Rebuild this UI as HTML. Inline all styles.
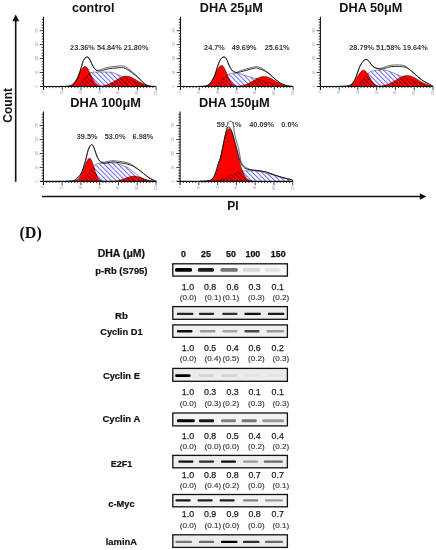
<!DOCTYPE html>
<html><head><meta charset="utf-8"><style>
html,body{margin:0;padding:0;background:#fff;width:436px;height:550px;overflow:hidden}
body{position:relative}
text{font-family:"Liberation Sans",Arial,sans-serif}
.ti{font-size:12.2px;font-weight:bold;fill:#111}
.pc{font-size:8px;font-weight:bold;fill:#383838}
.ax{font-size:12px;font-weight:bold;fill:#111}
.dl{font-family:"Liberation Serif","Times New Roman",serif;font-size:15.8px;font-weight:bold;fill:#111}
.wl{font-size:9.6px;font-weight:bold;fill:#111;stroke:#111;stroke-width:0.2px}
.ln{font-size:8.9px;font-weight:bold;fill:#111;stroke:#111;stroke-width:0.25px}
.rt{font-size:8.8px;fill:#222;stroke:#222;stroke-width:0.25px}
.pr{font-size:8.1px;fill:#3a3a3a;stroke:#3a3a3a;stroke-width:0.15px}
.tl{font-size:2.7px;fill:#8a9aaa}
</style></head><body>
<svg width="436" height="550" viewBox="0 0 436 550" style="position:absolute;left:0;top:0">
<defs>
<pattern id="hb" patternUnits="userSpaceOnUse" width="3.3" height="3.3" patternTransform="rotate(-45)">
<rect x="0" y="0" width="1.0" height="3.3" fill="#6464ff"/></pattern>
<pattern id="hk" patternUnits="userSpaceOnUse" width="3.3" height="3.3" patternTransform="rotate(-45)">
<rect x="0" y="0" width="0.85" height="3.3" fill="#600"/></pattern>
<filter id="bl" x="-10%" y="-100%" width="120%" height="300%"><feGaussianBlur stdDeviation="0.55"/></filter>
</defs>
<text x="70.1" y="50" class="pc" text-anchor="start" textLength="78.32" lengthAdjust="spacingAndGlyphs">23.36% 54.84% 21.80%</text>
<text x="204.1" y="49.6" class="pc" text-anchor="start" textLength="20.7" lengthAdjust="spacingAndGlyphs">24.7%</text>
<text x="231.7" y="49.6" class="pc" text-anchor="start" textLength="24.75" lengthAdjust="spacingAndGlyphs">49.69%</text>
<text x="264.7" y="49.6" class="pc" text-anchor="start" textLength="24.75" lengthAdjust="spacingAndGlyphs">25.61%</text>
<text x="349.3" y="50.1" class="pc" text-anchor="start" textLength="78.32" lengthAdjust="spacingAndGlyphs">28.79% 51.58% 19.64%</text>
<text x="76.8" y="139.4" class="pc" text-anchor="start" textLength="20.7" lengthAdjust="spacingAndGlyphs">39.5%</text>
<text x="104.7" y="139.4" class="pc" text-anchor="start" textLength="20.7" lengthAdjust="spacingAndGlyphs">53.0%</text>
<text x="132.6" y="139.4" class="pc" text-anchor="start" textLength="20.7" lengthAdjust="spacingAndGlyphs">6.98%</text>
<text x="216.8" y="126.7" class="pc" text-anchor="start" textLength="24.75" lengthAdjust="spacingAndGlyphs">59.91%</text>
<text x="249.3" y="126.7" class="pc" text-anchor="start" textLength="24.75" lengthAdjust="spacingAndGlyphs">40.09%</text>
<text x="281.3" y="126.7" class="pc" text-anchor="start" textLength="16.64" lengthAdjust="spacingAndGlyphs">0.0%</text>
<path d="M60,86.4 C61.67,86.37 67.85,86.5 70,86.2 C72.15,85.9 71.65,85.87 72.9,84.6 C74.15,83.33 76.12,81.43 77.5,78.6 C78.88,75.77 80.2,70.65 81.2,67.6 C82.2,64.55 82.58,62.07 83.5,60.3 C84.42,58.53 85.72,57.23 86.7,57 C87.68,56.77 88.48,57.6 89.4,58.9 C90.32,60.2 91.35,63.2 92.2,64.8 C93.05,66.4 93.73,67.58 94.5,68.5 C95.27,69.42 95.97,70.05 96.8,70.3 C97.63,70.55 98.58,70.22 99.5,70 C100.42,69.78 100.75,69.47 102.3,69 C103.85,68.53 106.5,67.65 108.8,67.2 C111.1,66.75 113.97,66.53 116.1,66.3 C118.23,66.07 120.07,65.73 121.6,65.8 C123.13,65.87 123.92,66.02 125.3,66.7 C126.68,67.38 128.53,68.83 129.9,69.9 C131.27,70.97 132.23,72 133.5,73.1 C134.77,74.2 136.07,75.08 137.5,76.5 C138.93,77.92 140.57,80.15 142.1,81.6 C143.63,83.05 145.38,84.42 146.7,85.2 C148.02,85.98 148.45,86.08 150,86.3 C151.55,86.52 155,86.47 156,86.5 L156,86.5 L60,86.5 Z" fill="#fff"/>
<polygon points="43.5,86.5 44,86.5 44.5,86.5 45,86.5 45.5,86.5 46,86.5 46.5,86.5 47,86.5 47.5,86.5 48,86.5 48.5,86.5 49,86.5 49.5,86.5 50,86.5 50.5,86.5 51,86.5 51.5,86.5 52,86.5 52.5,86.5 53,86.5 53.5,86.5 54,86.5 54.5,86.5 55,86.5 55.5,86.5 56,86.5 56.5,86.5 57,86.5 57.5,86.5 58,86.5 58.5,86.5 59,86.5 59.5,86.5 60,86.5 60.5,86.5 61,86.49 61.5,86.49 62,86.49 62.5,86.48 63,86.48 63.5,86.47 64,86.46 64.5,86.44 65,86.42 65.5,86.4 66,86.37 66.5,86.33 67,86.28 67.5,86.21 68,86.14 68.5,86.04 69,85.93 69.5,85.79 70,85.62 70.5,85.42 71,85.18 71.5,84.9 72,84.58 72.5,84.21 73,83.78 73.5,83.3 74,82.76 74.5,82.15 75,81.49 75.5,80.76 76,79.97 76.5,79.13 77,78.24 77.5,77.3 78,76.32 78.5,75.32 79,74.31 79.5,73.3 80,72.3 80.5,71.33 81,70.41 81.5,69.54 82,68.76 82.5,68.07 83,67.49 83.5,67.02 84,66.68 84.5,66.47 85,66.4 85.5,66.48 86,66.72 86.5,67.11 87,67.64 87.5,68.31 88,69.09 88.5,69.97 89,70.93 89.5,71.95 90,73.01 90.5,72.78 91,72.57 91.5,72.41 92,72.29 92.5,72.22 93,72.17 93.5,72.13 94,72.12 94.5,72.11 95,72.1 95.5,72.1 96,72.1 96.5,72.1 97,72.1 97.5,72.1 98,72.1 98.5,72.1 99,72.1 99.5,72.1 100,72.1 100.5,72.1 101,72.1 101.5,72.1 102,72.1 102.5,72.1 103,72.1 103.5,72.1 104,72.1 104.5,72.1 105,72.1 105.5,72.1 106,72.1 106.5,72.1 107,72.1 107.5,72.1 108,72.11 108.5,72.11 109,72.12 109.5,72.14 110,72.17 110.5,72.21 111,72.26 111.5,72.34 112,72.44 112.5,72.55 113,72.69 113.5,72.84 114,73.02 114.5,73.2 115,73.39 115.5,73.59 116,73.8 116.5,74.01 117,74.22 117.5,74.43 118,74.64 118.5,74.85 119,75.06 119.5,75.28 120,75.49 120.5,75.7 121,75.91 121.5,76.12 122,76.34 122.5,76.55 123,76.63 123.5,76.48 124,76.36 124.5,76.26 125,76.18 125.5,76.13 126,76.1 126.5,76.1 127,76.12 127.5,76.17 128,76.24 128.5,76.34 129,76.46 129.5,76.6 130,76.76 130.5,76.95 131,77.15 131.5,77.37 132,77.6 132.5,77.85 133,78.12 133.5,78.39 134,78.68 134.5,78.97 135,79.27 135.5,79.58 136,79.88 136.5,80.19 137,80.5 137.5,80.81 138,81.11 138.5,81.41 139,81.71 139.5,82 140,82.28 140.5,82.55 141,82.82 141.5,83.07 142,83.32 142.5,83.55 143,83.78 143.5,83.99 144,84.19 144.5,84.38 145,84.56 145.5,84.73 146,84.89 146.5,85.04 147,85.17 147.5,85.3 148,85.42 148.5,85.53 149,85.63 149.5,85.72 150,85.8 150.5,85.88 151,85.95 151.5,86.01 152,86.06 152.5,86.12 153,86.16 153.5,86.2 154,86.24 154.5,86.27 155,86.3 155.5,86.33 156,86.35 156,86.35 155.5,86.33 155,86.3 154.5,86.27 154,86.24 153.5,86.2 153,86.16 152.5,86.12 152,86.06 151.5,86.01 151,85.95 150.5,85.88 150,85.8 149.5,85.72 149,85.63 148.5,85.53 148,85.42 147.5,85.3 147,85.17 146.5,85.04 146,84.89 145.5,84.73 145,84.56 144.5,84.38 144,84.19 143.5,83.99 143,83.78 142.5,83.55 142,83.32 141.5,83.07 141,82.82 140.5,82.55 140,82.28 139.5,82 139,81.71 138.5,81.41 138,81.11 137.5,80.81 137,80.5 136.5,80.19 136,79.88 135.5,79.58 135,79.27 134.5,78.97 134,78.68 133.5,78.39 133,78.12 132.5,77.85 132,77.6 131.5,77.37 131,77.15 130.5,76.95 130,76.76 129.5,76.6 129,76.46 128.5,76.34 128,76.24 127.5,76.17 127,76.12 126.5,76.1 126,76.1 125.5,76.13 125,76.18 124.5,76.26 124,76.36 123.5,76.48 123,76.63 122.5,76.8 122,76.98 121.5,77.19 121,77.41 120.5,77.65 120,77.91 119.5,78.17 119,78.45 118.5,78.74 118,79.03 117.5,79.33 117,79.64 116.5,79.94 116,80.25 115.5,80.56 115,80.87 114.5,81.17 114,81.47 113.5,81.77 113,82.06 112.5,82.34 112,82.61 111.5,82.87 111,83.12 110.5,83.37 110,83.6 109.5,83.82 109,84.03 108.5,84.23 108,84.42 107.5,84.6 107,84.76 106.5,84.92 106,85.06 105.5,85.2 105,85.32 104.5,85.44 104,85.55 103.5,85.64 103,85.73 102.5,85.82 102,85.89 101.5,85.96 101,86.02 100.5,86.06 100,85.94 99.5,85.8 99,85.62 98.5,85.4 98,85.14 97.5,84.84 97,84.48 96.5,84.06 96,83.58 95.5,83.03 95,82.42 94.5,81.73 94,80.98 93.5,80.15 93,79.25 92.5,78.3 92,77.3 91.5,76.25 91,75.18 90.5,74.09 90,73.01 89.5,71.95 89,70.93 88.5,69.97 88,69.09 87.5,68.31 87,67.64 86.5,67.11 86,66.72 85.5,66.48 85,66.4 84.5,66.47 84,66.68 83.5,67.02 83,67.49 82.5,68.07 82,68.76 81.5,69.54 81,70.41 80.5,71.33 80,72.3 79.5,73.3 79,74.31 78.5,75.32 78,76.32 77.5,77.3 77,78.24 76.5,79.13 76,79.97 75.5,80.76 75,81.49 74.5,82.15 74,82.76 73.5,83.3 73,83.78 72.5,84.21 72,84.58 71.5,84.9 71,85.18 70.5,85.42 70,85.62 69.5,85.79 69,85.93 68.5,86.04 68,86.14 67.5,86.21 67,86.28 66.5,86.33 66,86.37 65.5,86.4 65,86.42 64.5,86.44 64,86.46 63.5,86.47 63,86.48 62.5,86.48 62,86.49 61.5,86.49 61,86.49 60.5,86.5 60,86.5 59.5,86.5 59,86.5 58.5,86.5 58,86.5 57.5,86.5 57,86.5 56.5,86.5 56,86.5 55.5,86.5 55,86.5 54.5,86.5 54,86.5 53.5,86.5 53,86.5 52.5,86.5 52,86.5 51.5,86.5 51,86.5 50.5,86.5 50,86.5 49.5,86.5 49,86.5 48.5,86.5 48,86.5 47.5,86.5 47,86.5 46.5,86.5 46,86.5 45.5,86.5 45,86.5 44.5,86.5 44,86.5 43.5,86.5" fill="#fff"/>
<polygon points="43.5,86.5 44,86.5 44.5,86.5 45,86.5 45.5,86.5 46,86.5 46.5,86.5 47,86.5 47.5,86.5 48,86.5 48.5,86.5 49,86.5 49.5,86.5 50,86.5 50.5,86.5 51,86.5 51.5,86.5 52,86.5 52.5,86.5 53,86.5 53.5,86.5 54,86.5 54.5,86.5 55,86.5 55.5,86.5 56,86.5 56.5,86.5 57,86.5 57.5,86.5 58,86.5 58.5,86.5 59,86.5 59.5,86.5 60,86.5 60.5,86.5 61,86.49 61.5,86.49 62,86.49 62.5,86.48 63,86.48 63.5,86.47 64,86.46 64.5,86.44 65,86.42 65.5,86.4 66,86.37 66.5,86.33 67,86.28 67.5,86.21 68,86.14 68.5,86.04 69,85.93 69.5,85.79 70,85.62 70.5,85.42 71,85.18 71.5,84.9 72,84.58 72.5,84.21 73,83.78 73.5,83.3 74,82.76 74.5,82.15 75,81.49 75.5,80.76 76,79.97 76.5,79.13 77,78.24 77.5,77.3 78,76.32 78.5,75.32 79,74.31 79.5,73.3 80,72.3 80.5,71.33 81,70.41 81.5,69.54 82,68.76 82.5,68.07 83,67.49 83.5,67.02 84,66.68 84.5,66.47 85,66.4 85.5,66.48 86,66.72 86.5,67.11 87,67.64 87.5,68.31 88,69.09 88.5,69.97 89,70.93 89.5,71.95 90,73.01 90.5,72.78 91,72.57 91.5,72.41 92,72.29 92.5,72.22 93,72.17 93.5,72.13 94,72.12 94.5,72.11 95,72.1 95.5,72.1 96,72.1 96.5,72.1 97,72.1 97.5,72.1 98,72.1 98.5,72.1 99,72.1 99.5,72.1 100,72.1 100.5,72.1 101,72.1 101.5,72.1 102,72.1 102.5,72.1 103,72.1 103.5,72.1 104,72.1 104.5,72.1 105,72.1 105.5,72.1 106,72.1 106.5,72.1 107,72.1 107.5,72.1 108,72.11 108.5,72.11 109,72.12 109.5,72.14 110,72.17 110.5,72.21 111,72.26 111.5,72.34 112,72.44 112.5,72.55 113,72.69 113.5,72.84 114,73.02 114.5,73.2 115,73.39 115.5,73.59 116,73.8 116.5,74.01 117,74.22 117.5,74.43 118,74.64 118.5,74.85 119,75.06 119.5,75.28 120,75.49 120.5,75.7 121,75.91 121.5,76.12 122,76.34 122.5,76.55 123,76.63 123.5,76.48 124,76.36 124.5,76.26 125,76.18 125.5,76.13 126,76.1 126.5,76.1 127,76.12 127.5,76.17 128,76.24 128.5,76.34 129,76.46 129.5,76.6 130,76.76 130.5,76.95 131,77.15 131.5,77.37 132,77.6 132.5,77.85 133,78.12 133.5,78.39 134,78.68 134.5,78.97 135,79.27 135.5,79.58 136,79.88 136.5,80.19 137,80.5 137.5,80.81 138,81.11 138.5,81.41 139,81.71 139.5,82 140,82.28 140.5,82.55 141,82.82 141.5,83.07 142,83.32 142.5,83.55 143,83.78 143.5,83.99 144,84.19 144.5,84.38 145,84.56 145.5,84.73 146,84.89 146.5,85.04 147,85.17 147.5,85.3 148,85.42 148.5,85.53 149,85.63 149.5,85.72 150,85.8 150.5,85.88 151,85.95 151.5,86.01 152,86.06 152.5,86.12 153,86.16 153.5,86.2 154,86.24 154.5,86.27 155,86.3 155.5,86.33 156,86.35 156,86.35 155.5,86.33 155,86.3 154.5,86.27 154,86.24 153.5,86.2 153,86.16 152.5,86.12 152,86.06 151.5,86.01 151,85.95 150.5,85.88 150,85.8 149.5,85.72 149,85.63 148.5,85.53 148,85.42 147.5,85.3 147,85.17 146.5,85.04 146,84.89 145.5,84.73 145,84.56 144.5,84.38 144,84.19 143.5,83.99 143,83.78 142.5,83.55 142,83.32 141.5,83.07 141,82.82 140.5,82.55 140,82.28 139.5,82 139,81.71 138.5,81.41 138,81.11 137.5,80.81 137,80.5 136.5,80.19 136,79.88 135.5,79.58 135,79.27 134.5,78.97 134,78.68 133.5,78.39 133,78.12 132.5,77.85 132,77.6 131.5,77.37 131,77.15 130.5,76.95 130,76.76 129.5,76.6 129,76.46 128.5,76.34 128,76.24 127.5,76.17 127,76.12 126.5,76.1 126,76.1 125.5,76.13 125,76.18 124.5,76.26 124,76.36 123.5,76.48 123,76.63 122.5,76.8 122,76.98 121.5,77.19 121,77.41 120.5,77.65 120,77.91 119.5,78.17 119,78.45 118.5,78.74 118,79.03 117.5,79.33 117,79.64 116.5,79.94 116,80.25 115.5,80.56 115,80.87 114.5,81.17 114,81.47 113.5,81.77 113,82.06 112.5,82.34 112,82.61 111.5,82.87 111,83.12 110.5,83.37 110,83.6 109.5,83.82 109,84.03 108.5,84.23 108,84.42 107.5,84.6 107,84.76 106.5,84.92 106,85.06 105.5,85.2 105,85.32 104.5,85.44 104,85.55 103.5,85.64 103,85.73 102.5,85.82 102,85.89 101.5,85.96 101,86.02 100.5,86.06 100,85.94 99.5,85.8 99,85.62 98.5,85.4 98,85.14 97.5,84.84 97,84.48 96.5,84.06 96,83.58 95.5,83.03 95,82.42 94.5,81.73 94,80.98 93.5,80.15 93,79.25 92.5,78.3 92,77.3 91.5,76.25 91,75.18 90.5,74.09 90,73.01 89.5,71.95 89,70.93 88.5,69.97 88,69.09 87.5,68.31 87,67.64 86.5,67.11 86,66.72 85.5,66.48 85,66.4 84.5,66.47 84,66.68 83.5,67.02 83,67.49 82.5,68.07 82,68.76 81.5,69.54 81,70.41 80.5,71.33 80,72.3 79.5,73.3 79,74.31 78.5,75.32 78,76.32 77.5,77.3 77,78.24 76.5,79.13 76,79.97 75.5,80.76 75,81.49 74.5,82.15 74,82.76 73.5,83.3 73,83.78 72.5,84.21 72,84.58 71.5,84.9 71,85.18 70.5,85.42 70,85.62 69.5,85.79 69,85.93 68.5,86.04 68,86.14 67.5,86.21 67,86.28 66.5,86.33 66,86.37 65.5,86.4 65,86.42 64.5,86.44 64,86.46 63.5,86.47 63,86.48 62.5,86.48 62,86.49 61.5,86.49 61,86.49 60.5,86.5 60,86.5 59.5,86.5 59,86.5 58.5,86.5 58,86.5 57.5,86.5 57,86.5 56.5,86.5 56,86.5 55.5,86.5 55,86.5 54.5,86.5 54,86.5 53.5,86.5 53,86.5 52.5,86.5 52,86.5 51.5,86.5 51,86.5 50.5,86.5 50,86.5 49.5,86.5 49,86.5 48.5,86.5 48,86.5 47.5,86.5 47,86.5 46.5,86.5 46,86.5 45.5,86.5 45,86.5 44.5,86.5 44,86.5 43.5,86.5" fill="url(#hb)"/>
<polygon points="43.5,86.5 44,86.5 44.5,86.5 45,86.5 45.5,86.5 46,86.5 46.5,86.5 47,86.5 47.5,86.5 48,86.5 48.5,86.5 49,86.5 49.5,86.5 50,86.5 50.5,86.5 51,86.5 51.5,86.5 52,86.5 52.5,86.5 53,86.5 53.5,86.5 54,86.5 54.5,86.5 55,86.5 55.5,86.5 56,86.5 56.5,86.5 57,86.5 57.5,86.5 58,86.5 58.5,86.5 59,86.5 59.5,86.5 60,86.5 60.5,86.5 61,86.49 61.5,86.49 62,86.49 62.5,86.48 63,86.48 63.5,86.47 64,86.46 64.5,86.44 65,86.42 65.5,86.4 66,86.37 66.5,86.33 67,86.28 67.5,86.21 68,86.14 68.5,86.04 69,85.93 69.5,85.79 70,85.62 70.5,85.42 71,85.18 71.5,84.9 72,84.58 72.5,84.21 73,83.78 73.5,83.3 74,82.76 74.5,82.15 75,81.49 75.5,80.76 76,79.97 76.5,79.13 77,78.24 77.5,77.3 78,76.32 78.5,75.32 79,74.31 79.5,73.3 80,72.3 80.5,71.33 81,70.41 81.5,69.54 82,68.76 82.5,68.07 83,67.49 83.5,67.02 84,66.68 84.5,66.47 85,66.4 85.5,66.48 86,66.72 86.5,67.11 87,67.64 87.5,68.31 88,69.09 88.5,69.97 89,70.93 89.5,71.95 90,73.01 90.5,74.09 91,75.18 91.5,76.25 92,77.3 92.5,78.3 93,79.25 93.5,80.15 94,80.98 94.5,81.73 95,82.42 95.5,83.03 96,83.58 96.5,84.06 97,84.48 97.5,84.84 98,85.14 98.5,85.4 99,85.62 99.5,85.8 100,85.94 100.5,86.06 101,86.02 101.5,85.96 102,85.89 102.5,85.82 103,85.73 103.5,85.64 104,85.55 104.5,85.44 105,85.32 105.5,85.2 106,85.06 106.5,84.92 107,84.76 107.5,84.6 108,84.42 108.5,84.23 109,84.03 109.5,83.82 110,83.6 110.5,83.37 111,83.12 111.5,82.87 112,82.61 112.5,82.34 113,82.06 113.5,81.77 114,81.47 114.5,81.17 115,80.87 115.5,80.56 116,80.25 116.5,79.94 117,79.64 117.5,79.33 118,79.03 118.5,78.74 119,78.45 119.5,78.17 120,77.91 120.5,77.65 121,77.41 121.5,77.19 122,76.98 122.5,76.8 123,76.63 123.5,76.48 124,76.36 124.5,76.26 125,76.18 125.5,76.13 126,76.1 126.5,76.1 127,76.12 127.5,76.17 128,76.24 128.5,76.34 129,76.46 129.5,76.6 130,76.76 130.5,76.95 131,77.15 131.5,77.37 132,77.6 132.5,77.85 133,78.12 133.5,78.39 134,78.68 134.5,78.97 135,79.27 135.5,79.58 136,79.88 136.5,80.19 137,80.5 137.5,80.81 138,81.11 138.5,81.41 139,81.71 139.5,82 140,82.28 140.5,82.55 141,82.82 141.5,83.07 142,83.32 142.5,83.55 143,83.78 143.5,83.99 144,84.19 144.5,84.38 145,84.56 145.5,84.73 146,84.89 146.5,85.04 147,85.17 147.5,85.3 148,85.42 148.5,85.53 149,85.63 149.5,85.72 150,85.8 150.5,85.88 151,85.95 151.5,86.01 152,86.06 152.5,86.12 153,86.16 153.5,86.2 154,86.24 154.5,86.27 155,86.3 155.5,86.33 156,86.35 156,86.5 43.5,86.5" fill="#f00"/>
<polygon points="43.5,86.5 44,86.5 44.5,86.5 45,86.5 45.5,86.5 46,86.5 46.5,86.5 47,86.5 47.5,86.5 48,86.5 48.5,86.5 49,86.5 49.5,86.5 50,86.5 50.5,86.5 51,86.5 51.5,86.5 52,86.5 52.5,86.5 53,86.5 53.5,86.5 54,86.5 54.5,86.5 55,86.5 55.5,86.5 56,86.5 56.5,86.5 57,86.5 57.5,86.5 58,86.5 58.5,86.5 59,86.5 59.5,86.5 60,86.5 60.5,86.5 61,86.5 61.5,86.5 62,86.5 62.5,86.5 63,86.5 63.5,86.5 64,86.5 64.5,86.5 65,86.5 65.5,86.5 66,86.5 66.5,86.5 67,86.5 67.5,86.5 68,86.5 68.5,86.5 69,86.5 69.5,86.5 70,86.5 70.5,86.5 71,86.5 71.5,86.5 72,86.5 72.5,86.5 73,86.5 73.5,86.49 74,86.48 74.5,86.47 75,86.43 75.5,86.38 76,86.31 76.5,86.19 77,86.03 77.5,85.82 78,85.55 78.5,85.22 79,84.83 79.5,84.39 80,83.91 80.5,83.38 81,82.83 81.5,82.27 82,81.68 82.5,81.09 83,80.5 83.5,79.9 84,79.3 84.5,78.7 85,78.1 85.5,77.51 86,76.92 86.5,76.33 87,75.77 87.5,75.22 88,74.69 88.5,74.21 89,73.77 89.5,73.38 90,73.05 90.5,74.09 91,75.18 91.5,76.25 92,77.3 92.5,78.3 93,79.25 93.5,80.15 94,80.98 94.5,81.73 95,82.42 95.5,83.03 96,83.58 96.5,84.06 97,84.48 97.5,84.84 98,85.14 98.5,85.4 99,85.62 99.5,85.8 100,85.94 100.5,86.06 101,86.02 101.5,85.96 102,85.89 102.5,85.82 103,85.73 103.5,85.64 104,85.55 104.5,85.44 105,85.32 105.5,85.2 106,85.06 106.5,84.92 107,84.76 107.5,84.6 108,84.42 108.5,84.23 109,84.03 109.5,83.82 110,83.6 110.5,83.37 111,83.12 111.5,82.87 112,82.61 112.5,82.34 113,82.06 113.5,81.77 114,81.47 114.5,81.17 115,80.87 115.5,80.56 116,80.25 116.5,79.94 117,79.64 117.5,79.33 118,79.03 118.5,78.74 119,78.45 119.5,78.17 120,77.91 120.5,77.65 121,77.41 121.5,77.19 122,76.98 122.5,76.8 123,76.76 123.5,76.97 124,77.18 124.5,77.39 125,77.61 125.5,77.82 126,78.03 126.5,78.24 127,78.45 127.5,78.66 128,78.88 128.5,79.09 129,79.3 129.5,79.51 130,79.72 130.5,79.94 131,80.15 131.5,80.36 132,80.57 132.5,80.78 133,80.99 133.5,81.21 134,81.42 134.5,81.63 135,81.84 135.5,82.05 136,82.26 136.5,82.48 137,82.69 137.5,82.9 138,83.11 138.5,83.32 139,83.54 139.5,83.75 140,83.96 140.5,84.17 141,84.38 141.5,84.59 142,84.8 142.5,85.01 143,85.21 143.5,85.4 144,85.58 144.5,85.76 145,85.91 145.5,86.05 146,86.16 146.5,86.26 147,86.34 147.5,86.39 148,86.43 148.5,86.46 149,86.48 149.5,86.49 150,86.49 150.5,86.5 151,86.5 151.5,86.5 152,86.5 152.5,86.5 153,86.5 153.5,86.5 154,86.5 154.5,86.5 155,86.5 155.5,86.5 156,86.5 156,86.5 43.5,86.5" fill="url(#hk)"/>
<polyline points="75,86.43 75.5,86.38 76,86.31 76.5,86.19 77,86.03 77.5,85.82 78,85.55 78.5,85.22 79,84.83 79.5,84.39 80,83.91 80.5,83.38 81,82.83 81.5,82.27 82,81.68 82.5,81.09 83,80.5 83.5,79.9 84,79.3 84.5,78.7 85,78.1 85.5,77.51 86,76.92 86.5,76.33 87,75.77 87.5,75.22 88,74.69 88.5,74.21 89,73.77 89.5,73.38 90,73.05 90.5,72.78" fill="none" stroke="#400" stroke-width="0.55"/>
<polyline points="90.5,72.78 91,72.57 91.5,72.41 92,72.29 92.5,72.22 93,72.17 93.5,72.13 94,72.12 94.5,72.11 95,72.1 95.5,72.1 96,72.1 96.5,72.1 97,72.1 97.5,72.1 98,72.1 98.5,72.1 99,72.1 99.5,72.1 100,72.1 100.5,72.1 101,72.1 101.5,72.1 102,72.1 102.5,72.1 103,72.1 103.5,72.1 104,72.1 104.5,72.1 105,72.1 105.5,72.1 106,72.1 106.5,72.1 107,72.1 107.5,72.1 108,72.11 108.5,72.11 109,72.12 109.5,72.14 110,72.17 110.5,72.21 111,72.26 111.5,72.34 112,72.44 112.5,72.55 113,72.69 113.5,72.84 114,73.02 114.5,73.2 115,73.39 115.5,73.59 116,73.8 116.5,74.01 117,74.22 117.5,74.43 118,74.64 118.5,74.85 119,75.06 119.5,75.28 120,75.49 120.5,75.7 121,75.91 121.5,76.12 122,76.34 122.5,76.55 123,76.76" fill="none" stroke="#336" stroke-width="0.55"/>
<polyline points="123,76.76 123.5,76.97 124,77.18 124.5,77.39 125,77.61 125.5,77.82 126,78.03 126.5,78.24 127,78.45 127.5,78.66 128,78.88 128.5,79.09 129,79.3 129.5,79.51 130,79.72 130.5,79.94 131,80.15 131.5,80.36 132,80.57 132.5,80.78 133,80.99 133.5,81.21 134,81.42 134.5,81.63 135,81.84 135.5,82.05 136,82.26 136.5,82.48 137,82.69 137.5,82.9 138,83.11 138.5,83.32 139,83.54 139.5,83.75 140,83.96 140.5,84.17 141,84.38 141.5,84.59 142,84.8 142.5,85.01 143,85.21 143.5,85.4 144,85.58 144.5,85.76 145,85.91 145.5,86.05 146,86.16 146.5,86.26 147,86.34 147.5,86.39 148,86.43" fill="none" stroke="#400" stroke-width="0.55"/>
<polyline points="65.5,86.4 66,86.37 66.5,86.33 67,86.28 67.5,86.21 68,86.14 68.5,86.04 69,85.93 69.5,85.79 70,85.62 70.5,85.42 71,85.18 71.5,84.9 72,84.58 72.5,84.21 73,83.78 73.5,83.3 74,82.76 74.5,82.15 75,81.49 75.5,80.76 76,79.97 76.5,79.13 77,78.24 77.5,77.3 78,76.32 78.5,75.32 79,74.31 79.5,73.3 80,72.3 80.5,71.33 81,70.41 81.5,69.54 82,68.76 82.5,68.07 83,67.49 83.5,67.02 84,66.68 84.5,66.47 85,66.4 85.5,66.48 86,66.72 86.5,67.11 87,67.64 87.5,68.31 88,69.09 88.5,69.97 89,70.93 89.5,71.95 90,73.01 90.5,74.09 91,75.18 91.5,76.25 92,77.3 92.5,78.3 93,79.25 93.5,80.15 94,80.98 94.5,81.73 95,82.42 95.5,83.03 96,83.58 96.5,84.06 97,84.48 97.5,84.84 98,85.14 98.5,85.4 99,85.62 99.5,85.8 100,85.94 100.5,86.06 101,86.02 101.5,85.96 102,85.89 102.5,85.82 103,85.73 103.5,85.64 104,85.55 104.5,85.44 105,85.32 105.5,85.2 106,85.06 106.5,84.92 107,84.76 107.5,84.6 108,84.42 108.5,84.23 109,84.03 109.5,83.82 110,83.6 110.5,83.37 111,83.12 111.5,82.87 112,82.61 112.5,82.34 113,82.06 113.5,81.77 114,81.47 114.5,81.17 115,80.87 115.5,80.56 116,80.25 116.5,79.94 117,79.64 117.5,79.33 118,79.03 118.5,78.74 119,78.45 119.5,78.17 120,77.91 120.5,77.65 121,77.41 121.5,77.19 122,76.98 122.5,76.8 123,76.63 123.5,76.48 124,76.36 124.5,76.26 125,76.18 125.5,76.13 126,76.1 126.5,76.1 127,76.12 127.5,76.17 128,76.24 128.5,76.34 129,76.46 129.5,76.6 130,76.76 130.5,76.95 131,77.15 131.5,77.37 132,77.6 132.5,77.85 133,78.12 133.5,78.39 134,78.68 134.5,78.97 135,79.27 135.5,79.58 136,79.88 136.5,80.19 137,80.5 137.5,80.81 138,81.11 138.5,81.41 139,81.71 139.5,82 140,82.28 140.5,82.55 141,82.82 141.5,83.07 142,83.32 142.5,83.55 143,83.78 143.5,83.99 144,84.19 144.5,84.38 145,84.56 145.5,84.73 146,84.89 146.5,85.04 147,85.17 147.5,85.3 148,85.42 148.5,85.53 149,85.63 149.5,85.72 150,85.8 150.5,85.88 151,85.95 151.5,86.01 152,86.06 152.5,86.12 153,86.16 153.5,86.2 154,86.24 154.5,86.27 155,86.3 155.5,86.33 156,86.35" fill="none" stroke="#300" stroke-width="0.5"/>
<path d="M60,86.4 C61.67,86.37 67.85,86.5 70,86.2 C72.15,85.9 71.65,85.87 72.9,84.6 C74.15,83.33 76.12,81.43 77.5,78.6 C78.88,75.77 80.2,70.65 81.2,67.6 C82.2,64.55 82.58,62.07 83.5,60.3 C84.42,58.53 85.72,57.23 86.7,57 C87.68,56.77 88.48,57.6 89.4,58.9 C90.32,60.2 91.35,63.2 92.2,64.8 C93.05,66.4 93.73,67.58 94.5,68.5 C95.27,69.42 95.97,70.05 96.8,70.3 C97.63,70.55 98.58,70.22 99.5,70 C100.42,69.78 100.75,69.47 102.3,69 C103.85,68.53 106.5,67.65 108.8,67.2 C111.1,66.75 113.97,66.53 116.1,66.3 C118.23,66.07 120.07,65.73 121.6,65.8 C123.13,65.87 123.92,66.02 125.3,66.7 C126.68,67.38 128.53,68.83 129.9,69.9 C131.27,70.97 132.23,72 133.5,73.1 C134.77,74.2 136.07,75.08 137.5,76.5 C138.93,77.92 140.57,80.15 142.1,81.6 C143.63,83.05 145.38,84.42 146.7,85.2 C148.02,85.98 148.45,86.08 150,86.3 C151.55,86.52 155,86.47 156,86.5" fill="none" stroke="#444" stroke-width="0.8"/>
<path d="M60,86.4 C61.67,86.37 67.85,86.5 70,86.2 C72.15,85.9 71.65,85.87 72.9,84.6 C74.15,83.33 76.12,81.43 77.5,78.6 C78.88,75.77 80.2,70.65 81.2,67.6 C82.2,64.55 82.58,62.07 83.5,60.3 C84.42,58.53 85.72,57.23 86.7,57 C87.68,56.77 88.48,57.6 89.4,58.9 C90.32,60.2 91.35,63.2 92.2,64.8 C93.05,66.4 93.73,67.56 94.5,68.51 C95.27,69.46 95.97,70.09 96.8,70.49 C97.63,70.89 98.58,70.91 99.5,70.9 C100.42,70.9 100.75,70.81 102.3,70.46 C103.85,70.11 106.5,69.21 108.8,68.8 C111.1,68.39 113.97,68.2 116.1,68 C118.23,67.79 120.07,67.5 121.6,67.57 C123.13,67.63 123.92,67.77 125.3,68.37 C126.68,68.97 128.53,70.24 129.9,71.18 C131.27,72.12 132.23,73.06 133.5,74.01 C134.77,74.96 136.07,75.59 137.5,76.86 C138.93,78.13 140.57,80.22 142.1,81.61 C143.63,83 145.38,84.42 146.7,85.2 C148.02,85.98 148.45,86.08 150,86.3 C151.55,86.52 155,86.47 156,86.5" fill="none" stroke="#111" stroke-width="0.9"/>
<line x1="43.5" y1="16.7" x2="43.5" y2="90" stroke="#111" stroke-width="1.1"/>
<line x1="40" y1="86.5" x2="156.1" y2="86.5" stroke="#111" stroke-width="1.1"/>
<line x1="41.7" y1="83.71" x2="43.5" y2="83.71" stroke="#111" stroke-width="0.8"/>
<line x1="41.7" y1="80.92" x2="43.5" y2="80.92" stroke="#111" stroke-width="0.8"/>
<line x1="41.7" y1="78.12" x2="43.5" y2="78.12" stroke="#111" stroke-width="0.8"/>
<line x1="41.7" y1="75.33" x2="43.5" y2="75.33" stroke="#111" stroke-width="0.8"/>
<line x1="39.7" y1="72.54" x2="43.5" y2="72.54" stroke="#111" stroke-width="0.8"/>
<line x1="41.7" y1="69.75" x2="43.5" y2="69.75" stroke="#111" stroke-width="0.8"/>
<line x1="41.7" y1="66.96" x2="43.5" y2="66.96" stroke="#111" stroke-width="0.8"/>
<line x1="41.7" y1="64.16" x2="43.5" y2="64.16" stroke="#111" stroke-width="0.8"/>
<line x1="41.7" y1="61.37" x2="43.5" y2="61.37" stroke="#111" stroke-width="0.8"/>
<line x1="39.7" y1="58.58" x2="43.5" y2="58.58" stroke="#111" stroke-width="0.8"/>
<line x1="41.7" y1="55.79" x2="43.5" y2="55.79" stroke="#111" stroke-width="0.8"/>
<line x1="41.7" y1="53" x2="43.5" y2="53" stroke="#111" stroke-width="0.8"/>
<line x1="41.7" y1="50.2" x2="43.5" y2="50.2" stroke="#111" stroke-width="0.8"/>
<line x1="41.7" y1="47.41" x2="43.5" y2="47.41" stroke="#111" stroke-width="0.8"/>
<line x1="39.7" y1="44.62" x2="43.5" y2="44.62" stroke="#111" stroke-width="0.8"/>
<line x1="41.7" y1="41.83" x2="43.5" y2="41.83" stroke="#111" stroke-width="0.8"/>
<line x1="41.7" y1="39.04" x2="43.5" y2="39.04" stroke="#111" stroke-width="0.8"/>
<line x1="41.7" y1="36.24" x2="43.5" y2="36.24" stroke="#111" stroke-width="0.8"/>
<line x1="41.7" y1="33.45" x2="43.5" y2="33.45" stroke="#111" stroke-width="0.8"/>
<line x1="39.7" y1="30.66" x2="43.5" y2="30.66" stroke="#111" stroke-width="0.8"/>
<line x1="41.7" y1="27.87" x2="43.5" y2="27.87" stroke="#111" stroke-width="0.8"/>
<line x1="41.7" y1="25.08" x2="43.5" y2="25.08" stroke="#111" stroke-width="0.8"/>
<line x1="41.7" y1="22.28" x2="43.5" y2="22.28" stroke="#111" stroke-width="0.8"/>
<line x1="41.7" y1="19.49" x2="43.5" y2="19.49" stroke="#111" stroke-width="0.8"/>
<line x1="46.63" y1="86.5" x2="46.63" y2="88.1" stroke="#111" stroke-width="0.8"/>
<line x1="49.76" y1="86.5" x2="49.76" y2="88.1" stroke="#111" stroke-width="0.8"/>
<line x1="52.88" y1="86.5" x2="52.88" y2="88.1" stroke="#111" stroke-width="0.8"/>
<line x1="56.01" y1="86.5" x2="56.01" y2="88.1" stroke="#111" stroke-width="0.8"/>
<line x1="59.14" y1="86.5" x2="59.14" y2="88.1" stroke="#111" stroke-width="0.8"/>
<line x1="62.27" y1="86.5" x2="62.27" y2="90.3" stroke="#111" stroke-width="0.8"/>
<line x1="65.39" y1="86.5" x2="65.39" y2="88.1" stroke="#111" stroke-width="0.8"/>
<line x1="68.52" y1="86.5" x2="68.52" y2="88.1" stroke="#111" stroke-width="0.8"/>
<line x1="71.65" y1="86.5" x2="71.65" y2="88.1" stroke="#111" stroke-width="0.8"/>
<line x1="74.78" y1="86.5" x2="74.78" y2="88.1" stroke="#111" stroke-width="0.8"/>
<line x1="77.91" y1="86.5" x2="77.91" y2="88.1" stroke="#111" stroke-width="0.8"/>
<line x1="81.03" y1="86.5" x2="81.03" y2="90.3" stroke="#111" stroke-width="0.8"/>
<line x1="84.16" y1="86.5" x2="84.16" y2="88.1" stroke="#111" stroke-width="0.8"/>
<line x1="87.29" y1="86.5" x2="87.29" y2="88.1" stroke="#111" stroke-width="0.8"/>
<line x1="90.42" y1="86.5" x2="90.42" y2="88.1" stroke="#111" stroke-width="0.8"/>
<line x1="93.54" y1="86.5" x2="93.54" y2="88.1" stroke="#111" stroke-width="0.8"/>
<line x1="96.67" y1="86.5" x2="96.67" y2="88.1" stroke="#111" stroke-width="0.8"/>
<line x1="99.8" y1="86.5" x2="99.8" y2="90.3" stroke="#111" stroke-width="0.8"/>
<line x1="102.93" y1="86.5" x2="102.93" y2="88.1" stroke="#111" stroke-width="0.8"/>
<line x1="106.06" y1="86.5" x2="106.06" y2="88.1" stroke="#111" stroke-width="0.8"/>
<line x1="109.18" y1="86.5" x2="109.18" y2="88.1" stroke="#111" stroke-width="0.8"/>
<line x1="112.31" y1="86.5" x2="112.31" y2="88.1" stroke="#111" stroke-width="0.8"/>
<line x1="115.44" y1="86.5" x2="115.44" y2="88.1" stroke="#111" stroke-width="0.8"/>
<line x1="118.57" y1="86.5" x2="118.57" y2="90.3" stroke="#111" stroke-width="0.8"/>
<line x1="121.69" y1="86.5" x2="121.69" y2="88.1" stroke="#111" stroke-width="0.8"/>
<line x1="124.82" y1="86.5" x2="124.82" y2="88.1" stroke="#111" stroke-width="0.8"/>
<line x1="127.95" y1="86.5" x2="127.95" y2="88.1" stroke="#111" stroke-width="0.8"/>
<line x1="131.08" y1="86.5" x2="131.08" y2="88.1" stroke="#111" stroke-width="0.8"/>
<line x1="134.21" y1="86.5" x2="134.21" y2="88.1" stroke="#111" stroke-width="0.8"/>
<line x1="137.33" y1="86.5" x2="137.33" y2="90.3" stroke="#111" stroke-width="0.8"/>
<line x1="140.46" y1="86.5" x2="140.46" y2="88.1" stroke="#111" stroke-width="0.8"/>
<line x1="143.59" y1="86.5" x2="143.59" y2="88.1" stroke="#111" stroke-width="0.8"/>
<line x1="146.72" y1="86.5" x2="146.72" y2="88.1" stroke="#111" stroke-width="0.8"/>
<line x1="149.84" y1="86.5" x2="149.84" y2="88.1" stroke="#111" stroke-width="0.8"/>
<line x1="152.97" y1="86.5" x2="152.97" y2="88.1" stroke="#111" stroke-width="0.8"/>
<line x1="156.1" y1="86.5" x2="156.1" y2="90.3" stroke="#111" stroke-width="0.8"/>
<text x="37.9" y="86.5" class="tl" text-anchor="middle" transform="rotate(-90 37.9 86.5)">0</text>
<text x="37.9" y="72.54" class="tl" text-anchor="middle" transform="rotate(-90 37.9 72.54)">50</text>
<text x="37.9" y="58.58" class="tl" text-anchor="middle" transform="rotate(-90 37.9 58.58)">100</text>
<text x="37.9" y="44.62" class="tl" text-anchor="middle" transform="rotate(-90 37.9 44.62)">150</text>
<text x="37.9" y="30.66" class="tl" text-anchor="middle" transform="rotate(-90 37.9 30.66)">200</text>
<text x="44.4" y="91.1" class="tl" transform="rotate(-90 44.4 91.1)" text-anchor="end">0</text>
<text x="63.17" y="91.1" class="tl" transform="rotate(-90 63.17 91.1)" text-anchor="end">20</text>
<text x="81.93" y="91.1" class="tl" transform="rotate(-90 81.93 91.1)" text-anchor="end">40</text>
<text x="100.7" y="91.1" class="tl" transform="rotate(-90 100.7 91.1)" text-anchor="end">60</text>
<text x="119.47" y="91.1" class="tl" transform="rotate(-90 119.47 91.1)" text-anchor="end">80</text>
<text x="138.23" y="91.1" class="tl" transform="rotate(-90 138.23 91.1)" text-anchor="end">100</text>
<text x="157" y="91.1" class="tl" transform="rotate(-90 157 91.1)" text-anchor="end">120</text>
<path d="M198,86.4 C199.33,86.35 204.07,86.48 206,86.1 C207.93,85.72 208.23,85.65 209.6,84.1 C210.97,82.55 212.83,79.85 214.2,76.8 C215.57,73.75 216.73,68.72 217.8,65.8 C218.87,62.88 219.6,60.77 220.6,59.3 C221.6,57.83 222.8,57 223.8,57 C224.8,57 225.68,57.83 226.6,59.3 C227.52,60.77 228.32,63.88 229.3,65.8 C230.28,67.72 231.35,69.72 232.5,70.8 C233.65,71.88 234.82,72.33 236.2,72.3 C237.58,72.27 239.02,71.18 240.8,70.6 C242.58,70.02 244.45,69.47 246.9,68.8 C249.35,68.13 253.48,66.85 255.5,66.6 C257.52,66.35 257.77,66.9 259,67.3 C260.23,67.7 261.28,68.02 262.9,69 C264.52,69.98 266.78,71.63 268.7,73.2 C270.62,74.77 272.5,76.77 274.4,78.4 C276.3,80.03 278.18,81.82 280.1,83 C282.02,84.18 283.92,84.92 285.9,85.5 C287.88,86.08 290.98,86.33 292,86.5 L292,86.5 L198,86.5 Z" fill="#fff"/>
<polygon points="180.5,86.5 181,86.5 181.5,86.5 182,86.5 182.5,86.5 183,86.5 183.5,86.5 184,86.5 184.5,86.5 185,86.5 185.5,86.5 186,86.5 186.5,86.5 187,86.5 187.5,86.5 188,86.5 188.5,86.5 189,86.5 189.5,86.5 190,86.5 190.5,86.5 191,86.5 191.5,86.5 192,86.5 192.5,86.5 193,86.5 193.5,86.5 194,86.5 194.5,86.5 195,86.5 195.5,86.5 196,86.5 196.5,86.5 197,86.49 197.5,86.49 198,86.49 198.5,86.49 199,86.48 199.5,86.47 200,86.47 200.5,86.45 201,86.44 201.5,86.42 202,86.39 202.5,86.36 203,86.32 203.5,86.27 204,86.2 204.5,86.12 205,86.02 205.5,85.9 206,85.75 206.5,85.57 207,85.36 207.5,85.11 208,84.82 208.5,84.48 209,84.09 209.5,83.64 210,83.14 210.5,82.57 211,81.94 211.5,81.24 212,80.48 212.5,79.65 213,78.76 213.5,77.83 214,76.84 214.5,75.82 215,74.77 215.5,73.7 216,72.64 216.5,71.59 217,70.57 217.5,69.6 218,68.7 218.5,67.88 219,67.15 219.5,66.54 220,66.05 220.5,65.69 221,65.47 221.5,65.4 222,65.49 222.5,65.76 223,66.2 223.5,66.8 224,67.54 224.5,68.42 225,69.4 225.5,70.46 226,71.59 226.5,72.76 227,73.94 227.5,74.72 228,74.44 228.5,74.2 229,74.01 229.5,73.86 230,73.75 230.5,73.67 231,73.6 231.5,73.55 232,73.51 232.5,73.48 233,73.45 233.5,73.43 234,73.41 234.5,73.39 235,73.37 235.5,73.36 236,73.36 236.5,73.37 237,73.39 237.5,73.43 238,73.48 238.5,73.56 239,73.65 239.5,73.76 240,73.88 240.5,74.01 241,74.15 241.5,74.29 242,74.44 242.5,74.59 243,74.75 243.5,74.9 244,75.06 244.5,75.21 245,75.37 245.5,75.52 246,75.67 246.5,75.83 247,75.98 247.5,76.14 248,76.29 248.5,76.45 249,76.6 249.5,76.76 250,76.91 250.5,77.07 251,77.22 251.5,77.38 252,77.53 252.5,77.68 253,77.84 253.5,77.99 254,78.15 254.5,78.3 255,78.46 255.5,78.61 256,78.77 256.5,78.85 257,78.57 257.5,78.31 258,78.05 258.5,77.81 259,77.59 259.5,77.38 260,77.18 260.5,77.01 261,76.86 261.5,76.72 262,76.61 262.5,76.52 263,76.46 263.5,76.42 264,76.4 264.5,76.41 265,76.44 265.5,76.49 266,76.57 266.5,76.68 267,76.8 267.5,76.95 268,77.11 268.5,77.3 269,77.5 269.5,77.72 270,77.96 270.5,78.2 271,78.47 271.5,78.74 272,79.02 272.5,79.3 273,79.6 273.5,79.89 274,80.19 274.5,80.49 275,80.79 275.5,81.09 276,81.39 276.5,81.68 277,81.96 277.5,82.24 278,82.51 278.5,82.77 279,83.03 279.5,83.27 280,83.5 280.5,83.73 281,83.94 281.5,84.14 282,84.33 282.5,84.52 283,84.69 283.5,84.84 284,84.99 284.5,85.13 285,85.26 285.5,85.38 286,85.49 286.5,85.59 287,85.69 287.5,85.77 288,85.85 288.5,85.92 289,85.99 289.5,86.05 290,86.1 290.5,86.15 291,86.19 291.5,86.23 292,86.26 292.5,86.29 293,86.32 293,86.32 292.5,86.29 292,86.26 291.5,86.23 291,86.19 290.5,86.15 290,86.1 289.5,86.05 289,85.99 288.5,85.92 288,85.85 287.5,85.77 287,85.69 286.5,85.59 286,85.49 285.5,85.38 285,85.26 284.5,85.13 284,84.99 283.5,84.84 283,84.69 282.5,84.52 282,84.33 281.5,84.14 281,83.94 280.5,83.73 280,83.5 279.5,83.27 279,83.03 278.5,82.77 278,82.51 277.5,82.24 277,81.96 276.5,81.68 276,81.39 275.5,81.09 275,80.79 274.5,80.49 274,80.19 273.5,79.89 273,79.6 272.5,79.3 272,79.02 271.5,78.74 271,78.47 270.5,78.2 270,77.96 269.5,77.72 269,77.5 268.5,77.3 268,77.11 267.5,76.95 267,76.8 266.5,76.68 266,76.57 265.5,76.49 265,76.44 264.5,76.41 264,76.4 263.5,76.42 263,76.46 262.5,76.52 262,76.61 261.5,76.72 261,76.86 260.5,77.01 260,77.18 259.5,77.38 259,77.59 258.5,77.81 258,78.05 257.5,78.31 257,78.57 256.5,78.85 256,79.13 255.5,79.42 255,79.72 254.5,80.01 254,80.31 253.5,80.61 253,80.91 252.5,81.21 252,81.5 251.5,81.79 251,82.07 250.5,82.35 250,82.62 249.5,82.87 249,83.12 248.5,83.36 248,83.59 247.5,83.81 247,84.02 246.5,84.22 246,84.41 245.5,84.58 245,84.75 244.5,84.91 244,85.05 243.5,85.19 243,85.31 242.5,85.43 242,85.53 241.5,85.63 241,85.72 240.5,85.81 240,85.88 239.5,85.95 239,86.01 238.5,86.07 238,86.12 237.5,86.16 237,86.16 236.5,86.05 236,85.93 235.5,85.77 235,85.57 234.5,85.34 234,85.05 233.5,84.71 233,84.32 232.5,83.85 232,83.31 231.5,82.7 231,82.01 230.5,81.24 230,80.39 229.5,79.46 229,78.46 228.5,77.39 228,76.28 227.5,75.12 227,73.94 226.5,72.76 226,71.59 225.5,70.46 225,69.4 224.5,68.42 224,67.54 223.5,66.8 223,66.2 222.5,65.76 222,65.49 221.5,65.4 221,65.47 220.5,65.69 220,66.05 219.5,66.54 219,67.15 218.5,67.88 218,68.7 217.5,69.6 217,70.57 216.5,71.59 216,72.64 215.5,73.7 215,74.77 214.5,75.82 214,76.84 213.5,77.83 213,78.76 212.5,79.65 212,80.48 211.5,81.24 211,81.94 210.5,82.57 210,83.14 209.5,83.64 209,84.09 208.5,84.48 208,84.82 207.5,85.11 207,85.36 206.5,85.57 206,85.75 205.5,85.9 205,86.02 204.5,86.12 204,86.2 203.5,86.27 203,86.32 202.5,86.36 202,86.39 201.5,86.42 201,86.44 200.5,86.45 200,86.47 199.5,86.47 199,86.48 198.5,86.49 198,86.49 197.5,86.49 197,86.49 196.5,86.5 196,86.5 195.5,86.5 195,86.5 194.5,86.5 194,86.5 193.5,86.5 193,86.5 192.5,86.5 192,86.5 191.5,86.5 191,86.5 190.5,86.5 190,86.5 189.5,86.5 189,86.5 188.5,86.5 188,86.5 187.5,86.5 187,86.5 186.5,86.5 186,86.5 185.5,86.5 185,86.5 184.5,86.5 184,86.5 183.5,86.5 183,86.5 182.5,86.5 182,86.5 181.5,86.5 181,86.5 180.5,86.5" fill="#fff"/>
<polygon points="180.5,86.5 181,86.5 181.5,86.5 182,86.5 182.5,86.5 183,86.5 183.5,86.5 184,86.5 184.5,86.5 185,86.5 185.5,86.5 186,86.5 186.5,86.5 187,86.5 187.5,86.5 188,86.5 188.5,86.5 189,86.5 189.5,86.5 190,86.5 190.5,86.5 191,86.5 191.5,86.5 192,86.5 192.5,86.5 193,86.5 193.5,86.5 194,86.5 194.5,86.5 195,86.5 195.5,86.5 196,86.5 196.5,86.5 197,86.49 197.5,86.49 198,86.49 198.5,86.49 199,86.48 199.5,86.47 200,86.47 200.5,86.45 201,86.44 201.5,86.42 202,86.39 202.5,86.36 203,86.32 203.5,86.27 204,86.2 204.5,86.12 205,86.02 205.5,85.9 206,85.75 206.5,85.57 207,85.36 207.5,85.11 208,84.82 208.5,84.48 209,84.09 209.5,83.64 210,83.14 210.5,82.57 211,81.94 211.5,81.24 212,80.48 212.5,79.65 213,78.76 213.5,77.83 214,76.84 214.5,75.82 215,74.77 215.5,73.7 216,72.64 216.5,71.59 217,70.57 217.5,69.6 218,68.7 218.5,67.88 219,67.15 219.5,66.54 220,66.05 220.5,65.69 221,65.47 221.5,65.4 222,65.49 222.5,65.76 223,66.2 223.5,66.8 224,67.54 224.5,68.42 225,69.4 225.5,70.46 226,71.59 226.5,72.76 227,73.94 227.5,74.72 228,74.44 228.5,74.2 229,74.01 229.5,73.86 230,73.75 230.5,73.67 231,73.6 231.5,73.55 232,73.51 232.5,73.48 233,73.45 233.5,73.43 234,73.41 234.5,73.39 235,73.37 235.5,73.36 236,73.36 236.5,73.37 237,73.39 237.5,73.43 238,73.48 238.5,73.56 239,73.65 239.5,73.76 240,73.88 240.5,74.01 241,74.15 241.5,74.29 242,74.44 242.5,74.59 243,74.75 243.5,74.9 244,75.06 244.5,75.21 245,75.37 245.5,75.52 246,75.67 246.5,75.83 247,75.98 247.5,76.14 248,76.29 248.5,76.45 249,76.6 249.5,76.76 250,76.91 250.5,77.07 251,77.22 251.5,77.38 252,77.53 252.5,77.68 253,77.84 253.5,77.99 254,78.15 254.5,78.3 255,78.46 255.5,78.61 256,78.77 256.5,78.85 257,78.57 257.5,78.31 258,78.05 258.5,77.81 259,77.59 259.5,77.38 260,77.18 260.5,77.01 261,76.86 261.5,76.72 262,76.61 262.5,76.52 263,76.46 263.5,76.42 264,76.4 264.5,76.41 265,76.44 265.5,76.49 266,76.57 266.5,76.68 267,76.8 267.5,76.95 268,77.11 268.5,77.3 269,77.5 269.5,77.72 270,77.96 270.5,78.2 271,78.47 271.5,78.74 272,79.02 272.5,79.3 273,79.6 273.5,79.89 274,80.19 274.5,80.49 275,80.79 275.5,81.09 276,81.39 276.5,81.68 277,81.96 277.5,82.24 278,82.51 278.5,82.77 279,83.03 279.5,83.27 280,83.5 280.5,83.73 281,83.94 281.5,84.14 282,84.33 282.5,84.52 283,84.69 283.5,84.84 284,84.99 284.5,85.13 285,85.26 285.5,85.38 286,85.49 286.5,85.59 287,85.69 287.5,85.77 288,85.85 288.5,85.92 289,85.99 289.5,86.05 290,86.1 290.5,86.15 291,86.19 291.5,86.23 292,86.26 292.5,86.29 293,86.32 293,86.32 292.5,86.29 292,86.26 291.5,86.23 291,86.19 290.5,86.15 290,86.1 289.5,86.05 289,85.99 288.5,85.92 288,85.85 287.5,85.77 287,85.69 286.5,85.59 286,85.49 285.5,85.38 285,85.26 284.5,85.13 284,84.99 283.5,84.84 283,84.69 282.5,84.52 282,84.33 281.5,84.14 281,83.94 280.5,83.73 280,83.5 279.5,83.27 279,83.03 278.5,82.77 278,82.51 277.5,82.24 277,81.96 276.5,81.68 276,81.39 275.5,81.09 275,80.79 274.5,80.49 274,80.19 273.5,79.89 273,79.6 272.5,79.3 272,79.02 271.5,78.74 271,78.47 270.5,78.2 270,77.96 269.5,77.72 269,77.5 268.5,77.3 268,77.11 267.5,76.95 267,76.8 266.5,76.68 266,76.57 265.5,76.49 265,76.44 264.5,76.41 264,76.4 263.5,76.42 263,76.46 262.5,76.52 262,76.61 261.5,76.72 261,76.86 260.5,77.01 260,77.18 259.5,77.38 259,77.59 258.5,77.81 258,78.05 257.5,78.31 257,78.57 256.5,78.85 256,79.13 255.5,79.42 255,79.72 254.5,80.01 254,80.31 253.5,80.61 253,80.91 252.5,81.21 252,81.5 251.5,81.79 251,82.07 250.5,82.35 250,82.62 249.5,82.87 249,83.12 248.5,83.36 248,83.59 247.5,83.81 247,84.02 246.5,84.22 246,84.41 245.5,84.58 245,84.75 244.5,84.91 244,85.05 243.5,85.19 243,85.31 242.5,85.43 242,85.53 241.5,85.63 241,85.72 240.5,85.81 240,85.88 239.5,85.95 239,86.01 238.5,86.07 238,86.12 237.5,86.16 237,86.16 236.5,86.05 236,85.93 235.5,85.77 235,85.57 234.5,85.34 234,85.05 233.5,84.71 233,84.32 232.5,83.85 232,83.31 231.5,82.7 231,82.01 230.5,81.24 230,80.39 229.5,79.46 229,78.46 228.5,77.39 228,76.28 227.5,75.12 227,73.94 226.5,72.76 226,71.59 225.5,70.46 225,69.4 224.5,68.42 224,67.54 223.5,66.8 223,66.2 222.5,65.76 222,65.49 221.5,65.4 221,65.47 220.5,65.69 220,66.05 219.5,66.54 219,67.15 218.5,67.88 218,68.7 217.5,69.6 217,70.57 216.5,71.59 216,72.64 215.5,73.7 215,74.77 214.5,75.82 214,76.84 213.5,77.83 213,78.76 212.5,79.65 212,80.48 211.5,81.24 211,81.94 210.5,82.57 210,83.14 209.5,83.64 209,84.09 208.5,84.48 208,84.82 207.5,85.11 207,85.36 206.5,85.57 206,85.75 205.5,85.9 205,86.02 204.5,86.12 204,86.2 203.5,86.27 203,86.32 202.5,86.36 202,86.39 201.5,86.42 201,86.44 200.5,86.45 200,86.47 199.5,86.47 199,86.48 198.5,86.49 198,86.49 197.5,86.49 197,86.49 196.5,86.5 196,86.5 195.5,86.5 195,86.5 194.5,86.5 194,86.5 193.5,86.5 193,86.5 192.5,86.5 192,86.5 191.5,86.5 191,86.5 190.5,86.5 190,86.5 189.5,86.5 189,86.5 188.5,86.5 188,86.5 187.5,86.5 187,86.5 186.5,86.5 186,86.5 185.5,86.5 185,86.5 184.5,86.5 184,86.5 183.5,86.5 183,86.5 182.5,86.5 182,86.5 181.5,86.5 181,86.5 180.5,86.5" fill="url(#hb)"/>
<polygon points="180.5,86.5 181,86.5 181.5,86.5 182,86.5 182.5,86.5 183,86.5 183.5,86.5 184,86.5 184.5,86.5 185,86.5 185.5,86.5 186,86.5 186.5,86.5 187,86.5 187.5,86.5 188,86.5 188.5,86.5 189,86.5 189.5,86.5 190,86.5 190.5,86.5 191,86.5 191.5,86.5 192,86.5 192.5,86.5 193,86.5 193.5,86.5 194,86.5 194.5,86.5 195,86.5 195.5,86.5 196,86.5 196.5,86.5 197,86.49 197.5,86.49 198,86.49 198.5,86.49 199,86.48 199.5,86.47 200,86.47 200.5,86.45 201,86.44 201.5,86.42 202,86.39 202.5,86.36 203,86.32 203.5,86.27 204,86.2 204.5,86.12 205,86.02 205.5,85.9 206,85.75 206.5,85.57 207,85.36 207.5,85.11 208,84.82 208.5,84.48 209,84.09 209.5,83.64 210,83.14 210.5,82.57 211,81.94 211.5,81.24 212,80.48 212.5,79.65 213,78.76 213.5,77.83 214,76.84 214.5,75.82 215,74.77 215.5,73.7 216,72.64 216.5,71.59 217,70.57 217.5,69.6 218,68.7 218.5,67.88 219,67.15 219.5,66.54 220,66.05 220.5,65.69 221,65.47 221.5,65.4 222,65.49 222.5,65.76 223,66.2 223.5,66.8 224,67.54 224.5,68.42 225,69.4 225.5,70.46 226,71.59 226.5,72.76 227,73.94 227.5,75.12 228,76.28 228.5,77.39 229,78.46 229.5,79.46 230,80.39 230.5,81.24 231,82.01 231.5,82.7 232,83.31 232.5,83.85 233,84.32 233.5,84.71 234,85.05 234.5,85.34 235,85.57 235.5,85.77 236,85.93 236.5,86.05 237,86.16 237.5,86.16 238,86.12 238.5,86.07 239,86.01 239.5,85.95 240,85.88 240.5,85.81 241,85.72 241.5,85.63 242,85.53 242.5,85.43 243,85.31 243.5,85.19 244,85.05 244.5,84.91 245,84.75 245.5,84.58 246,84.41 246.5,84.22 247,84.02 247.5,83.81 248,83.59 248.5,83.36 249,83.12 249.5,82.87 250,82.62 250.5,82.35 251,82.07 251.5,81.79 252,81.5 252.5,81.21 253,80.91 253.5,80.61 254,80.31 254.5,80.01 255,79.72 255.5,79.42 256,79.13 256.5,78.85 257,78.57 257.5,78.31 258,78.05 258.5,77.81 259,77.59 259.5,77.38 260,77.18 260.5,77.01 261,76.86 261.5,76.72 262,76.61 262.5,76.52 263,76.46 263.5,76.42 264,76.4 264.5,76.41 265,76.44 265.5,76.49 266,76.57 266.5,76.68 267,76.8 267.5,76.95 268,77.11 268.5,77.3 269,77.5 269.5,77.72 270,77.96 270.5,78.2 271,78.47 271.5,78.74 272,79.02 272.5,79.3 273,79.6 273.5,79.89 274,80.19 274.5,80.49 275,80.79 275.5,81.09 276,81.39 276.5,81.68 277,81.96 277.5,82.24 278,82.51 278.5,82.77 279,83.03 279.5,83.27 280,83.5 280.5,83.73 281,83.94 281.5,84.14 282,84.33 282.5,84.52 283,84.69 283.5,84.84 284,84.99 284.5,85.13 285,85.26 285.5,85.38 286,85.49 286.5,85.59 287,85.69 287.5,85.77 288,85.85 288.5,85.92 289,85.99 289.5,86.05 290,86.1 290.5,86.15 291,86.19 291.5,86.23 292,86.26 292.5,86.29 293,86.32 293,86.5 180.5,86.5" fill="#f00"/>
<polygon points="180.5,86.5 181,86.5 181.5,86.5 182,86.5 182.5,86.5 183,86.5 183.5,86.5 184,86.5 184.5,86.5 185,86.5 185.5,86.5 186,86.5 186.5,86.5 187,86.5 187.5,86.5 188,86.5 188.5,86.5 189,86.5 189.5,86.5 190,86.5 190.5,86.5 191,86.5 191.5,86.5 192,86.5 192.5,86.5 193,86.5 193.5,86.5 194,86.5 194.5,86.5 195,86.5 195.5,86.5 196,86.5 196.5,86.5 197,86.5 197.5,86.5 198,86.5 198.5,86.5 199,86.5 199.5,86.5 200,86.5 200.5,86.5 201,86.5 201.5,86.5 202,86.5 202.5,86.5 203,86.5 203.5,86.5 204,86.5 204.5,86.5 205,86.5 205.5,86.5 206,86.5 206.5,86.5 207,86.5 207.5,86.5 208,86.5 208.5,86.5 209,86.5 209.5,86.5 210,86.5 210.5,86.49 211,86.49 211.5,86.47 212,86.45 212.5,86.41 213,86.34 213.5,86.25 214,86.12 214.5,85.94 215,85.72 215.5,85.45 216,85.13 216.5,84.77 217,84.37 217.5,83.94 218,83.49 218.5,83.03 219,82.55 219.5,82.06 220,81.57 220.5,81.08 221,80.59 221.5,80.1 222,79.61 222.5,79.12 223,78.63 223.5,78.14 224,77.65 224.5,77.17 225,76.7 225.5,76.25 226,75.82 226.5,75.42 227,75.05 227.5,75.12 228,76.28 228.5,77.39 229,78.46 229.5,79.46 230,80.39 230.5,81.24 231,82.01 231.5,82.7 232,83.31 232.5,83.85 233,84.32 233.5,84.71 234,85.05 234.5,85.34 235,85.57 235.5,85.77 236,85.93 236.5,86.05 237,86.16 237.5,86.16 238,86.12 238.5,86.07 239,86.01 239.5,85.95 240,85.88 240.5,85.81 241,85.72 241.5,85.63 242,85.53 242.5,85.43 243,85.31 243.5,85.19 244,85.05 244.5,84.91 245,84.75 245.5,84.58 246,84.41 246.5,84.22 247,84.02 247.5,83.81 248,83.59 248.5,83.36 249,83.12 249.5,82.87 250,82.62 250.5,82.35 251,82.07 251.5,81.79 252,81.5 252.5,81.21 253,80.91 253.5,80.61 254,80.31 254.5,80.01 255,79.72 255.5,79.42 256,79.13 256.5,78.92 257,79.08 257.5,79.23 258,79.39 258.5,79.54 259,79.7 259.5,79.85 260,80 260.5,80.16 261,80.31 261.5,80.47 262,80.62 262.5,80.78 263,80.93 263.5,81.09 264,81.24 264.5,81.4 265,81.55 265.5,81.71 266,81.86 266.5,82.02 267,82.17 267.5,82.32 268,82.48 268.5,82.63 269,82.79 269.5,82.94 270,83.1 270.5,83.25 271,83.41 271.5,83.56 272,83.72 272.5,83.87 273,84.03 273.5,84.18 274,84.33 274.5,84.49 275,84.64 275.5,84.8 276,84.95 276.5,85.11 277,85.26 277.5,85.41 278,85.56 278.5,85.7 279,85.83 279.5,85.96 280,86.07 280.5,86.17 281,86.26 281.5,86.32 282,86.38 282.5,86.42 283,86.45 283.5,86.47 284,86.48 284.5,86.49 285,86.5 285.5,86.5 286,86.5 286.5,86.5 287,86.5 287.5,86.5 288,86.5 288.5,86.5 289,86.5 289.5,86.5 290,86.5 290.5,86.5 291,86.5 291.5,86.5 292,86.5 292.5,86.5 293,86.5 293,86.5 180.5,86.5" fill="url(#hk)"/>
<polyline points="212,86.45 212.5,86.41 213,86.34 213.5,86.25 214,86.12 214.5,85.94 215,85.72 215.5,85.45 216,85.13 216.5,84.77 217,84.37 217.5,83.94 218,83.49 218.5,83.03 219,82.55 219.5,82.06 220,81.57 220.5,81.08 221,80.59 221.5,80.1 222,79.61 222.5,79.12 223,78.63 223.5,78.14 224,77.65 224.5,77.17 225,76.7 225.5,76.25 226,75.82 226.5,75.42 227,75.05 227.5,74.72" fill="none" stroke="#400" stroke-width="0.55"/>
<polyline points="227.5,74.72 228,74.44 228.5,74.2 229,74.01 229.5,73.86 230,73.75 230.5,73.67 231,73.6 231.5,73.55 232,73.51 232.5,73.48 233,73.45 233.5,73.43 234,73.41 234.5,73.39 235,73.37 235.5,73.36 236,73.36 236.5,73.37 237,73.39 237.5,73.43 238,73.48 238.5,73.56 239,73.65 239.5,73.76 240,73.88 240.5,74.01 241,74.15 241.5,74.29 242,74.44 242.5,74.59 243,74.75 243.5,74.9 244,75.06 244.5,75.21 245,75.37 245.5,75.52 246,75.67 246.5,75.83 247,75.98 247.5,76.14 248,76.29 248.5,76.45 249,76.6 249.5,76.76 250,76.91 250.5,77.07 251,77.22 251.5,77.38 252,77.53 252.5,77.68 253,77.84 253.5,77.99 254,78.15 254.5,78.3 255,78.46 255.5,78.61 256,78.77 256.5,78.92" fill="none" stroke="#336" stroke-width="0.55"/>
<polyline points="256.5,78.92 257,79.08 257.5,79.23 258,79.39 258.5,79.54 259,79.7 259.5,79.85 260,80 260.5,80.16 261,80.31 261.5,80.47 262,80.62 262.5,80.78 263,80.93 263.5,81.09 264,81.24 264.5,81.4 265,81.55 265.5,81.71 266,81.86 266.5,82.02 267,82.17 267.5,82.32 268,82.48 268.5,82.63 269,82.79 269.5,82.94 270,83.1 270.5,83.25 271,83.41 271.5,83.56 272,83.72 272.5,83.87 273,84.03 273.5,84.18 274,84.33 274.5,84.49 275,84.64 275.5,84.8 276,84.95 276.5,85.11 277,85.26 277.5,85.41 278,85.56 278.5,85.7 279,85.83 279.5,85.96 280,86.07 280.5,86.17 281,86.26 281.5,86.32 282,86.38 282.5,86.42" fill="none" stroke="#400" stroke-width="0.55"/>
<polyline points="201.5,86.42 202,86.39 202.5,86.36 203,86.32 203.5,86.27 204,86.2 204.5,86.12 205,86.02 205.5,85.9 206,85.75 206.5,85.57 207,85.36 207.5,85.11 208,84.82 208.5,84.48 209,84.09 209.5,83.64 210,83.14 210.5,82.57 211,81.94 211.5,81.24 212,80.48 212.5,79.65 213,78.76 213.5,77.83 214,76.84 214.5,75.82 215,74.77 215.5,73.7 216,72.64 216.5,71.59 217,70.57 217.5,69.6 218,68.7 218.5,67.88 219,67.15 219.5,66.54 220,66.05 220.5,65.69 221,65.47 221.5,65.4 222,65.49 222.5,65.76 223,66.2 223.5,66.8 224,67.54 224.5,68.42 225,69.4 225.5,70.46 226,71.59 226.5,72.76 227,73.94 227.5,75.12 228,76.28 228.5,77.39 229,78.46 229.5,79.46 230,80.39 230.5,81.24 231,82.01 231.5,82.7 232,83.31 232.5,83.85 233,84.32 233.5,84.71 234,85.05 234.5,85.34 235,85.57 235.5,85.77 236,85.93 236.5,86.05 237,86.16 237.5,86.16 238,86.12 238.5,86.07 239,86.01 239.5,85.95 240,85.88 240.5,85.81 241,85.72 241.5,85.63 242,85.53 242.5,85.43 243,85.31 243.5,85.19 244,85.05 244.5,84.91 245,84.75 245.5,84.58 246,84.41 246.5,84.22 247,84.02 247.5,83.81 248,83.59 248.5,83.36 249,83.12 249.5,82.87 250,82.62 250.5,82.35 251,82.07 251.5,81.79 252,81.5 252.5,81.21 253,80.91 253.5,80.61 254,80.31 254.5,80.01 255,79.72 255.5,79.42 256,79.13 256.5,78.85 257,78.57 257.5,78.31 258,78.05 258.5,77.81 259,77.59 259.5,77.38 260,77.18 260.5,77.01 261,76.86 261.5,76.72 262,76.61 262.5,76.52 263,76.46 263.5,76.42 264,76.4 264.5,76.41 265,76.44 265.5,76.49 266,76.57 266.5,76.68 267,76.8 267.5,76.95 268,77.11 268.5,77.3 269,77.5 269.5,77.72 270,77.96 270.5,78.2 271,78.47 271.5,78.74 272,79.02 272.5,79.3 273,79.6 273.5,79.89 274,80.19 274.5,80.49 275,80.79 275.5,81.09 276,81.39 276.5,81.68 277,81.96 277.5,82.24 278,82.51 278.5,82.77 279,83.03 279.5,83.27 280,83.5 280.5,83.73 281,83.94 281.5,84.14 282,84.33 282.5,84.52 283,84.69 283.5,84.84 284,84.99 284.5,85.13 285,85.26 285.5,85.38 286,85.49 286.5,85.59 287,85.69 287.5,85.77 288,85.85 288.5,85.92 289,85.99 289.5,86.05 290,86.1 290.5,86.15 291,86.19 291.5,86.23 292,86.26 292.5,86.29 293,86.32" fill="none" stroke="#300" stroke-width="0.5"/>
<path d="M198,86.4 C199.33,86.35 204.07,86.48 206,86.1 C207.93,85.72 208.23,85.65 209.6,84.1 C210.97,82.55 212.83,79.85 214.2,76.8 C215.57,73.75 216.73,68.72 217.8,65.8 C218.87,62.88 219.6,60.77 220.6,59.3 C221.6,57.83 222.8,57 223.8,57 C224.8,57 225.68,57.83 226.6,59.3 C227.52,60.77 228.32,63.88 229.3,65.8 C230.28,67.72 231.35,69.72 232.5,70.8 C233.65,71.88 234.82,72.33 236.2,72.3 C237.58,72.27 239.02,71.18 240.8,70.6 C242.58,70.02 244.45,69.47 246.9,68.8 C249.35,68.13 253.48,66.85 255.5,66.6 C257.52,66.35 257.77,66.9 259,67.3 C260.23,67.7 261.28,68.02 262.9,69 C264.52,69.98 266.78,71.63 268.7,73.2 C270.62,74.77 272.5,76.77 274.4,78.4 C276.3,80.03 278.18,81.82 280.1,83 C282.02,84.18 283.92,84.92 285.9,85.5 C287.88,86.08 290.98,86.33 292,86.5" fill="none" stroke="#444" stroke-width="0.8"/>
<path d="M198,86.4 C199.33,86.35 204.07,86.48 206,86.1 C207.93,85.72 208.23,85.65 209.6,84.1 C210.97,82.55 212.83,79.85 214.2,76.8 C215.57,73.75 216.73,68.72 217.8,65.8 C218.87,62.88 219.6,60.77 220.6,59.3 C221.6,57.83 222.8,57 223.8,57 C224.8,57 225.68,57.83 226.6,59.3 C227.52,60.77 228.32,63.88 229.3,65.8 C230.28,67.72 231.35,69.68 232.5,70.8 C233.65,71.92 234.82,72.36 236.2,72.53 C237.58,72.7 239.02,72.21 240.8,71.82 C242.58,71.43 244.45,70.8 246.9,70.17 C249.35,69.54 253.48,68.29 255.5,68.05 C257.52,67.82 257.77,68.42 259,68.75 C260.23,69.08 261.28,69.23 262.9,70.02 C264.52,70.8 266.78,72.08 268.7,73.48 C270.62,74.87 272.5,76.82 274.4,78.4 C276.3,79.99 278.18,81.82 280.1,83 C282.02,84.18 283.92,84.92 285.9,85.5 C287.88,86.08 290.98,86.33 292,86.5" fill="none" stroke="#111" stroke-width="0.9"/>
<line x1="180.5" y1="16.7" x2="180.5" y2="90" stroke="#111" stroke-width="1.1"/>
<line x1="177" y1="86.5" x2="293.1" y2="86.5" stroke="#111" stroke-width="1.1"/>
<line x1="178.7" y1="83.71" x2="180.5" y2="83.71" stroke="#111" stroke-width="0.8"/>
<line x1="178.7" y1="80.92" x2="180.5" y2="80.92" stroke="#111" stroke-width="0.8"/>
<line x1="178.7" y1="78.12" x2="180.5" y2="78.12" stroke="#111" stroke-width="0.8"/>
<line x1="178.7" y1="75.33" x2="180.5" y2="75.33" stroke="#111" stroke-width="0.8"/>
<line x1="176.7" y1="72.54" x2="180.5" y2="72.54" stroke="#111" stroke-width="0.8"/>
<line x1="178.7" y1="69.75" x2="180.5" y2="69.75" stroke="#111" stroke-width="0.8"/>
<line x1="178.7" y1="66.96" x2="180.5" y2="66.96" stroke="#111" stroke-width="0.8"/>
<line x1="178.7" y1="64.16" x2="180.5" y2="64.16" stroke="#111" stroke-width="0.8"/>
<line x1="178.7" y1="61.37" x2="180.5" y2="61.37" stroke="#111" stroke-width="0.8"/>
<line x1="176.7" y1="58.58" x2="180.5" y2="58.58" stroke="#111" stroke-width="0.8"/>
<line x1="178.7" y1="55.79" x2="180.5" y2="55.79" stroke="#111" stroke-width="0.8"/>
<line x1="178.7" y1="53" x2="180.5" y2="53" stroke="#111" stroke-width="0.8"/>
<line x1="178.7" y1="50.2" x2="180.5" y2="50.2" stroke="#111" stroke-width="0.8"/>
<line x1="178.7" y1="47.41" x2="180.5" y2="47.41" stroke="#111" stroke-width="0.8"/>
<line x1="176.7" y1="44.62" x2="180.5" y2="44.62" stroke="#111" stroke-width="0.8"/>
<line x1="178.7" y1="41.83" x2="180.5" y2="41.83" stroke="#111" stroke-width="0.8"/>
<line x1="178.7" y1="39.04" x2="180.5" y2="39.04" stroke="#111" stroke-width="0.8"/>
<line x1="178.7" y1="36.24" x2="180.5" y2="36.24" stroke="#111" stroke-width="0.8"/>
<line x1="178.7" y1="33.45" x2="180.5" y2="33.45" stroke="#111" stroke-width="0.8"/>
<line x1="176.7" y1="30.66" x2="180.5" y2="30.66" stroke="#111" stroke-width="0.8"/>
<line x1="178.7" y1="27.87" x2="180.5" y2="27.87" stroke="#111" stroke-width="0.8"/>
<line x1="178.7" y1="25.08" x2="180.5" y2="25.08" stroke="#111" stroke-width="0.8"/>
<line x1="178.7" y1="22.28" x2="180.5" y2="22.28" stroke="#111" stroke-width="0.8"/>
<line x1="178.7" y1="19.49" x2="180.5" y2="19.49" stroke="#111" stroke-width="0.8"/>
<line x1="183.63" y1="86.5" x2="183.63" y2="88.1" stroke="#111" stroke-width="0.8"/>
<line x1="186.76" y1="86.5" x2="186.76" y2="88.1" stroke="#111" stroke-width="0.8"/>
<line x1="189.88" y1="86.5" x2="189.88" y2="88.1" stroke="#111" stroke-width="0.8"/>
<line x1="193.01" y1="86.5" x2="193.01" y2="88.1" stroke="#111" stroke-width="0.8"/>
<line x1="196.14" y1="86.5" x2="196.14" y2="88.1" stroke="#111" stroke-width="0.8"/>
<line x1="199.27" y1="86.5" x2="199.27" y2="90.3" stroke="#111" stroke-width="0.8"/>
<line x1="202.39" y1="86.5" x2="202.39" y2="88.1" stroke="#111" stroke-width="0.8"/>
<line x1="205.52" y1="86.5" x2="205.52" y2="88.1" stroke="#111" stroke-width="0.8"/>
<line x1="208.65" y1="86.5" x2="208.65" y2="88.1" stroke="#111" stroke-width="0.8"/>
<line x1="211.78" y1="86.5" x2="211.78" y2="88.1" stroke="#111" stroke-width="0.8"/>
<line x1="214.91" y1="86.5" x2="214.91" y2="88.1" stroke="#111" stroke-width="0.8"/>
<line x1="218.03" y1="86.5" x2="218.03" y2="90.3" stroke="#111" stroke-width="0.8"/>
<line x1="221.16" y1="86.5" x2="221.16" y2="88.1" stroke="#111" stroke-width="0.8"/>
<line x1="224.29" y1="86.5" x2="224.29" y2="88.1" stroke="#111" stroke-width="0.8"/>
<line x1="227.42" y1="86.5" x2="227.42" y2="88.1" stroke="#111" stroke-width="0.8"/>
<line x1="230.54" y1="86.5" x2="230.54" y2="88.1" stroke="#111" stroke-width="0.8"/>
<line x1="233.67" y1="86.5" x2="233.67" y2="88.1" stroke="#111" stroke-width="0.8"/>
<line x1="236.8" y1="86.5" x2="236.8" y2="90.3" stroke="#111" stroke-width="0.8"/>
<line x1="239.93" y1="86.5" x2="239.93" y2="88.1" stroke="#111" stroke-width="0.8"/>
<line x1="243.06" y1="86.5" x2="243.06" y2="88.1" stroke="#111" stroke-width="0.8"/>
<line x1="246.18" y1="86.5" x2="246.18" y2="88.1" stroke="#111" stroke-width="0.8"/>
<line x1="249.31" y1="86.5" x2="249.31" y2="88.1" stroke="#111" stroke-width="0.8"/>
<line x1="252.44" y1="86.5" x2="252.44" y2="88.1" stroke="#111" stroke-width="0.8"/>
<line x1="255.57" y1="86.5" x2="255.57" y2="90.3" stroke="#111" stroke-width="0.8"/>
<line x1="258.69" y1="86.5" x2="258.69" y2="88.1" stroke="#111" stroke-width="0.8"/>
<line x1="261.82" y1="86.5" x2="261.82" y2="88.1" stroke="#111" stroke-width="0.8"/>
<line x1="264.95" y1="86.5" x2="264.95" y2="88.1" stroke="#111" stroke-width="0.8"/>
<line x1="268.08" y1="86.5" x2="268.08" y2="88.1" stroke="#111" stroke-width="0.8"/>
<line x1="271.21" y1="86.5" x2="271.21" y2="88.1" stroke="#111" stroke-width="0.8"/>
<line x1="274.33" y1="86.5" x2="274.33" y2="90.3" stroke="#111" stroke-width="0.8"/>
<line x1="277.46" y1="86.5" x2="277.46" y2="88.1" stroke="#111" stroke-width="0.8"/>
<line x1="280.59" y1="86.5" x2="280.59" y2="88.1" stroke="#111" stroke-width="0.8"/>
<line x1="283.72" y1="86.5" x2="283.72" y2="88.1" stroke="#111" stroke-width="0.8"/>
<line x1="286.84" y1="86.5" x2="286.84" y2="88.1" stroke="#111" stroke-width="0.8"/>
<line x1="289.97" y1="86.5" x2="289.97" y2="88.1" stroke="#111" stroke-width="0.8"/>
<line x1="293.1" y1="86.5" x2="293.1" y2="90.3" stroke="#111" stroke-width="0.8"/>
<text x="174.9" y="86.5" class="tl" text-anchor="middle" transform="rotate(-90 174.9 86.5)">0</text>
<text x="174.9" y="72.54" class="tl" text-anchor="middle" transform="rotate(-90 174.9 72.54)">50</text>
<text x="174.9" y="58.58" class="tl" text-anchor="middle" transform="rotate(-90 174.9 58.58)">100</text>
<text x="174.9" y="44.62" class="tl" text-anchor="middle" transform="rotate(-90 174.9 44.62)">150</text>
<text x="174.9" y="30.66" class="tl" text-anchor="middle" transform="rotate(-90 174.9 30.66)">200</text>
<text x="181.4" y="91.1" class="tl" transform="rotate(-90 181.4 91.1)" text-anchor="end">0</text>
<text x="200.17" y="91.1" class="tl" transform="rotate(-90 200.17 91.1)" text-anchor="end">20</text>
<text x="218.93" y="91.1" class="tl" transform="rotate(-90 218.93 91.1)" text-anchor="end">40</text>
<text x="237.7" y="91.1" class="tl" transform="rotate(-90 237.7 91.1)" text-anchor="end">60</text>
<text x="256.47" y="91.1" class="tl" transform="rotate(-90 256.47 91.1)" text-anchor="end">80</text>
<text x="275.23" y="91.1" class="tl" transform="rotate(-90 275.23 91.1)" text-anchor="end">100</text>
<text x="294" y="91.1" class="tl" transform="rotate(-90 294 91.1)" text-anchor="end">120</text>
<path d="M338,86.4 C339.5,86.35 344.8,86.33 347,86.1 C349.2,85.87 349.82,86.22 351.2,85 C352.58,83.78 353.93,81.72 355.3,78.8 C356.67,75.88 358.1,70.42 359.4,67.5 C360.7,64.58 361.88,62.65 363.1,61.3 C364.32,59.95 365.58,59.23 366.7,59.4 C367.82,59.57 368.77,61.13 369.8,62.3 C370.83,63.47 371.7,65.4 372.9,66.4 C374.1,67.4 375.63,67.98 377,68.3 C378.37,68.62 379.55,68.62 381.1,68.3 C382.65,67.98 384.48,66.93 386.3,66.4 C388.12,65.87 389.48,65.32 392,65.1 C394.52,64.88 399.07,64.85 401.4,65.1 C403.73,65.35 404.25,65.57 406,66.6 C407.75,67.63 409.95,69.63 411.9,71.3 C413.85,72.97 415.75,74.95 417.7,76.6 C419.65,78.25 421.65,79.93 423.6,81.2 C425.55,82.47 427.92,83.35 429.4,84.2 C430.88,85.05 431.98,85.95 432.5,86.3 L432.5,86.5 L338,86.5 Z" fill="#fff"/>
<polygon points="320.4,86.5 320.9,86.5 321.4,86.5 321.9,86.5 322.4,86.5 322.9,86.5 323.4,86.5 323.9,86.5 324.4,86.5 324.9,86.5 325.4,86.5 325.9,86.5 326.4,86.5 326.9,86.5 327.4,86.5 327.9,86.5 328.4,86.5 328.9,86.5 329.4,86.5 329.9,86.5 330.4,86.5 330.9,86.5 331.4,86.5 331.9,86.5 332.4,86.5 332.9,86.5 333.4,86.5 333.9,86.5 334.4,86.5 334.9,86.5 335.4,86.5 335.9,86.5 336.4,86.5 336.9,86.5 337.4,86.5 337.9,86.5 338.4,86.5 338.9,86.49 339.4,86.49 339.9,86.49 340.4,86.49 340.9,86.48 341.4,86.47 341.9,86.46 342.4,86.45 342.9,86.44 343.4,86.42 343.9,86.4 344.4,86.37 344.9,86.33 345.4,86.28 345.9,86.22 346.4,86.15 346.9,86.07 347.4,85.96 347.9,85.84 348.4,85.69 348.9,85.52 349.4,85.32 349.9,85.08 350.4,84.81 350.9,84.5 351.4,84.15 351.9,83.75 352.4,83.31 352.9,82.82 353.4,82.29 353.9,81.71 354.4,81.08 354.9,80.41 355.4,79.7 355.9,78.96 356.4,78.19 356.9,77.41 357.4,76.61 357.9,75.82 358.4,75.03 358.9,74.27 359.4,73.54 359.9,72.86 360.4,72.23 360.9,71.67 361.4,71.19 361.9,70.8 362.4,70.5 362.9,70.3 363.4,70.21 363.9,70.22 364.4,70.37 364.9,70.63 365.4,71.02 365.9,71.52 366.4,72.12 366.9,72.8 367.4,73.55 367.9,73.61 368.4,73.15 368.9,72.75 369.4,72.4 369.9,72.1 370.4,71.85 370.9,71.63 371.4,71.45 371.9,71.29 372.4,71.14 372.9,71.01 373.4,70.88 373.9,70.76 374.4,70.65 374.9,70.54 375.4,70.45 375.9,70.36 376.4,70.28 376.9,70.22 377.4,70.17 377.9,70.12 378.4,70.08 378.9,70.05 379.4,70.01 379.9,69.98 380.4,69.96 380.9,69.93 381.4,69.91 381.9,69.88 382.4,69.87 382.9,69.86 383.4,69.87 383.9,69.89 384.4,69.94 384.9,70 385.4,70.09 385.9,70.21 386.4,70.35 386.9,70.5 387.4,70.67 387.9,70.85 388.4,71.04 388.9,71.23 389.4,71.42 389.9,71.61 390.4,71.81 390.9,72.01 391.4,72.2 391.9,72.4 392.4,72.59 392.9,72.79 393.4,72.98 393.9,73.18 394.4,73.37 394.9,73.57 395.4,73.76 395.9,73.96 396.4,74.15 396.9,74.35 397.4,74.54 397.9,74.74 398.4,74.94 398.9,75.13 399.4,75.33 399.9,75.52 400.4,75.72 400.9,75.91 401.4,76.11 401.9,76.3 402.4,76.5 402.9,76.34 403.4,76.16 403.9,76 404.4,75.86 404.9,75.75 405.4,75.65 405.9,75.58 406.4,75.53 406.9,75.5 407.4,75.5 407.9,75.52 408.4,75.57 408.9,75.64 409.4,75.73 409.9,75.84 410.4,75.97 410.9,76.13 411.4,76.3 411.9,76.49 412.4,76.7 412.9,76.93 413.4,77.17 413.9,77.43 414.4,77.69 414.9,77.97 415.4,78.25 415.9,78.55 416.4,78.85 416.9,79.15 417.4,79.46 417.9,79.77 418.4,80.08 418.9,80.38 419.4,80.69 419.9,80.99 420.4,81.29 420.9,81.58 421.4,81.87 421.9,82.14 422.4,82.41 422.9,82.68 423.4,82.93 423.9,83.17 424.4,83.41 424.9,83.63 425.4,83.84 425.9,84.04 426.4,84.23 426.9,84.42 427.4,84.59 427.9,84.75 428.4,84.9 428.9,85.04 429.4,85.17 429.9,85.29 430.4,85.41 430.9,85.51 431.4,85.61 431.9,85.7 432.4,85.78 432.9,85.85 432.9,85.85 432.4,85.78 431.9,85.7 431.4,85.61 430.9,85.51 430.4,85.41 429.9,85.29 429.4,85.17 428.9,85.04 428.4,84.9 427.9,84.75 427.4,84.59 426.9,84.42 426.4,84.23 425.9,84.04 425.4,83.84 424.9,83.63 424.4,83.41 423.9,83.17 423.4,82.93 422.9,82.68 422.4,82.41 421.9,82.14 421.4,81.87 420.9,81.58 420.4,81.29 419.9,80.99 419.4,80.69 418.9,80.38 418.4,80.08 417.9,79.77 417.4,79.46 416.9,79.15 416.4,78.85 415.9,78.55 415.4,78.25 414.9,77.97 414.4,77.69 413.9,77.43 413.4,77.17 412.9,76.93 412.4,76.7 411.9,76.49 411.4,76.3 410.9,76.13 410.4,75.97 409.9,75.84 409.4,75.73 408.9,75.64 408.4,75.57 407.9,75.52 407.4,75.5 406.9,75.5 406.4,75.53 405.9,75.58 405.4,75.65 404.9,75.75 404.4,75.86 403.9,76 403.4,76.16 402.9,76.34 402.4,76.53 401.9,76.75 401.4,76.98 400.9,77.22 400.4,77.48 399.9,77.75 399.4,78.03 398.9,78.31 398.4,78.61 397.9,78.91 397.4,79.21 396.9,79.52 396.4,79.83 395.9,80.14 395.4,80.44 394.9,80.75 394.4,81.05 393.9,81.35 393.4,81.64 392.9,81.92 392.4,82.2 391.9,82.47 391.4,82.73 390.9,82.98 390.4,83.22 389.9,83.45 389.4,83.67 388.9,83.88 388.4,84.08 387.9,84.27 387.4,84.45 386.9,84.62 386.4,84.78 385.9,84.93 385.4,85.07 384.9,85.2 384.4,85.32 383.9,85.43 383.4,85.53 382.9,85.62 382.4,85.71 381.9,85.79 381.4,85.87 380.9,85.93 380.4,85.99 379.9,86.05 379.4,86.1 378.9,86.11 378.4,86 377.9,85.87 377.4,85.72 376.9,85.53 376.4,85.3 375.9,85.04 375.4,84.73 374.9,84.37 374.4,83.96 373.9,83.5 373.4,82.97 372.9,82.4 372.4,81.76 371.9,81.07 371.4,80.32 370.9,79.53 370.4,78.7 369.9,77.84 369.4,76.97 368.9,76.08 368.4,75.21 367.9,74.36 367.4,73.55 366.9,72.8 366.4,72.12 365.9,71.52 365.4,71.02 364.9,70.63 364.4,70.37 363.9,70.22 363.4,70.21 362.9,70.3 362.4,70.5 361.9,70.8 361.4,71.19 360.9,71.67 360.4,72.23 359.9,72.86 359.4,73.54 358.9,74.27 358.4,75.03 357.9,75.82 357.4,76.61 356.9,77.41 356.4,78.19 355.9,78.96 355.4,79.7 354.9,80.41 354.4,81.08 353.9,81.71 353.4,82.29 352.9,82.82 352.4,83.31 351.9,83.75 351.4,84.15 350.9,84.5 350.4,84.81 349.9,85.08 349.4,85.32 348.9,85.52 348.4,85.69 347.9,85.84 347.4,85.96 346.9,86.07 346.4,86.15 345.9,86.22 345.4,86.28 344.9,86.33 344.4,86.37 343.9,86.4 343.4,86.42 342.9,86.44 342.4,86.45 341.9,86.46 341.4,86.47 340.9,86.48 340.4,86.49 339.9,86.49 339.4,86.49 338.9,86.49 338.4,86.5 337.9,86.5 337.4,86.5 336.9,86.5 336.4,86.5 335.9,86.5 335.4,86.5 334.9,86.5 334.4,86.5 333.9,86.5 333.4,86.5 332.9,86.5 332.4,86.5 331.9,86.5 331.4,86.5 330.9,86.5 330.4,86.5 329.9,86.5 329.4,86.5 328.9,86.5 328.4,86.5 327.9,86.5 327.4,86.5 326.9,86.5 326.4,86.5 325.9,86.5 325.4,86.5 324.9,86.5 324.4,86.5 323.9,86.5 323.4,86.5 322.9,86.5 322.4,86.5 321.9,86.5 321.4,86.5 320.9,86.5 320.4,86.5" fill="#fff"/>
<polygon points="320.4,86.5 320.9,86.5 321.4,86.5 321.9,86.5 322.4,86.5 322.9,86.5 323.4,86.5 323.9,86.5 324.4,86.5 324.9,86.5 325.4,86.5 325.9,86.5 326.4,86.5 326.9,86.5 327.4,86.5 327.9,86.5 328.4,86.5 328.9,86.5 329.4,86.5 329.9,86.5 330.4,86.5 330.9,86.5 331.4,86.5 331.9,86.5 332.4,86.5 332.9,86.5 333.4,86.5 333.9,86.5 334.4,86.5 334.9,86.5 335.4,86.5 335.9,86.5 336.4,86.5 336.9,86.5 337.4,86.5 337.9,86.5 338.4,86.5 338.9,86.49 339.4,86.49 339.9,86.49 340.4,86.49 340.9,86.48 341.4,86.47 341.9,86.46 342.4,86.45 342.9,86.44 343.4,86.42 343.9,86.4 344.4,86.37 344.9,86.33 345.4,86.28 345.9,86.22 346.4,86.15 346.9,86.07 347.4,85.96 347.9,85.84 348.4,85.69 348.9,85.52 349.4,85.32 349.9,85.08 350.4,84.81 350.9,84.5 351.4,84.15 351.9,83.75 352.4,83.31 352.9,82.82 353.4,82.29 353.9,81.71 354.4,81.08 354.9,80.41 355.4,79.7 355.9,78.96 356.4,78.19 356.9,77.41 357.4,76.61 357.9,75.82 358.4,75.03 358.9,74.27 359.4,73.54 359.9,72.86 360.4,72.23 360.9,71.67 361.4,71.19 361.9,70.8 362.4,70.5 362.9,70.3 363.4,70.21 363.9,70.22 364.4,70.37 364.9,70.63 365.4,71.02 365.9,71.52 366.4,72.12 366.9,72.8 367.4,73.55 367.9,73.61 368.4,73.15 368.9,72.75 369.4,72.4 369.9,72.1 370.4,71.85 370.9,71.63 371.4,71.45 371.9,71.29 372.4,71.14 372.9,71.01 373.4,70.88 373.9,70.76 374.4,70.65 374.9,70.54 375.4,70.45 375.9,70.36 376.4,70.28 376.9,70.22 377.4,70.17 377.9,70.12 378.4,70.08 378.9,70.05 379.4,70.01 379.9,69.98 380.4,69.96 380.9,69.93 381.4,69.91 381.9,69.88 382.4,69.87 382.9,69.86 383.4,69.87 383.9,69.89 384.4,69.94 384.9,70 385.4,70.09 385.9,70.21 386.4,70.35 386.9,70.5 387.4,70.67 387.9,70.85 388.4,71.04 388.9,71.23 389.4,71.42 389.9,71.61 390.4,71.81 390.9,72.01 391.4,72.2 391.9,72.4 392.4,72.59 392.9,72.79 393.4,72.98 393.9,73.18 394.4,73.37 394.9,73.57 395.4,73.76 395.9,73.96 396.4,74.15 396.9,74.35 397.4,74.54 397.9,74.74 398.4,74.94 398.9,75.13 399.4,75.33 399.9,75.52 400.4,75.72 400.9,75.91 401.4,76.11 401.9,76.3 402.4,76.5 402.9,76.34 403.4,76.16 403.9,76 404.4,75.86 404.9,75.75 405.4,75.65 405.9,75.58 406.4,75.53 406.9,75.5 407.4,75.5 407.9,75.52 408.4,75.57 408.9,75.64 409.4,75.73 409.9,75.84 410.4,75.97 410.9,76.13 411.4,76.3 411.9,76.49 412.4,76.7 412.9,76.93 413.4,77.17 413.9,77.43 414.4,77.69 414.9,77.97 415.4,78.25 415.9,78.55 416.4,78.85 416.9,79.15 417.4,79.46 417.9,79.77 418.4,80.08 418.9,80.38 419.4,80.69 419.9,80.99 420.4,81.29 420.9,81.58 421.4,81.87 421.9,82.14 422.4,82.41 422.9,82.68 423.4,82.93 423.9,83.17 424.4,83.41 424.9,83.63 425.4,83.84 425.9,84.04 426.4,84.23 426.9,84.42 427.4,84.59 427.9,84.75 428.4,84.9 428.9,85.04 429.4,85.17 429.9,85.29 430.4,85.41 430.9,85.51 431.4,85.61 431.9,85.7 432.4,85.78 432.9,85.85 432.9,85.85 432.4,85.78 431.9,85.7 431.4,85.61 430.9,85.51 430.4,85.41 429.9,85.29 429.4,85.17 428.9,85.04 428.4,84.9 427.9,84.75 427.4,84.59 426.9,84.42 426.4,84.23 425.9,84.04 425.4,83.84 424.9,83.63 424.4,83.41 423.9,83.17 423.4,82.93 422.9,82.68 422.4,82.41 421.9,82.14 421.4,81.87 420.9,81.58 420.4,81.29 419.9,80.99 419.4,80.69 418.9,80.38 418.4,80.08 417.9,79.77 417.4,79.46 416.9,79.15 416.4,78.85 415.9,78.55 415.4,78.25 414.9,77.97 414.4,77.69 413.9,77.43 413.4,77.17 412.9,76.93 412.4,76.7 411.9,76.49 411.4,76.3 410.9,76.13 410.4,75.97 409.9,75.84 409.4,75.73 408.9,75.64 408.4,75.57 407.9,75.52 407.4,75.5 406.9,75.5 406.4,75.53 405.9,75.58 405.4,75.65 404.9,75.75 404.4,75.86 403.9,76 403.4,76.16 402.9,76.34 402.4,76.53 401.9,76.75 401.4,76.98 400.9,77.22 400.4,77.48 399.9,77.75 399.4,78.03 398.9,78.31 398.4,78.61 397.9,78.91 397.4,79.21 396.9,79.52 396.4,79.83 395.9,80.14 395.4,80.44 394.9,80.75 394.4,81.05 393.9,81.35 393.4,81.64 392.9,81.92 392.4,82.2 391.9,82.47 391.4,82.73 390.9,82.98 390.4,83.22 389.9,83.45 389.4,83.67 388.9,83.88 388.4,84.08 387.9,84.27 387.4,84.45 386.9,84.62 386.4,84.78 385.9,84.93 385.4,85.07 384.9,85.2 384.4,85.32 383.9,85.43 383.4,85.53 382.9,85.62 382.4,85.71 381.9,85.79 381.4,85.87 380.9,85.93 380.4,85.99 379.9,86.05 379.4,86.1 378.9,86.11 378.4,86 377.9,85.87 377.4,85.72 376.9,85.53 376.4,85.3 375.9,85.04 375.4,84.73 374.9,84.37 374.4,83.96 373.9,83.5 373.4,82.97 372.9,82.4 372.4,81.76 371.9,81.07 371.4,80.32 370.9,79.53 370.4,78.7 369.9,77.84 369.4,76.97 368.9,76.08 368.4,75.21 367.9,74.36 367.4,73.55 366.9,72.8 366.4,72.12 365.9,71.52 365.4,71.02 364.9,70.63 364.4,70.37 363.9,70.22 363.4,70.21 362.9,70.3 362.4,70.5 361.9,70.8 361.4,71.19 360.9,71.67 360.4,72.23 359.9,72.86 359.4,73.54 358.9,74.27 358.4,75.03 357.9,75.82 357.4,76.61 356.9,77.41 356.4,78.19 355.9,78.96 355.4,79.7 354.9,80.41 354.4,81.08 353.9,81.71 353.4,82.29 352.9,82.82 352.4,83.31 351.9,83.75 351.4,84.15 350.9,84.5 350.4,84.81 349.9,85.08 349.4,85.32 348.9,85.52 348.4,85.69 347.9,85.84 347.4,85.96 346.9,86.07 346.4,86.15 345.9,86.22 345.4,86.28 344.9,86.33 344.4,86.37 343.9,86.4 343.4,86.42 342.9,86.44 342.4,86.45 341.9,86.46 341.4,86.47 340.9,86.48 340.4,86.49 339.9,86.49 339.4,86.49 338.9,86.49 338.4,86.5 337.9,86.5 337.4,86.5 336.9,86.5 336.4,86.5 335.9,86.5 335.4,86.5 334.9,86.5 334.4,86.5 333.9,86.5 333.4,86.5 332.9,86.5 332.4,86.5 331.9,86.5 331.4,86.5 330.9,86.5 330.4,86.5 329.9,86.5 329.4,86.5 328.9,86.5 328.4,86.5 327.9,86.5 327.4,86.5 326.9,86.5 326.4,86.5 325.9,86.5 325.4,86.5 324.9,86.5 324.4,86.5 323.9,86.5 323.4,86.5 322.9,86.5 322.4,86.5 321.9,86.5 321.4,86.5 320.9,86.5 320.4,86.5" fill="url(#hb)"/>
<polygon points="320.4,86.5 320.9,86.5 321.4,86.5 321.9,86.5 322.4,86.5 322.9,86.5 323.4,86.5 323.9,86.5 324.4,86.5 324.9,86.5 325.4,86.5 325.9,86.5 326.4,86.5 326.9,86.5 327.4,86.5 327.9,86.5 328.4,86.5 328.9,86.5 329.4,86.5 329.9,86.5 330.4,86.5 330.9,86.5 331.4,86.5 331.9,86.5 332.4,86.5 332.9,86.5 333.4,86.5 333.9,86.5 334.4,86.5 334.9,86.5 335.4,86.5 335.9,86.5 336.4,86.5 336.9,86.5 337.4,86.5 337.9,86.5 338.4,86.5 338.9,86.49 339.4,86.49 339.9,86.49 340.4,86.49 340.9,86.48 341.4,86.47 341.9,86.46 342.4,86.45 342.9,86.44 343.4,86.42 343.9,86.4 344.4,86.37 344.9,86.33 345.4,86.28 345.9,86.22 346.4,86.15 346.9,86.07 347.4,85.96 347.9,85.84 348.4,85.69 348.9,85.52 349.4,85.32 349.9,85.08 350.4,84.81 350.9,84.5 351.4,84.15 351.9,83.75 352.4,83.31 352.9,82.82 353.4,82.29 353.9,81.71 354.4,81.08 354.9,80.41 355.4,79.7 355.9,78.96 356.4,78.19 356.9,77.41 357.4,76.61 357.9,75.82 358.4,75.03 358.9,74.27 359.4,73.54 359.9,72.86 360.4,72.23 360.9,71.67 361.4,71.19 361.9,70.8 362.4,70.5 362.9,70.3 363.4,70.21 363.9,70.22 364.4,70.37 364.9,70.63 365.4,71.02 365.9,71.52 366.4,72.12 366.9,72.8 367.4,73.55 367.9,74.36 368.4,75.21 368.9,76.08 369.4,76.97 369.9,77.84 370.4,78.7 370.9,79.53 371.4,80.32 371.9,81.07 372.4,81.76 372.9,82.4 373.4,82.97 373.9,83.5 374.4,83.96 374.9,84.37 375.4,84.73 375.9,85.04 376.4,85.3 376.9,85.53 377.4,85.72 377.9,85.87 378.4,86 378.9,86.11 379.4,86.1 379.9,86.05 380.4,85.99 380.9,85.93 381.4,85.87 381.9,85.79 382.4,85.71 382.9,85.62 383.4,85.53 383.9,85.43 384.4,85.32 384.9,85.2 385.4,85.07 385.9,84.93 386.4,84.78 386.9,84.62 387.4,84.45 387.9,84.27 388.4,84.08 388.9,83.88 389.4,83.67 389.9,83.45 390.4,83.22 390.9,82.98 391.4,82.73 391.9,82.47 392.4,82.2 392.9,81.92 393.4,81.64 393.9,81.35 394.4,81.05 394.9,80.75 395.4,80.44 395.9,80.14 396.4,79.83 396.9,79.52 397.4,79.21 397.9,78.91 398.4,78.61 398.9,78.31 399.4,78.03 399.9,77.75 400.4,77.48 400.9,77.22 401.4,76.98 401.9,76.75 402.4,76.53 402.9,76.34 403.4,76.16 403.9,76 404.4,75.86 404.9,75.75 405.4,75.65 405.9,75.58 406.4,75.53 406.9,75.5 407.4,75.5 407.9,75.52 408.4,75.57 408.9,75.64 409.4,75.73 409.9,75.84 410.4,75.97 410.9,76.13 411.4,76.3 411.9,76.49 412.4,76.7 412.9,76.93 413.4,77.17 413.9,77.43 414.4,77.69 414.9,77.97 415.4,78.25 415.9,78.55 416.4,78.85 416.9,79.15 417.4,79.46 417.9,79.77 418.4,80.08 418.9,80.38 419.4,80.69 419.9,80.99 420.4,81.29 420.9,81.58 421.4,81.87 421.9,82.14 422.4,82.41 422.9,82.68 423.4,82.93 423.9,83.17 424.4,83.41 424.9,83.63 425.4,83.84 425.9,84.04 426.4,84.23 426.9,84.42 427.4,84.59 427.9,84.75 428.4,84.9 428.9,85.04 429.4,85.17 429.9,85.29 430.4,85.41 430.9,85.51 431.4,85.61 431.9,85.7 432.4,85.78 432.9,85.85 432.9,86.5 320.4,86.5" fill="#f00"/>
<polygon points="320.4,86.5 320.9,86.5 321.4,86.5 321.9,86.5 322.4,86.5 322.9,86.5 323.4,86.5 323.9,86.5 324.4,86.5 324.9,86.5 325.4,86.5 325.9,86.5 326.4,86.5 326.9,86.5 327.4,86.5 327.9,86.5 328.4,86.5 328.9,86.5 329.4,86.5 329.9,86.5 330.4,86.5 330.9,86.5 331.4,86.5 331.9,86.5 332.4,86.5 332.9,86.5 333.4,86.5 333.9,86.5 334.4,86.5 334.9,86.5 335.4,86.5 335.9,86.5 336.4,86.5 336.9,86.5 337.4,86.5 337.9,86.5 338.4,86.5 338.9,86.5 339.4,86.5 339.9,86.5 340.4,86.5 340.9,86.5 341.4,86.5 341.9,86.5 342.4,86.5 342.9,86.5 343.4,86.5 343.9,86.5 344.4,86.5 344.9,86.5 345.4,86.5 345.9,86.5 346.4,86.5 346.9,86.5 347.4,86.5 347.9,86.5 348.4,86.5 348.9,86.5 349.4,86.5 349.9,86.5 350.4,86.5 350.9,86.5 351.4,86.5 351.9,86.5 352.4,86.5 352.9,86.49 353.4,86.49 353.9,86.47 354.4,86.43 354.9,86.38 355.4,86.28 355.9,86.15 356.4,85.95 356.9,85.7 357.4,85.38 357.9,84.99 358.4,84.54 358.9,84.05 359.4,83.51 359.9,82.95 360.4,82.37 360.9,81.78 361.4,81.18 361.9,80.58 362.4,79.98 362.9,79.37 363.4,78.77 363.9,78.16 364.4,77.56 364.9,76.96 365.4,76.36 365.9,75.77 366.4,75.19 366.9,74.64 367.4,74.1 367.9,74.36 368.4,75.21 368.9,76.08 369.4,76.97 369.9,77.84 370.4,78.7 370.9,79.53 371.4,80.32 371.9,81.07 372.4,81.76 372.9,82.4 373.4,82.97 373.9,83.5 374.4,83.96 374.9,84.37 375.4,84.73 375.9,85.04 376.4,85.3 376.9,85.53 377.4,85.72 377.9,85.87 378.4,86 378.9,86.11 379.4,86.1 379.9,86.05 380.4,85.99 380.9,85.93 381.4,85.87 381.9,85.79 382.4,85.71 382.9,85.62 383.4,85.53 383.9,85.43 384.4,85.32 384.9,85.2 385.4,85.07 385.9,84.93 386.4,84.78 386.9,84.62 387.4,84.45 387.9,84.27 388.4,84.08 388.9,83.88 389.4,83.67 389.9,83.45 390.4,83.22 390.9,82.98 391.4,82.73 391.9,82.47 392.4,82.2 392.9,81.92 393.4,81.64 393.9,81.35 394.4,81.05 394.9,80.75 395.4,80.44 395.9,80.14 396.4,79.83 396.9,79.52 397.4,79.21 397.9,78.91 398.4,78.61 398.9,78.31 399.4,78.03 399.9,77.75 400.4,77.48 400.9,77.22 401.4,76.98 401.9,76.75 402.4,76.53 402.9,76.69 403.4,76.89 403.9,77.08 404.4,77.28 404.9,77.47 405.4,77.67 405.9,77.87 406.4,78.06 406.9,78.26 407.4,78.45 407.9,78.65 408.4,78.84 408.9,79.04 409.4,79.23 409.9,79.43 410.4,79.62 410.9,79.82 411.4,80.01 411.9,80.21 412.4,80.41 412.9,80.6 413.4,80.8 413.9,80.99 414.4,81.19 414.9,81.38 415.4,81.58 415.9,81.77 416.4,81.97 416.9,82.16 417.4,82.36 417.9,82.55 418.4,82.75 418.9,82.94 419.4,83.14 419.9,83.34 420.4,83.53 420.9,83.73 421.4,83.92 421.9,84.12 422.4,84.31 422.9,84.51 423.4,84.7 423.9,84.9 424.4,85.09 424.9,85.28 425.4,85.46 425.9,85.64 426.4,85.8 426.9,85.96 427.4,86.09 427.9,86.2 428.4,86.29 428.9,86.36 429.4,86.41 429.9,86.45 430.4,86.47 430.9,86.49 431.4,86.49 431.9,86.5 432.4,86.5 432.9,86.5 432.9,86.5 320.4,86.5" fill="url(#hk)"/>
<polyline points="354.4,86.43 354.9,86.38 355.4,86.28 355.9,86.15 356.4,85.95 356.9,85.7 357.4,85.38 357.9,84.99 358.4,84.54 358.9,84.05 359.4,83.51 359.9,82.95 360.4,82.37 360.9,81.78 361.4,81.18 361.9,80.58 362.4,79.98 362.9,79.37 363.4,78.77 363.9,78.16 364.4,77.56 364.9,76.96 365.4,76.36 365.9,75.77 366.4,75.19 366.9,74.64 367.4,74.1 367.9,73.61" fill="none" stroke="#400" stroke-width="0.55"/>
<polyline points="367.9,73.61 368.4,73.15 368.9,72.75 369.4,72.4 369.9,72.1 370.4,71.85 370.9,71.63 371.4,71.45 371.9,71.29 372.4,71.14 372.9,71.01 373.4,70.88 373.9,70.76 374.4,70.65 374.9,70.54 375.4,70.45 375.9,70.36 376.4,70.28 376.9,70.22 377.4,70.17 377.9,70.12 378.4,70.08 378.9,70.05 379.4,70.01 379.9,69.98 380.4,69.96 380.9,69.93 381.4,69.91 381.9,69.88 382.4,69.87 382.9,69.86 383.4,69.87 383.9,69.89 384.4,69.94 384.9,70 385.4,70.09 385.9,70.21 386.4,70.35 386.9,70.5 387.4,70.67 387.9,70.85 388.4,71.04 388.9,71.23 389.4,71.42 389.9,71.61 390.4,71.81 390.9,72.01 391.4,72.2 391.9,72.4 392.4,72.59 392.9,72.79 393.4,72.98 393.9,73.18 394.4,73.37 394.9,73.57 395.4,73.76 395.9,73.96 396.4,74.15 396.9,74.35 397.4,74.54 397.9,74.74 398.4,74.94 398.9,75.13 399.4,75.33 399.9,75.52 400.4,75.72 400.9,75.91 401.4,76.11 401.9,76.3 402.4,76.5 402.9,76.69" fill="none" stroke="#336" stroke-width="0.55"/>
<polyline points="402.9,76.69 403.4,76.89 403.9,77.08 404.4,77.28 404.9,77.47 405.4,77.67 405.9,77.87 406.4,78.06 406.9,78.26 407.4,78.45 407.9,78.65 408.4,78.84 408.9,79.04 409.4,79.23 409.9,79.43 410.4,79.62 410.9,79.82 411.4,80.01 411.9,80.21 412.4,80.41 412.9,80.6 413.4,80.8 413.9,80.99 414.4,81.19 414.9,81.38 415.4,81.58 415.9,81.77 416.4,81.97 416.9,82.16 417.4,82.36 417.9,82.55 418.4,82.75 418.9,82.94 419.4,83.14 419.9,83.34 420.4,83.53 420.9,83.73 421.4,83.92 421.9,84.12 422.4,84.31 422.9,84.51 423.4,84.7 423.9,84.9 424.4,85.09 424.9,85.28 425.4,85.46 425.9,85.64 426.4,85.8 426.9,85.96 427.4,86.09 427.9,86.2 428.4,86.29 428.9,86.36 429.4,86.41 429.9,86.45" fill="none" stroke="#400" stroke-width="0.55"/>
<polyline points="343.4,86.42 343.9,86.4 344.4,86.37 344.9,86.33 345.4,86.28 345.9,86.22 346.4,86.15 346.9,86.07 347.4,85.96 347.9,85.84 348.4,85.69 348.9,85.52 349.4,85.32 349.9,85.08 350.4,84.81 350.9,84.5 351.4,84.15 351.9,83.75 352.4,83.31 352.9,82.82 353.4,82.29 353.9,81.71 354.4,81.08 354.9,80.41 355.4,79.7 355.9,78.96 356.4,78.19 356.9,77.41 357.4,76.61 357.9,75.82 358.4,75.03 358.9,74.27 359.4,73.54 359.9,72.86 360.4,72.23 360.9,71.67 361.4,71.19 361.9,70.8 362.4,70.5 362.9,70.3 363.4,70.21 363.9,70.22 364.4,70.37 364.9,70.63 365.4,71.02 365.9,71.52 366.4,72.12 366.9,72.8 367.4,73.55 367.9,74.36 368.4,75.21 368.9,76.08 369.4,76.97 369.9,77.84 370.4,78.7 370.9,79.53 371.4,80.32 371.9,81.07 372.4,81.76 372.9,82.4 373.4,82.97 373.9,83.5 374.4,83.96 374.9,84.37 375.4,84.73 375.9,85.04 376.4,85.3 376.9,85.53 377.4,85.72 377.9,85.87 378.4,86 378.9,86.11 379.4,86.1 379.9,86.05 380.4,85.99 380.9,85.93 381.4,85.87 381.9,85.79 382.4,85.71 382.9,85.62 383.4,85.53 383.9,85.43 384.4,85.32 384.9,85.2 385.4,85.07 385.9,84.93 386.4,84.78 386.9,84.62 387.4,84.45 387.9,84.27 388.4,84.08 388.9,83.88 389.4,83.67 389.9,83.45 390.4,83.22 390.9,82.98 391.4,82.73 391.9,82.47 392.4,82.2 392.9,81.92 393.4,81.64 393.9,81.35 394.4,81.05 394.9,80.75 395.4,80.44 395.9,80.14 396.4,79.83 396.9,79.52 397.4,79.21 397.9,78.91 398.4,78.61 398.9,78.31 399.4,78.03 399.9,77.75 400.4,77.48 400.9,77.22 401.4,76.98 401.9,76.75 402.4,76.53 402.9,76.34 403.4,76.16 403.9,76 404.4,75.86 404.9,75.75 405.4,75.65 405.9,75.58 406.4,75.53 406.9,75.5 407.4,75.5 407.9,75.52 408.4,75.57 408.9,75.64 409.4,75.73 409.9,75.84 410.4,75.97 410.9,76.13 411.4,76.3 411.9,76.49 412.4,76.7 412.9,76.93 413.4,77.17 413.9,77.43 414.4,77.69 414.9,77.97 415.4,78.25 415.9,78.55 416.4,78.85 416.9,79.15 417.4,79.46 417.9,79.77 418.4,80.08 418.9,80.38 419.4,80.69 419.9,80.99 420.4,81.29 420.9,81.58 421.4,81.87 421.9,82.14 422.4,82.41 422.9,82.68 423.4,82.93 423.9,83.17 424.4,83.41 424.9,83.63 425.4,83.84 425.9,84.04 426.4,84.23 426.9,84.42 427.4,84.59 427.9,84.75 428.4,84.9 428.9,85.04 429.4,85.17 429.9,85.29 430.4,85.41 430.9,85.51 431.4,85.61 431.9,85.7 432.4,85.78 432.9,85.85" fill="none" stroke="#300" stroke-width="0.5"/>
<path d="M338,86.4 C339.5,86.35 344.8,86.33 347,86.1 C349.2,85.87 349.82,86.22 351.2,85 C352.58,83.78 353.93,81.72 355.3,78.8 C356.67,75.88 358.1,70.42 359.4,67.5 C360.7,64.58 361.88,62.65 363.1,61.3 C364.32,59.95 365.58,59.23 366.7,59.4 C367.82,59.57 368.77,61.13 369.8,62.3 C370.83,63.47 371.7,65.4 372.9,66.4 C374.1,67.4 375.63,67.98 377,68.3 C378.37,68.62 379.55,68.62 381.1,68.3 C382.65,67.98 384.48,66.93 386.3,66.4 C388.12,65.87 389.48,65.32 392,65.1 C394.52,64.88 399.07,64.85 401.4,65.1 C403.73,65.35 404.25,65.57 406,66.6 C407.75,67.63 409.95,69.63 411.9,71.3 C413.85,72.97 415.75,74.95 417.7,76.6 C419.65,78.25 421.65,79.93 423.6,81.2 C425.55,82.47 427.92,83.35 429.4,84.2 C430.88,85.05 431.98,85.95 432.5,86.3" fill="none" stroke="#444" stroke-width="0.8"/>
<path d="M338,86.4 C339.5,86.35 344.8,86.33 347,86.1 C349.2,85.87 349.82,86.22 351.2,85 C352.58,83.78 353.93,81.72 355.3,78.8 C356.67,75.88 358.1,70.42 359.4,67.5 C360.7,64.58 361.88,62.65 363.1,61.3 C364.32,59.95 365.58,59.23 366.7,59.4 C367.82,59.57 368.77,61.13 369.8,62.3 C370.83,63.47 371.7,65.39 372.9,66.4 C374.1,67.41 375.63,67.9 377,68.36 C378.37,68.82 379.55,69.24 381.1,69.15 C382.65,69.06 384.48,68.26 386.3,67.83 C388.12,67.41 389.48,66.8 392,66.59 C394.52,66.39 399.07,66.48 401.4,66.63 C403.73,66.77 404.25,66.66 406,67.47 C407.75,68.28 409.95,69.96 411.9,71.48 C413.85,73 415.75,74.98 417.7,76.6 C419.65,78.22 421.65,79.93 423.6,81.2 C425.55,82.47 427.92,83.35 429.4,84.2 C430.88,85.05 431.98,85.95 432.5,86.3" fill="none" stroke="#111" stroke-width="0.9"/>
<line x1="320.4" y1="16.7" x2="320.4" y2="90" stroke="#111" stroke-width="1.1"/>
<line x1="316.9" y1="86.5" x2="433" y2="86.5" stroke="#111" stroke-width="1.1"/>
<line x1="318.6" y1="83.71" x2="320.4" y2="83.71" stroke="#111" stroke-width="0.8"/>
<line x1="318.6" y1="80.92" x2="320.4" y2="80.92" stroke="#111" stroke-width="0.8"/>
<line x1="318.6" y1="78.12" x2="320.4" y2="78.12" stroke="#111" stroke-width="0.8"/>
<line x1="318.6" y1="75.33" x2="320.4" y2="75.33" stroke="#111" stroke-width="0.8"/>
<line x1="316.6" y1="72.54" x2="320.4" y2="72.54" stroke="#111" stroke-width="0.8"/>
<line x1="318.6" y1="69.75" x2="320.4" y2="69.75" stroke="#111" stroke-width="0.8"/>
<line x1="318.6" y1="66.96" x2="320.4" y2="66.96" stroke="#111" stroke-width="0.8"/>
<line x1="318.6" y1="64.16" x2="320.4" y2="64.16" stroke="#111" stroke-width="0.8"/>
<line x1="318.6" y1="61.37" x2="320.4" y2="61.37" stroke="#111" stroke-width="0.8"/>
<line x1="316.6" y1="58.58" x2="320.4" y2="58.58" stroke="#111" stroke-width="0.8"/>
<line x1="318.6" y1="55.79" x2="320.4" y2="55.79" stroke="#111" stroke-width="0.8"/>
<line x1="318.6" y1="53" x2="320.4" y2="53" stroke="#111" stroke-width="0.8"/>
<line x1="318.6" y1="50.2" x2="320.4" y2="50.2" stroke="#111" stroke-width="0.8"/>
<line x1="318.6" y1="47.41" x2="320.4" y2="47.41" stroke="#111" stroke-width="0.8"/>
<line x1="316.6" y1="44.62" x2="320.4" y2="44.62" stroke="#111" stroke-width="0.8"/>
<line x1="318.6" y1="41.83" x2="320.4" y2="41.83" stroke="#111" stroke-width="0.8"/>
<line x1="318.6" y1="39.04" x2="320.4" y2="39.04" stroke="#111" stroke-width="0.8"/>
<line x1="318.6" y1="36.24" x2="320.4" y2="36.24" stroke="#111" stroke-width="0.8"/>
<line x1="318.6" y1="33.45" x2="320.4" y2="33.45" stroke="#111" stroke-width="0.8"/>
<line x1="316.6" y1="30.66" x2="320.4" y2="30.66" stroke="#111" stroke-width="0.8"/>
<line x1="318.6" y1="27.87" x2="320.4" y2="27.87" stroke="#111" stroke-width="0.8"/>
<line x1="318.6" y1="25.08" x2="320.4" y2="25.08" stroke="#111" stroke-width="0.8"/>
<line x1="318.6" y1="22.28" x2="320.4" y2="22.28" stroke="#111" stroke-width="0.8"/>
<line x1="318.6" y1="19.49" x2="320.4" y2="19.49" stroke="#111" stroke-width="0.8"/>
<line x1="323.53" y1="86.5" x2="323.53" y2="88.1" stroke="#111" stroke-width="0.8"/>
<line x1="326.66" y1="86.5" x2="326.66" y2="88.1" stroke="#111" stroke-width="0.8"/>
<line x1="329.78" y1="86.5" x2="329.78" y2="88.1" stroke="#111" stroke-width="0.8"/>
<line x1="332.91" y1="86.5" x2="332.91" y2="88.1" stroke="#111" stroke-width="0.8"/>
<line x1="336.04" y1="86.5" x2="336.04" y2="88.1" stroke="#111" stroke-width="0.8"/>
<line x1="339.17" y1="86.5" x2="339.17" y2="90.3" stroke="#111" stroke-width="0.8"/>
<line x1="342.29" y1="86.5" x2="342.29" y2="88.1" stroke="#111" stroke-width="0.8"/>
<line x1="345.42" y1="86.5" x2="345.42" y2="88.1" stroke="#111" stroke-width="0.8"/>
<line x1="348.55" y1="86.5" x2="348.55" y2="88.1" stroke="#111" stroke-width="0.8"/>
<line x1="351.68" y1="86.5" x2="351.68" y2="88.1" stroke="#111" stroke-width="0.8"/>
<line x1="354.81" y1="86.5" x2="354.81" y2="88.1" stroke="#111" stroke-width="0.8"/>
<line x1="357.93" y1="86.5" x2="357.93" y2="90.3" stroke="#111" stroke-width="0.8"/>
<line x1="361.06" y1="86.5" x2="361.06" y2="88.1" stroke="#111" stroke-width="0.8"/>
<line x1="364.19" y1="86.5" x2="364.19" y2="88.1" stroke="#111" stroke-width="0.8"/>
<line x1="367.32" y1="86.5" x2="367.32" y2="88.1" stroke="#111" stroke-width="0.8"/>
<line x1="370.44" y1="86.5" x2="370.44" y2="88.1" stroke="#111" stroke-width="0.8"/>
<line x1="373.57" y1="86.5" x2="373.57" y2="88.1" stroke="#111" stroke-width="0.8"/>
<line x1="376.7" y1="86.5" x2="376.7" y2="90.3" stroke="#111" stroke-width="0.8"/>
<line x1="379.83" y1="86.5" x2="379.83" y2="88.1" stroke="#111" stroke-width="0.8"/>
<line x1="382.96" y1="86.5" x2="382.96" y2="88.1" stroke="#111" stroke-width="0.8"/>
<line x1="386.08" y1="86.5" x2="386.08" y2="88.1" stroke="#111" stroke-width="0.8"/>
<line x1="389.21" y1="86.5" x2="389.21" y2="88.1" stroke="#111" stroke-width="0.8"/>
<line x1="392.34" y1="86.5" x2="392.34" y2="88.1" stroke="#111" stroke-width="0.8"/>
<line x1="395.47" y1="86.5" x2="395.47" y2="90.3" stroke="#111" stroke-width="0.8"/>
<line x1="398.59" y1="86.5" x2="398.59" y2="88.1" stroke="#111" stroke-width="0.8"/>
<line x1="401.72" y1="86.5" x2="401.72" y2="88.1" stroke="#111" stroke-width="0.8"/>
<line x1="404.85" y1="86.5" x2="404.85" y2="88.1" stroke="#111" stroke-width="0.8"/>
<line x1="407.98" y1="86.5" x2="407.98" y2="88.1" stroke="#111" stroke-width="0.8"/>
<line x1="411.11" y1="86.5" x2="411.11" y2="88.1" stroke="#111" stroke-width="0.8"/>
<line x1="414.23" y1="86.5" x2="414.23" y2="90.3" stroke="#111" stroke-width="0.8"/>
<line x1="417.36" y1="86.5" x2="417.36" y2="88.1" stroke="#111" stroke-width="0.8"/>
<line x1="420.49" y1="86.5" x2="420.49" y2="88.1" stroke="#111" stroke-width="0.8"/>
<line x1="423.62" y1="86.5" x2="423.62" y2="88.1" stroke="#111" stroke-width="0.8"/>
<line x1="426.74" y1="86.5" x2="426.74" y2="88.1" stroke="#111" stroke-width="0.8"/>
<line x1="429.87" y1="86.5" x2="429.87" y2="88.1" stroke="#111" stroke-width="0.8"/>
<line x1="433" y1="86.5" x2="433" y2="90.3" stroke="#111" stroke-width="0.8"/>
<text x="314.8" y="86.5" class="tl" text-anchor="middle" transform="rotate(-90 314.8 86.5)">0</text>
<text x="314.8" y="72.54" class="tl" text-anchor="middle" transform="rotate(-90 314.8 72.54)">50</text>
<text x="314.8" y="58.58" class="tl" text-anchor="middle" transform="rotate(-90 314.8 58.58)">100</text>
<text x="314.8" y="44.62" class="tl" text-anchor="middle" transform="rotate(-90 314.8 44.62)">150</text>
<text x="314.8" y="30.66" class="tl" text-anchor="middle" transform="rotate(-90 314.8 30.66)">200</text>
<text x="321.3" y="91.1" class="tl" transform="rotate(-90 321.3 91.1)" text-anchor="end">0</text>
<text x="340.07" y="91.1" class="tl" transform="rotate(-90 340.07 91.1)" text-anchor="end">20</text>
<text x="358.83" y="91.1" class="tl" transform="rotate(-90 358.83 91.1)" text-anchor="end">40</text>
<text x="377.6" y="91.1" class="tl" transform="rotate(-90 377.6 91.1)" text-anchor="end">60</text>
<text x="396.37" y="91.1" class="tl" transform="rotate(-90 396.37 91.1)" text-anchor="end">80</text>
<text x="415.13" y="91.1" class="tl" transform="rotate(-90 415.13 91.1)" text-anchor="end">100</text>
<text x="433.9" y="91.1" class="tl" transform="rotate(-90 433.9 91.1)" text-anchor="end">120</text>
<path d="M66,181.3 C67,181.25 70.3,181.35 72,181 C73.7,180.65 74.63,180.53 76.2,179.2 C77.77,177.87 79.85,176.1 81.4,173 C82.95,169.9 84.38,164.38 85.5,160.6 C86.62,156.82 87.15,152.97 88.1,150.3 C89.05,147.63 90.27,145.12 91.2,144.6 C92.13,144.08 92.85,145.57 93.7,147.2 C94.55,148.83 95.43,152.25 96.3,154.4 C97.17,156.55 97.78,158.8 98.9,160.1 C100.02,161.4 101.28,162.02 103,162.2 C104.72,162.38 107.48,161.47 109.2,161.2 C110.92,160.93 111.83,160.6 113.3,160.6 C114.77,160.6 115.88,160.9 118,161.2 C120.12,161.5 123.7,161.82 126,162.4 C128.3,162.98 129.88,163.65 131.8,164.7 C133.72,165.75 135.58,167.27 137.5,168.7 C139.42,170.13 141.38,171.78 143.3,173.3 C145.22,174.82 147.1,176.57 149,177.8 C150.9,179.03 153.43,180.1 154.7,180.7 C155.97,181.3 156.28,181.28 156.6,181.4 L156.6,181.4 L66,181.4 Z" fill="#fff"/>
<polygon points="43.4,181.4 43.9,181.4 44.4,181.4 44.9,181.4 45.4,181.4 45.9,181.4 46.4,181.4 46.9,181.4 47.4,181.4 47.9,181.4 48.4,181.4 48.9,181.4 49.4,181.4 49.9,181.4 50.4,181.4 50.9,181.4 51.4,181.4 51.9,181.4 52.4,181.4 52.9,181.4 53.4,181.4 53.9,181.4 54.4,181.4 54.9,181.4 55.4,181.4 55.9,181.4 56.4,181.4 56.9,181.4 57.4,181.4 57.9,181.4 58.4,181.4 58.9,181.4 59.4,181.4 59.9,181.4 60.4,181.4 60.9,181.4 61.4,181.4 61.9,181.4 62.4,181.4 62.9,181.4 63.4,181.4 63.9,181.4 64.4,181.4 64.9,181.4 65.4,181.4 65.9,181.4 66.4,181.4 66.9,181.4 67.4,181.4 67.9,181.39 68.4,181.39 68.9,181.39 69.4,181.38 69.9,181.38 70.4,181.37 70.9,181.35 71.4,181.34 71.9,181.31 72.4,181.28 72.9,181.24 73.4,181.18 73.9,181.11 74.4,181.02 74.9,180.9 75.4,180.76 75.9,180.58 76.4,180.36 76.9,180.09 77.4,179.76 77.9,179.37 78.4,178.91 78.9,178.38 79.4,177.76 79.9,177.05 80.4,176.26 80.9,175.37 81.4,174.39 81.9,173.32 82.4,172.18 82.9,170.97 83.4,169.7 83.9,168.39 84.4,167.06 84.9,165.74 85.4,164.45 85.9,163.22 86.4,162.07 86.9,161.02 87.4,160.12 87.9,159.36 88.4,158.79 88.9,158.4 89.4,158.22 89.9,158.25 90.4,158.58 90.9,159.19 91.4,160.06 91.9,161.16 92.4,162.45 92.9,163.89 93.4,165.42 93.9,166.38 94.4,165.76 94.9,165.19 95.4,164.7 95.9,164.28 96.4,163.96 96.9,163.72 97.4,163.55 97.9,163.45 98.4,163.38 98.9,163.35 99.4,163.32 99.9,163.3 100.4,163.29 100.9,163.28 101.4,163.27 101.9,163.25 102.4,163.24 102.9,163.23 103.4,163.22 103.9,163.2 104.4,163.19 104.9,163.18 105.4,163.16 105.9,163.15 106.4,163.14 106.9,163.13 107.4,163.12 107.9,163.1 108.4,163.09 108.9,163.08 109.4,163.06 109.9,163.05 110.4,163.04 110.9,163.03 111.4,163.02 111.9,163 112.4,162.99 112.9,162.98 113.4,162.97 113.9,162.97 114.4,162.98 114.9,163.01 115.4,163.05 115.9,163.12 116.4,163.22 116.9,163.34 117.4,163.48 117.9,163.64 118.4,163.81 118.9,163.99 119.4,164.18 119.9,164.36 120.4,164.55 120.9,164.74 121.4,164.93 121.9,165.11 122.4,165.3 122.9,165.49 123.4,165.68 123.9,165.86 124.4,166.05 124.9,166.24 125.4,166.44 125.9,166.64 126.4,166.85 126.9,167.08 127.4,167.33 127.9,167.62 128.4,167.93 128.9,168.27 129.4,168.64 129.9,169.03 130.4,169.44 130.9,169.85 131.4,170.27 131.9,170.68 132.4,171.11 132.9,171.53 133.4,171.95 133.9,172.37 134.4,172.79 134.9,173.21 135.4,173.62 135.9,174.03 136.4,174.43 136.9,174.82 137.4,175.2 137.9,175.56 138.4,175.92 138.9,176.26 139.4,176.59 139.9,176.91 140.4,177.23 140.9,177.55 141.4,177.8 141.9,177.99 142.4,178.17 142.9,178.36 143.4,178.54 143.9,178.72 144.4,178.9 144.9,179.08 145.4,179.25 145.9,179.42 146.4,179.57 146.9,179.73 147.4,179.87 147.9,180.01 148.4,180.14 148.9,180.26 149.4,180.37 149.9,180.48 150.4,180.57 150.9,180.66 151.4,180.74 151.9,180.82 152.4,180.89 152.9,180.95 153.4,181.01 153.9,181.06 154.4,181.1 154.9,181.14 155.4,181.17 155.9,181.21 155.9,181.21 155.4,181.17 154.9,181.14 154.4,181.1 153.9,181.06 153.4,181.01 152.9,180.95 152.4,180.89 151.9,180.82 151.4,180.74 150.9,180.66 150.4,180.57 149.9,180.48 149.4,180.37 148.9,180.26 148.4,180.14 147.9,180.01 147.4,179.87 146.9,179.73 146.4,179.57 145.9,179.42 145.4,179.25 144.9,179.08 144.4,178.9 143.9,178.72 143.4,178.54 142.9,178.36 142.4,178.17 141.9,177.99 141.4,177.8 140.9,177.62 140.4,177.45 139.9,177.28 139.4,177.12 138.9,176.97 138.4,176.82 137.9,176.69 137.4,176.58 136.9,176.47 136.4,176.39 135.9,176.32 135.4,176.26 134.9,176.22 134.4,176.2 133.9,176.2 133.4,176.22 132.9,176.25 132.4,176.3 131.9,176.37 131.4,176.46 130.9,176.56 130.4,176.67 129.9,176.8 129.4,176.94 128.9,177.09 128.4,177.25 127.9,177.41 127.4,177.59 126.9,177.77 126.4,177.95 125.9,178.13 125.4,178.32 124.9,178.51 124.4,178.69 123.9,178.87 123.4,179.05 122.9,179.22 122.4,179.38 121.9,179.54 121.4,179.7 120.9,179.84 120.4,179.98 119.9,180.11 119.4,180.23 118.9,180.35 118.4,180.46 117.9,180.55 117.4,180.65 116.9,180.73 116.4,180.81 115.9,180.87 115.4,180.94 114.9,180.99 114.4,181.05 113.9,181.09 113.4,181.13 112.9,181.17 112.4,181.2 111.9,181.23 111.4,181.25 110.9,181.27 110.4,181.29 109.9,181.31 109.4,181.32 108.9,181.34 108.4,181.35 107.9,181.36 107.4,181.36 106.9,181.37 106.4,181.37 105.9,181.38 105.4,181.36 104.9,181.35 104.4,181.32 103.9,181.28 103.4,181.23 102.9,181.16 102.4,181.06 101.9,180.93 101.4,180.76 100.9,180.54 100.4,180.26 99.9,179.9 99.4,179.46 98.9,178.91 98.4,178.26 97.9,177.48 97.4,176.58 96.9,175.54 96.4,174.37 95.9,173.08 95.4,171.67 94.9,170.17 94.4,168.6 93.9,167.01 93.4,165.42 92.9,163.89 92.4,162.45 91.9,161.16 91.4,160.06 90.9,159.19 90.4,158.58 89.9,158.25 89.4,158.22 88.9,158.4 88.4,158.79 87.9,159.36 87.4,160.12 86.9,161.02 86.4,162.07 85.9,163.22 85.4,164.45 84.9,165.74 84.4,167.06 83.9,168.39 83.4,169.7 82.9,170.97 82.4,172.18 81.9,173.32 81.4,174.39 80.9,175.37 80.4,176.26 79.9,177.05 79.4,177.76 78.9,178.38 78.4,178.91 77.9,179.37 77.4,179.76 76.9,180.09 76.4,180.36 75.9,180.58 75.4,180.76 74.9,180.9 74.4,181.02 73.9,181.11 73.4,181.18 72.9,181.24 72.4,181.28 71.9,181.31 71.4,181.34 70.9,181.35 70.4,181.37 69.9,181.38 69.4,181.38 68.9,181.39 68.4,181.39 67.9,181.39 67.4,181.4 66.9,181.4 66.4,181.4 65.9,181.4 65.4,181.4 64.9,181.4 64.4,181.4 63.9,181.4 63.4,181.4 62.9,181.4 62.4,181.4 61.9,181.4 61.4,181.4 60.9,181.4 60.4,181.4 59.9,181.4 59.4,181.4 58.9,181.4 58.4,181.4 57.9,181.4 57.4,181.4 56.9,181.4 56.4,181.4 55.9,181.4 55.4,181.4 54.9,181.4 54.4,181.4 53.9,181.4 53.4,181.4 52.9,181.4 52.4,181.4 51.9,181.4 51.4,181.4 50.9,181.4 50.4,181.4 49.9,181.4 49.4,181.4 48.9,181.4 48.4,181.4 47.9,181.4 47.4,181.4 46.9,181.4 46.4,181.4 45.9,181.4 45.4,181.4 44.9,181.4 44.4,181.4 43.9,181.4 43.4,181.4" fill="#fff"/>
<polygon points="43.4,181.4 43.9,181.4 44.4,181.4 44.9,181.4 45.4,181.4 45.9,181.4 46.4,181.4 46.9,181.4 47.4,181.4 47.9,181.4 48.4,181.4 48.9,181.4 49.4,181.4 49.9,181.4 50.4,181.4 50.9,181.4 51.4,181.4 51.9,181.4 52.4,181.4 52.9,181.4 53.4,181.4 53.9,181.4 54.4,181.4 54.9,181.4 55.4,181.4 55.9,181.4 56.4,181.4 56.9,181.4 57.4,181.4 57.9,181.4 58.4,181.4 58.9,181.4 59.4,181.4 59.9,181.4 60.4,181.4 60.9,181.4 61.4,181.4 61.9,181.4 62.4,181.4 62.9,181.4 63.4,181.4 63.9,181.4 64.4,181.4 64.9,181.4 65.4,181.4 65.9,181.4 66.4,181.4 66.9,181.4 67.4,181.4 67.9,181.39 68.4,181.39 68.9,181.39 69.4,181.38 69.9,181.38 70.4,181.37 70.9,181.35 71.4,181.34 71.9,181.31 72.4,181.28 72.9,181.24 73.4,181.18 73.9,181.11 74.4,181.02 74.9,180.9 75.4,180.76 75.9,180.58 76.4,180.36 76.9,180.09 77.4,179.76 77.9,179.37 78.4,178.91 78.9,178.38 79.4,177.76 79.9,177.05 80.4,176.26 80.9,175.37 81.4,174.39 81.9,173.32 82.4,172.18 82.9,170.97 83.4,169.7 83.9,168.39 84.4,167.06 84.9,165.74 85.4,164.45 85.9,163.22 86.4,162.07 86.9,161.02 87.4,160.12 87.9,159.36 88.4,158.79 88.9,158.4 89.4,158.22 89.9,158.25 90.4,158.58 90.9,159.19 91.4,160.06 91.9,161.16 92.4,162.45 92.9,163.89 93.4,165.42 93.9,166.38 94.4,165.76 94.9,165.19 95.4,164.7 95.9,164.28 96.4,163.96 96.9,163.72 97.4,163.55 97.9,163.45 98.4,163.38 98.9,163.35 99.4,163.32 99.9,163.3 100.4,163.29 100.9,163.28 101.4,163.27 101.9,163.25 102.4,163.24 102.9,163.23 103.4,163.22 103.9,163.2 104.4,163.19 104.9,163.18 105.4,163.16 105.9,163.15 106.4,163.14 106.9,163.13 107.4,163.12 107.9,163.1 108.4,163.09 108.9,163.08 109.4,163.06 109.9,163.05 110.4,163.04 110.9,163.03 111.4,163.02 111.9,163 112.4,162.99 112.9,162.98 113.4,162.97 113.9,162.97 114.4,162.98 114.9,163.01 115.4,163.05 115.9,163.12 116.4,163.22 116.9,163.34 117.4,163.48 117.9,163.64 118.4,163.81 118.9,163.99 119.4,164.18 119.9,164.36 120.4,164.55 120.9,164.74 121.4,164.93 121.9,165.11 122.4,165.3 122.9,165.49 123.4,165.68 123.9,165.86 124.4,166.05 124.9,166.24 125.4,166.44 125.9,166.64 126.4,166.85 126.9,167.08 127.4,167.33 127.9,167.62 128.4,167.93 128.9,168.27 129.4,168.64 129.9,169.03 130.4,169.44 130.9,169.85 131.4,170.27 131.9,170.68 132.4,171.11 132.9,171.53 133.4,171.95 133.9,172.37 134.4,172.79 134.9,173.21 135.4,173.62 135.9,174.03 136.4,174.43 136.9,174.82 137.4,175.2 137.9,175.56 138.4,175.92 138.9,176.26 139.4,176.59 139.9,176.91 140.4,177.23 140.9,177.55 141.4,177.8 141.9,177.99 142.4,178.17 142.9,178.36 143.4,178.54 143.9,178.72 144.4,178.9 144.9,179.08 145.4,179.25 145.9,179.42 146.4,179.57 146.9,179.73 147.4,179.87 147.9,180.01 148.4,180.14 148.9,180.26 149.4,180.37 149.9,180.48 150.4,180.57 150.9,180.66 151.4,180.74 151.9,180.82 152.4,180.89 152.9,180.95 153.4,181.01 153.9,181.06 154.4,181.1 154.9,181.14 155.4,181.17 155.9,181.21 155.9,181.21 155.4,181.17 154.9,181.14 154.4,181.1 153.9,181.06 153.4,181.01 152.9,180.95 152.4,180.89 151.9,180.82 151.4,180.74 150.9,180.66 150.4,180.57 149.9,180.48 149.4,180.37 148.9,180.26 148.4,180.14 147.9,180.01 147.4,179.87 146.9,179.73 146.4,179.57 145.9,179.42 145.4,179.25 144.9,179.08 144.4,178.9 143.9,178.72 143.4,178.54 142.9,178.36 142.4,178.17 141.9,177.99 141.4,177.8 140.9,177.62 140.4,177.45 139.9,177.28 139.4,177.12 138.9,176.97 138.4,176.82 137.9,176.69 137.4,176.58 136.9,176.47 136.4,176.39 135.9,176.32 135.4,176.26 134.9,176.22 134.4,176.2 133.9,176.2 133.4,176.22 132.9,176.25 132.4,176.3 131.9,176.37 131.4,176.46 130.9,176.56 130.4,176.67 129.9,176.8 129.4,176.94 128.9,177.09 128.4,177.25 127.9,177.41 127.4,177.59 126.9,177.77 126.4,177.95 125.9,178.13 125.4,178.32 124.9,178.51 124.4,178.69 123.9,178.87 123.4,179.05 122.9,179.22 122.4,179.38 121.9,179.54 121.4,179.7 120.9,179.84 120.4,179.98 119.9,180.11 119.4,180.23 118.9,180.35 118.4,180.46 117.9,180.55 117.4,180.65 116.9,180.73 116.4,180.81 115.9,180.87 115.4,180.94 114.9,180.99 114.4,181.05 113.9,181.09 113.4,181.13 112.9,181.17 112.4,181.2 111.9,181.23 111.4,181.25 110.9,181.27 110.4,181.29 109.9,181.31 109.4,181.32 108.9,181.34 108.4,181.35 107.9,181.36 107.4,181.36 106.9,181.37 106.4,181.37 105.9,181.38 105.4,181.36 104.9,181.35 104.4,181.32 103.9,181.28 103.4,181.23 102.9,181.16 102.4,181.06 101.9,180.93 101.4,180.76 100.9,180.54 100.4,180.26 99.9,179.9 99.4,179.46 98.9,178.91 98.4,178.26 97.9,177.48 97.4,176.58 96.9,175.54 96.4,174.37 95.9,173.08 95.4,171.67 94.9,170.17 94.4,168.6 93.9,167.01 93.4,165.42 92.9,163.89 92.4,162.45 91.9,161.16 91.4,160.06 90.9,159.19 90.4,158.58 89.9,158.25 89.4,158.22 88.9,158.4 88.4,158.79 87.9,159.36 87.4,160.12 86.9,161.02 86.4,162.07 85.9,163.22 85.4,164.45 84.9,165.74 84.4,167.06 83.9,168.39 83.4,169.7 82.9,170.97 82.4,172.18 81.9,173.32 81.4,174.39 80.9,175.37 80.4,176.26 79.9,177.05 79.4,177.76 78.9,178.38 78.4,178.91 77.9,179.37 77.4,179.76 76.9,180.09 76.4,180.36 75.9,180.58 75.4,180.76 74.9,180.9 74.4,181.02 73.9,181.11 73.4,181.18 72.9,181.24 72.4,181.28 71.9,181.31 71.4,181.34 70.9,181.35 70.4,181.37 69.9,181.38 69.4,181.38 68.9,181.39 68.4,181.39 67.9,181.39 67.4,181.4 66.9,181.4 66.4,181.4 65.9,181.4 65.4,181.4 64.9,181.4 64.4,181.4 63.9,181.4 63.4,181.4 62.9,181.4 62.4,181.4 61.9,181.4 61.4,181.4 60.9,181.4 60.4,181.4 59.9,181.4 59.4,181.4 58.9,181.4 58.4,181.4 57.9,181.4 57.4,181.4 56.9,181.4 56.4,181.4 55.9,181.4 55.4,181.4 54.9,181.4 54.4,181.4 53.9,181.4 53.4,181.4 52.9,181.4 52.4,181.4 51.9,181.4 51.4,181.4 50.9,181.4 50.4,181.4 49.9,181.4 49.4,181.4 48.9,181.4 48.4,181.4 47.9,181.4 47.4,181.4 46.9,181.4 46.4,181.4 45.9,181.4 45.4,181.4 44.9,181.4 44.4,181.4 43.9,181.4 43.4,181.4" fill="url(#hb)"/>
<polygon points="43.4,181.4 43.9,181.4 44.4,181.4 44.9,181.4 45.4,181.4 45.9,181.4 46.4,181.4 46.9,181.4 47.4,181.4 47.9,181.4 48.4,181.4 48.9,181.4 49.4,181.4 49.9,181.4 50.4,181.4 50.9,181.4 51.4,181.4 51.9,181.4 52.4,181.4 52.9,181.4 53.4,181.4 53.9,181.4 54.4,181.4 54.9,181.4 55.4,181.4 55.9,181.4 56.4,181.4 56.9,181.4 57.4,181.4 57.9,181.4 58.4,181.4 58.9,181.4 59.4,181.4 59.9,181.4 60.4,181.4 60.9,181.4 61.4,181.4 61.9,181.4 62.4,181.4 62.9,181.4 63.4,181.4 63.9,181.4 64.4,181.4 64.9,181.4 65.4,181.4 65.9,181.4 66.4,181.4 66.9,181.4 67.4,181.4 67.9,181.39 68.4,181.39 68.9,181.39 69.4,181.38 69.9,181.38 70.4,181.37 70.9,181.35 71.4,181.34 71.9,181.31 72.4,181.28 72.9,181.24 73.4,181.18 73.9,181.11 74.4,181.02 74.9,180.9 75.4,180.76 75.9,180.58 76.4,180.36 76.9,180.09 77.4,179.76 77.9,179.37 78.4,178.91 78.9,178.38 79.4,177.76 79.9,177.05 80.4,176.26 80.9,175.37 81.4,174.39 81.9,173.32 82.4,172.18 82.9,170.97 83.4,169.7 83.9,168.39 84.4,167.06 84.9,165.74 85.4,164.45 85.9,163.22 86.4,162.07 86.9,161.02 87.4,160.12 87.9,159.36 88.4,158.79 88.9,158.4 89.4,158.22 89.9,158.25 90.4,158.58 90.9,159.19 91.4,160.06 91.9,161.16 92.4,162.45 92.9,163.89 93.4,165.42 93.9,167.01 94.4,168.6 94.9,170.17 95.4,171.67 95.9,173.08 96.4,174.37 96.9,175.54 97.4,176.58 97.9,177.48 98.4,178.26 98.9,178.91 99.4,179.46 99.9,179.9 100.4,180.26 100.9,180.54 101.4,180.76 101.9,180.93 102.4,181.06 102.9,181.16 103.4,181.23 103.9,181.28 104.4,181.32 104.9,181.35 105.4,181.36 105.9,181.38 106.4,181.37 106.9,181.37 107.4,181.36 107.9,181.36 108.4,181.35 108.9,181.34 109.4,181.32 109.9,181.31 110.4,181.29 110.9,181.27 111.4,181.25 111.9,181.23 112.4,181.2 112.9,181.17 113.4,181.13 113.9,181.09 114.4,181.05 114.9,180.99 115.4,180.94 115.9,180.87 116.4,180.81 116.9,180.73 117.4,180.65 117.9,180.55 118.4,180.46 118.9,180.35 119.4,180.23 119.9,180.11 120.4,179.98 120.9,179.84 121.4,179.7 121.9,179.54 122.4,179.38 122.9,179.22 123.4,179.05 123.9,178.87 124.4,178.69 124.9,178.51 125.4,178.32 125.9,178.13 126.4,177.95 126.9,177.77 127.4,177.59 127.9,177.41 128.4,177.25 128.9,177.09 129.4,176.94 129.9,176.8 130.4,176.67 130.9,176.56 131.4,176.46 131.9,176.37 132.4,176.3 132.9,176.25 133.4,176.22 133.9,176.2 134.4,176.2 134.9,176.22 135.4,176.26 135.9,176.32 136.4,176.39 136.9,176.47 137.4,176.58 137.9,176.69 138.4,176.82 138.9,176.97 139.4,177.12 139.9,177.28 140.4,177.45 140.9,177.62 141.4,177.8 141.9,177.99 142.4,178.17 142.9,178.36 143.4,178.54 143.9,178.72 144.4,178.9 144.9,179.08 145.4,179.25 145.9,179.42 146.4,179.57 146.9,179.73 147.4,179.87 147.9,180.01 148.4,180.14 148.9,180.26 149.4,180.37 149.9,180.48 150.4,180.57 150.9,180.66 151.4,180.74 151.9,180.82 152.4,180.89 152.9,180.95 153.4,181.01 153.9,181.06 154.4,181.1 154.9,181.14 155.4,181.17 155.9,181.21 155.9,181.4 43.4,181.4" fill="#f00"/>
<polygon points="43.4,181.4 43.9,181.4 44.4,181.4 44.9,181.4 45.4,181.4 45.9,181.4 46.4,181.4 46.9,181.4 47.4,181.4 47.9,181.4 48.4,181.4 48.9,181.4 49.4,181.4 49.9,181.4 50.4,181.4 50.9,181.4 51.4,181.4 51.9,181.4 52.4,181.4 52.9,181.4 53.4,181.4 53.9,181.4 54.4,181.4 54.9,181.4 55.4,181.4 55.9,181.4 56.4,181.4 56.9,181.4 57.4,181.4 57.9,181.4 58.4,181.4 58.9,181.4 59.4,181.4 59.9,181.4 60.4,181.4 60.9,181.4 61.4,181.4 61.9,181.4 62.4,181.4 62.9,181.4 63.4,181.4 63.9,181.4 64.4,181.4 64.9,181.4 65.4,181.4 65.9,181.4 66.4,181.4 66.9,181.4 67.4,181.4 67.9,181.4 68.4,181.4 68.9,181.4 69.4,181.4 69.9,181.4 70.4,181.4 70.9,181.4 71.4,181.4 71.9,181.4 72.4,181.4 72.9,181.4 73.4,181.4 73.9,181.4 74.4,181.4 74.9,181.4 75.4,181.4 75.9,181.4 76.4,181.4 76.9,181.4 77.4,181.4 77.9,181.4 78.4,181.4 78.9,181.4 79.4,181.4 79.9,181.39 80.4,181.37 80.9,181.33 81.4,181.25 81.9,181.12 82.4,180.93 82.9,180.64 83.4,180.27 83.9,179.81 84.4,179.27 84.9,178.67 85.4,178.03 85.9,177.37 86.4,176.69 86.9,176 87.4,175.31 87.9,174.62 88.4,173.92 88.9,173.23 89.4,172.54 89.9,171.85 90.4,171.15 90.9,170.46 91.4,169.77 91.9,169.08 92.4,168.39 92.9,167.7 93.4,167.03 93.9,167.01 94.4,168.6 94.9,170.17 95.4,171.67 95.9,173.08 96.4,174.37 96.9,175.54 97.4,176.58 97.9,177.48 98.4,178.26 98.9,178.91 99.4,179.46 99.9,179.9 100.4,180.26 100.9,180.54 101.4,180.76 101.9,180.93 102.4,181.06 102.9,181.16 103.4,181.23 103.9,181.28 104.4,181.32 104.9,181.35 105.4,181.36 105.9,181.38 106.4,181.37 106.9,181.37 107.4,181.36 107.9,181.36 108.4,181.35 108.9,181.34 109.4,181.32 109.9,181.31 110.4,181.29 110.9,181.27 111.4,181.25 111.9,181.23 112.4,181.2 112.9,181.17 113.4,181.13 113.9,181.09 114.4,181.05 114.9,180.99 115.4,180.94 115.9,180.87 116.4,180.81 116.9,180.73 117.4,180.65 117.9,180.55 118.4,180.46 118.9,180.35 119.4,180.23 119.9,180.11 120.4,179.98 120.9,179.84 121.4,179.7 121.9,179.54 122.4,179.38 122.9,179.22 123.4,179.05 123.9,178.87 124.4,178.69 124.9,178.51 125.4,178.32 125.9,178.13 126.4,177.95 126.9,177.77 127.4,177.59 127.9,177.41 128.4,177.25 128.9,177.09 129.4,176.94 129.9,176.8 130.4,176.67 130.9,176.56 131.4,176.46 131.9,176.37 132.4,176.3 132.9,176.25 133.4,176.22 133.9,176.2 134.4,176.2 134.9,176.22 135.4,176.26 135.9,176.32 136.4,176.39 136.9,176.47 137.4,176.58 137.9,176.69 138.4,176.82 138.9,176.97 139.4,177.12 139.9,177.28 140.4,177.45 140.9,177.62 141.4,177.86 141.9,178.18 142.4,178.49 142.9,178.81 143.4,179.12 143.9,179.44 144.4,179.74 144.9,180.04 145.4,180.32 145.9,180.58 146.4,180.8 146.9,180.99 147.4,181.14 147.9,181.24 148.4,181.31 148.9,181.36 149.4,181.38 149.9,181.39 150.4,181.4 150.9,181.4 151.4,181.4 151.9,181.4 152.4,181.4 152.9,181.4 153.4,181.4 153.9,181.4 154.4,181.4 154.9,181.4 155.4,181.4 155.9,181.4 155.9,181.4 43.4,181.4" fill="url(#hk)"/>
<polyline points="80.9,181.33 81.4,181.25 81.9,181.12 82.4,180.93 82.9,180.64 83.4,180.27 83.9,179.81 84.4,179.27 84.9,178.67 85.4,178.03 85.9,177.37 86.4,176.69 86.9,176 87.4,175.31 87.9,174.62 88.4,173.92 88.9,173.23 89.4,172.54 89.9,171.85 90.4,171.15 90.9,170.46 91.4,169.77 91.9,169.08 92.4,168.39 92.9,167.7 93.4,167.03 93.9,166.38" fill="none" stroke="#400" stroke-width="0.55"/>
<polyline points="93.9,166.38 94.4,165.76 94.9,165.19 95.4,164.7 95.9,164.28 96.4,163.96 96.9,163.72 97.4,163.55 97.9,163.45 98.4,163.38 98.9,163.35 99.4,163.32 99.9,163.3 100.4,163.29 100.9,163.28 101.4,163.27 101.9,163.25 102.4,163.24 102.9,163.23 103.4,163.22 103.9,163.2 104.4,163.19 104.9,163.18 105.4,163.16 105.9,163.15 106.4,163.14 106.9,163.13 107.4,163.12 107.9,163.1 108.4,163.09 108.9,163.08 109.4,163.06 109.9,163.05 110.4,163.04 110.9,163.03 111.4,163.02 111.9,163 112.4,162.99 112.9,162.98 113.4,162.97 113.9,162.97 114.4,162.98 114.9,163.01 115.4,163.05 115.9,163.12 116.4,163.22 116.9,163.34 117.4,163.48 117.9,163.64 118.4,163.81 118.9,163.99 119.4,164.18 119.9,164.36 120.4,164.55 120.9,164.74 121.4,164.93 121.9,165.11 122.4,165.3 122.9,165.49 123.4,165.68 123.9,165.86 124.4,166.05 124.9,166.24 125.4,166.44 125.9,166.64 126.4,166.85 126.9,167.08 127.4,167.33 127.9,167.62 128.4,167.93 128.9,168.27 129.4,168.64 129.9,169.03 130.4,169.44 130.9,169.85 131.4,170.27 131.9,170.68 132.4,171.11 132.9,171.53 133.4,171.95 133.9,172.37 134.4,172.79 134.9,173.21 135.4,173.62 135.9,174.03 136.4,174.43 136.9,174.82 137.4,175.2 137.9,175.56 138.4,175.92 138.9,176.26 139.4,176.59 139.9,176.91 140.4,177.23 140.9,177.55 141.4,177.86" fill="none" stroke="#336" stroke-width="0.55"/>
<polyline points="141.4,177.86 141.9,178.18 142.4,178.49 142.9,178.81 143.4,179.12 143.9,179.44 144.4,179.74 144.9,180.04 145.4,180.32 145.9,180.58 146.4,180.8 146.9,180.99 147.4,181.14 147.9,181.24 148.4,181.31" fill="none" stroke="#400" stroke-width="0.55"/>
<polyline points="71.9,181.31 72.4,181.28 72.9,181.24 73.4,181.18 73.9,181.11 74.4,181.02 74.9,180.9 75.4,180.76 75.9,180.58 76.4,180.36 76.9,180.09 77.4,179.76 77.9,179.37 78.4,178.91 78.9,178.38 79.4,177.76 79.9,177.05 80.4,176.26 80.9,175.37 81.4,174.39 81.9,173.32 82.4,172.18 82.9,170.97 83.4,169.7 83.9,168.39 84.4,167.06 84.9,165.74 85.4,164.45 85.9,163.22 86.4,162.07 86.9,161.02 87.4,160.12 87.9,159.36 88.4,158.79 88.9,158.4 89.4,158.22 89.9,158.25 90.4,158.58 90.9,159.19 91.4,160.06 91.9,161.16 92.4,162.45 92.9,163.89 93.4,165.42 93.9,167.01 94.4,168.6 94.9,170.17 95.4,171.67 95.9,173.08 96.4,174.37 96.9,175.54 97.4,176.58 97.9,177.48 98.4,178.26 98.9,178.91 99.4,179.46 99.9,179.9 100.4,180.26 100.9,180.54 101.4,180.76 101.9,180.93 102.4,181.06 102.9,181.16 103.4,181.23 103.9,181.28 104.4,181.32 109.9,181.31 110.4,181.29 110.9,181.27 111.4,181.25 111.9,181.23 112.4,181.2 112.9,181.17 113.4,181.13 113.9,181.09 114.4,181.05 114.9,180.99 115.4,180.94 115.9,180.87 116.4,180.81 116.9,180.73 117.4,180.65 117.9,180.55 118.4,180.46 118.9,180.35 119.4,180.23 119.9,180.11 120.4,179.98 120.9,179.84 121.4,179.7 121.9,179.54 122.4,179.38 122.9,179.22 123.4,179.05 123.9,178.87 124.4,178.69 124.9,178.51 125.4,178.32 125.9,178.13 126.4,177.95 126.9,177.77 127.4,177.59 127.9,177.41 128.4,177.25 128.9,177.09 129.4,176.94 129.9,176.8 130.4,176.67 130.9,176.56 131.4,176.46 131.9,176.37 132.4,176.3 132.9,176.25 133.4,176.22 133.9,176.2 134.4,176.2 134.9,176.22 135.4,176.26 135.9,176.32 136.4,176.39 136.9,176.47 137.4,176.58 137.9,176.69 138.4,176.82 138.9,176.97 139.4,177.12 139.9,177.28 140.4,177.45 140.9,177.62 141.4,177.8 141.9,177.99 142.4,178.17 142.9,178.36 143.4,178.54 143.9,178.72 144.4,178.9 144.9,179.08 145.4,179.25 145.9,179.42 146.4,179.57 146.9,179.73 147.4,179.87 147.9,180.01 148.4,180.14 148.9,180.26 149.4,180.37 149.9,180.48 150.4,180.57 150.9,180.66 151.4,180.74 151.9,180.82 152.4,180.89 152.9,180.95 153.4,181.01 153.9,181.06 154.4,181.1 154.9,181.14 155.4,181.17 155.9,181.21" fill="none" stroke="#300" stroke-width="0.5"/>
<path d="M66,181.3 C67,181.25 70.3,181.35 72,181 C73.7,180.65 74.63,180.53 76.2,179.2 C77.77,177.87 79.85,176.1 81.4,173 C82.95,169.9 84.38,164.38 85.5,160.6 C86.62,156.82 87.15,152.97 88.1,150.3 C89.05,147.63 90.27,145.12 91.2,144.6 C92.13,144.08 92.85,145.57 93.7,147.2 C94.55,148.83 95.43,152.25 96.3,154.4 C97.17,156.55 97.78,158.8 98.9,160.1 C100.02,161.4 101.28,162.02 103,162.2 C104.72,162.38 107.48,161.47 109.2,161.2 C110.92,160.93 111.83,160.6 113.3,160.6 C114.77,160.6 115.88,160.9 118,161.2 C120.12,161.5 123.7,161.82 126,162.4 C128.3,162.98 129.88,163.65 131.8,164.7 C133.72,165.75 135.58,167.27 137.5,168.7 C139.42,170.13 141.38,171.78 143.3,173.3 C145.22,174.82 147.1,176.57 149,177.8 C150.9,179.03 153.43,180.1 154.7,180.7 C155.97,181.3 156.28,181.28 156.6,181.4" fill="none" stroke="#444" stroke-width="0.8"/>
<path d="M66,181.3 C67,181.25 70.3,181.35 72,181 C73.7,180.65 74.63,180.53 76.2,179.2 C77.77,177.87 79.85,176.1 81.4,173 C82.95,169.9 84.38,164.38 85.5,160.6 C86.62,156.82 87.15,152.97 88.1,150.3 C89.05,147.63 90.27,145.12 91.2,144.6 C92.13,144.08 92.85,145.57 93.7,147.2 C94.55,148.83 95.43,152.23 96.3,154.4 C97.17,156.58 97.78,158.78 98.9,160.23 C100.02,161.68 101.28,162.74 103,163.11 C104.72,163.48 107.48,162.65 109.2,162.44 C110.92,162.24 111.83,161.87 113.3,161.88 C114.77,161.89 115.88,162.2 118,162.52 C120.12,162.83 123.7,163.27 126,163.77 C128.3,164.28 129.88,164.68 131.8,165.53 C133.72,166.39 135.58,167.62 137.5,168.91 C139.42,170.21 141.38,171.82 143.3,173.3 C145.22,174.78 147.1,176.57 149,177.8 C150.9,179.03 153.43,180.1 154.7,180.7 C155.97,181.3 156.28,181.28 156.6,181.4" fill="none" stroke="#111" stroke-width="0.9"/>
<line x1="43.4" y1="111.6" x2="43.4" y2="184.9" stroke="#111" stroke-width="1.1"/>
<line x1="39.9" y1="181.4" x2="156" y2="181.4" stroke="#111" stroke-width="1.1"/>
<line x1="41.6" y1="178.61" x2="43.4" y2="178.61" stroke="#111" stroke-width="0.8"/>
<line x1="41.6" y1="175.82" x2="43.4" y2="175.82" stroke="#111" stroke-width="0.8"/>
<line x1="41.6" y1="173.02" x2="43.4" y2="173.02" stroke="#111" stroke-width="0.8"/>
<line x1="41.6" y1="170.23" x2="43.4" y2="170.23" stroke="#111" stroke-width="0.8"/>
<line x1="39.6" y1="167.44" x2="43.4" y2="167.44" stroke="#111" stroke-width="0.8"/>
<line x1="41.6" y1="164.65" x2="43.4" y2="164.65" stroke="#111" stroke-width="0.8"/>
<line x1="41.6" y1="161.86" x2="43.4" y2="161.86" stroke="#111" stroke-width="0.8"/>
<line x1="41.6" y1="159.06" x2="43.4" y2="159.06" stroke="#111" stroke-width="0.8"/>
<line x1="41.6" y1="156.27" x2="43.4" y2="156.27" stroke="#111" stroke-width="0.8"/>
<line x1="39.6" y1="153.48" x2="43.4" y2="153.48" stroke="#111" stroke-width="0.8"/>
<line x1="41.6" y1="150.69" x2="43.4" y2="150.69" stroke="#111" stroke-width="0.8"/>
<line x1="41.6" y1="147.9" x2="43.4" y2="147.9" stroke="#111" stroke-width="0.8"/>
<line x1="41.6" y1="145.1" x2="43.4" y2="145.1" stroke="#111" stroke-width="0.8"/>
<line x1="41.6" y1="142.31" x2="43.4" y2="142.31" stroke="#111" stroke-width="0.8"/>
<line x1="39.6" y1="139.52" x2="43.4" y2="139.52" stroke="#111" stroke-width="0.8"/>
<line x1="41.6" y1="136.73" x2="43.4" y2="136.73" stroke="#111" stroke-width="0.8"/>
<line x1="41.6" y1="133.94" x2="43.4" y2="133.94" stroke="#111" stroke-width="0.8"/>
<line x1="41.6" y1="131.14" x2="43.4" y2="131.14" stroke="#111" stroke-width="0.8"/>
<line x1="41.6" y1="128.35" x2="43.4" y2="128.35" stroke="#111" stroke-width="0.8"/>
<line x1="39.6" y1="125.56" x2="43.4" y2="125.56" stroke="#111" stroke-width="0.8"/>
<line x1="41.6" y1="122.77" x2="43.4" y2="122.77" stroke="#111" stroke-width="0.8"/>
<line x1="41.6" y1="119.98" x2="43.4" y2="119.98" stroke="#111" stroke-width="0.8"/>
<line x1="41.6" y1="117.18" x2="43.4" y2="117.18" stroke="#111" stroke-width="0.8"/>
<line x1="41.6" y1="114.39" x2="43.4" y2="114.39" stroke="#111" stroke-width="0.8"/>
<line x1="46.53" y1="181.4" x2="46.53" y2="183" stroke="#111" stroke-width="0.8"/>
<line x1="49.66" y1="181.4" x2="49.66" y2="183" stroke="#111" stroke-width="0.8"/>
<line x1="52.78" y1="181.4" x2="52.78" y2="183" stroke="#111" stroke-width="0.8"/>
<line x1="55.91" y1="181.4" x2="55.91" y2="183" stroke="#111" stroke-width="0.8"/>
<line x1="59.04" y1="181.4" x2="59.04" y2="183" stroke="#111" stroke-width="0.8"/>
<line x1="62.17" y1="181.4" x2="62.17" y2="185.2" stroke="#111" stroke-width="0.8"/>
<line x1="65.29" y1="181.4" x2="65.29" y2="183" stroke="#111" stroke-width="0.8"/>
<line x1="68.42" y1="181.4" x2="68.42" y2="183" stroke="#111" stroke-width="0.8"/>
<line x1="71.55" y1="181.4" x2="71.55" y2="183" stroke="#111" stroke-width="0.8"/>
<line x1="74.68" y1="181.4" x2="74.68" y2="183" stroke="#111" stroke-width="0.8"/>
<line x1="77.81" y1="181.4" x2="77.81" y2="183" stroke="#111" stroke-width="0.8"/>
<line x1="80.93" y1="181.4" x2="80.93" y2="185.2" stroke="#111" stroke-width="0.8"/>
<line x1="84.06" y1="181.4" x2="84.06" y2="183" stroke="#111" stroke-width="0.8"/>
<line x1="87.19" y1="181.4" x2="87.19" y2="183" stroke="#111" stroke-width="0.8"/>
<line x1="90.32" y1="181.4" x2="90.32" y2="183" stroke="#111" stroke-width="0.8"/>
<line x1="93.44" y1="181.4" x2="93.44" y2="183" stroke="#111" stroke-width="0.8"/>
<line x1="96.57" y1="181.4" x2="96.57" y2="183" stroke="#111" stroke-width="0.8"/>
<line x1="99.7" y1="181.4" x2="99.7" y2="185.2" stroke="#111" stroke-width="0.8"/>
<line x1="102.83" y1="181.4" x2="102.83" y2="183" stroke="#111" stroke-width="0.8"/>
<line x1="105.96" y1="181.4" x2="105.96" y2="183" stroke="#111" stroke-width="0.8"/>
<line x1="109.08" y1="181.4" x2="109.08" y2="183" stroke="#111" stroke-width="0.8"/>
<line x1="112.21" y1="181.4" x2="112.21" y2="183" stroke="#111" stroke-width="0.8"/>
<line x1="115.34" y1="181.4" x2="115.34" y2="183" stroke="#111" stroke-width="0.8"/>
<line x1="118.47" y1="181.4" x2="118.47" y2="185.2" stroke="#111" stroke-width="0.8"/>
<line x1="121.59" y1="181.4" x2="121.59" y2="183" stroke="#111" stroke-width="0.8"/>
<line x1="124.72" y1="181.4" x2="124.72" y2="183" stroke="#111" stroke-width="0.8"/>
<line x1="127.85" y1="181.4" x2="127.85" y2="183" stroke="#111" stroke-width="0.8"/>
<line x1="130.98" y1="181.4" x2="130.98" y2="183" stroke="#111" stroke-width="0.8"/>
<line x1="134.11" y1="181.4" x2="134.11" y2="183" stroke="#111" stroke-width="0.8"/>
<line x1="137.23" y1="181.4" x2="137.23" y2="185.2" stroke="#111" stroke-width="0.8"/>
<line x1="140.36" y1="181.4" x2="140.36" y2="183" stroke="#111" stroke-width="0.8"/>
<line x1="143.49" y1="181.4" x2="143.49" y2="183" stroke="#111" stroke-width="0.8"/>
<line x1="146.62" y1="181.4" x2="146.62" y2="183" stroke="#111" stroke-width="0.8"/>
<line x1="149.74" y1="181.4" x2="149.74" y2="183" stroke="#111" stroke-width="0.8"/>
<line x1="152.87" y1="181.4" x2="152.87" y2="183" stroke="#111" stroke-width="0.8"/>
<line x1="156" y1="181.4" x2="156" y2="185.2" stroke="#111" stroke-width="0.8"/>
<text x="37.8" y="181.4" class="tl" text-anchor="middle" transform="rotate(-90 37.8 181.4)">0</text>
<text x="37.8" y="167.44" class="tl" text-anchor="middle" transform="rotate(-90 37.8 167.44)">50</text>
<text x="37.8" y="153.48" class="tl" text-anchor="middle" transform="rotate(-90 37.8 153.48)">100</text>
<text x="37.8" y="139.52" class="tl" text-anchor="middle" transform="rotate(-90 37.8 139.52)">150</text>
<text x="37.8" y="125.56" class="tl" text-anchor="middle" transform="rotate(-90 37.8 125.56)">200</text>
<text x="44.3" y="186" class="tl" transform="rotate(-90 44.3 186)" text-anchor="end">0</text>
<text x="63.07" y="186" class="tl" transform="rotate(-90 63.07 186)" text-anchor="end">20</text>
<text x="81.83" y="186" class="tl" transform="rotate(-90 81.83 186)" text-anchor="end">40</text>
<text x="100.6" y="186" class="tl" transform="rotate(-90 100.6 186)" text-anchor="end">60</text>
<text x="119.37" y="186" class="tl" transform="rotate(-90 119.37 186)" text-anchor="end">80</text>
<text x="138.13" y="186" class="tl" transform="rotate(-90 138.13 186)" text-anchor="end">100</text>
<text x="156.9" y="186" class="tl" transform="rotate(-90 156.9 186)" text-anchor="end">120</text>
<path d="M200,181.3 C201.33,181.25 205.97,181.38 208,181 C210.03,180.62 210.95,180.33 212.2,179 C213.45,177.67 214.5,175.5 215.5,173 C216.5,170.5 217.32,166.75 218.2,164 C219.08,161.25 219.98,159.58 220.8,156.5 C221.62,153.42 222.43,148.75 223.1,145.5 C223.77,142.25 224.27,139.42 224.8,137 C225.33,134.58 225.87,133.08 226.3,131 C226.73,128.92 227.02,126.03 227.4,124.5 C227.78,122.97 228.08,122.32 228.6,121.8 C229.12,121.28 229.87,121.38 230.5,121.4 C231.13,121.42 231.92,121.3 232.4,121.9 C232.88,122.5 233.1,123.48 233.4,125 C233.7,126.52 233.88,129 234.2,131 C234.52,133 234.62,134.27 235.3,137 C235.98,139.73 237.5,144.15 238.3,147.4 C239.1,150.65 239.57,153.98 240.1,156.5 C240.63,159.02 240.75,160.82 241.5,162.5 C242.25,164.18 243.17,165.45 244.6,166.6 C246.03,167.75 248.03,168.77 250.1,169.4 C252.17,170.03 254.47,170 257,170.4 C259.53,170.8 262.55,171.1 265.3,171.8 C268.05,172.5 270.75,173.67 273.5,174.6 C276.25,175.53 278.82,176.53 281.8,177.4 C284.78,178.27 289.6,179.15 291.4,179.8 C293.2,180.45 292.4,181.05 292.6,181.3 L292.6,181.4 L200,181.4 Z" fill="#fff"/>
<polygon points="180.1,181.4 180.6,181.4 181.1,181.4 181.6,181.4 182.1,181.4 182.6,181.4 183.1,181.4 183.6,181.4 184.1,181.4 184.6,181.4 185.1,181.4 185.6,181.4 186.1,181.4 186.6,181.4 187.1,181.4 187.6,181.4 188.1,181.4 188.6,181.4 189.1,181.4 189.6,181.4 190.1,181.4 190.6,181.4 191.1,181.4 191.6,181.4 192.1,181.4 192.6,181.4 193.1,181.4 193.6,181.4 194.1,181.4 194.6,181.4 195.1,181.4 195.6,181.4 196.1,181.4 196.6,181.4 197.1,181.4 197.6,181.4 198.1,181.4 198.6,181.4 199.1,181.4 199.6,181.4 200.1,181.39 200.6,181.39 201.1,181.39 201.6,181.39 202.1,181.38 202.6,181.37 203.1,181.36 203.6,181.35 204.1,181.34 204.6,181.32 205.1,181.3 205.6,181.27 206.1,181.23 206.6,181.18 207.1,181.12 207.6,181.04 208.1,180.95 208.6,180.84 209.1,180.7 209.6,180.54 210.1,180.34 210.6,180.1 211.1,179.81 211.6,179.47 212.1,179.08 212.6,178.62 213.1,178.09 213.6,177.47 214.1,176.77 214.6,175.96 215.1,175.06 215.6,174.04 216.1,172.91 216.6,171.65 217.1,170.27 217.6,168.76 218.1,167.13 218.6,165.37 219.1,163.49 219.6,161.5 220.1,159.41 220.6,157.23 221.1,154.97 221.6,152.66 222.1,150.32 222.6,147.96 223.1,145.63 223.6,143.33 224.1,141.11 224.6,138.98 225.1,136.99 225.6,135.15 226.1,133.5 226.6,132.05 227.1,130.84 227.6,129.87 228.1,129.17 228.6,128.74 229.1,128.6 229.6,128.72 230.1,129.08 230.6,129.67 231.1,130.49 231.6,131.53 232.1,132.77 232.6,134.19 233.1,135.78 233.6,137.51 234.1,139.38 234.6,141.34 235.1,143.39 235.6,145.5 236.1,147.65 236.6,149.81 237.1,151.97 237.6,154.1 238.1,156.2 238.6,158.24 239.1,160.21 239.6,162.11 240.1,163.91 240.6,165.62 241.1,167.22 241.6,168.72 242.1,170.12 242.6,171.02 243.1,170.95 243.6,170.9 244.1,170.86 244.6,170.84 245.1,170.82 245.6,170.81 246.1,170.81 246.6,170.8 247.1,170.8 247.6,170.8 248.1,170.8 248.6,170.8 249.1,170.8 249.6,170.8 250.1,170.8 250.6,170.8 251.1,170.8 251.6,170.8 252.1,170.8 252.6,170.8 253.1,170.8 253.6,170.81 254.1,170.82 254.6,170.83 255.1,170.85 255.6,170.87 256.1,170.91 256.6,170.96 257.1,171.02 257.6,171.09 258.1,171.18 258.6,171.28 259.1,171.38 259.6,171.5 260.1,171.62 260.6,171.74 261.1,171.87 261.6,172 262.1,172.13 262.6,172.26 263.1,172.39 263.6,172.52 264.1,172.65 264.6,172.78 265.1,172.91 265.6,173.04 266.1,173.17 266.6,173.3 267.1,173.43 267.6,173.56 268.1,173.69 268.6,173.82 269.1,173.95 269.6,174.08 270.1,174.21 270.6,174.34 271.1,174.47 271.6,174.6 272.1,174.73 272.6,174.86 273.1,174.99 273.6,175.12 274.1,175.25 274.6,175.38 275.1,175.51 275.6,175.64 276.1,175.77 276.6,175.9 277.1,176.03 277.6,176.16 278.1,176.29 278.6,176.42 279.1,176.55 279.6,176.68 280.1,176.81 280.6,176.94 281.1,177.07 281.6,177.2 282.1,177.33 282.6,177.46 283.1,177.59 283.6,177.72 284.1,177.85 284.6,177.98 285.1,178.11 285.6,178.24 286.1,178.37 286.6,178.5 287.1,178.63 287.6,178.75 288.1,178.88 288.6,179.01 289.1,179.13 289.6,179.25 290.1,179.36 290.6,179.46 291.1,179.56 291.6,179.64 292.1,179.71 292.6,179.76 292.6,181.4 292.1,181.4 291.6,181.4 291.1,181.4 290.6,181.4 290.1,181.4 289.6,181.4 289.1,181.4 288.6,181.4 288.1,181.4 287.6,181.4 287.1,181.4 286.6,181.4 286.1,181.4 285.6,181.4 285.1,181.4 284.6,181.4 284.1,181.4 283.6,181.4 283.1,181.4 282.6,181.4 282.1,181.4 281.6,181.4 281.1,181.4 280.6,181.4 280.1,181.4 279.6,181.4 279.1,181.4 278.6,181.4 278.1,181.4 277.6,181.4 277.1,181.4 276.6,181.4 276.1,181.4 275.6,181.4 275.1,181.4 274.6,181.4 274.1,181.4 273.6,181.4 273.1,181.4 272.6,181.4 272.1,181.4 271.6,181.4 271.1,181.4 270.6,181.4 270.1,181.4 269.6,181.4 269.1,181.4 268.6,181.4 268.1,181.4 267.6,181.4 267.1,181.4 266.6,181.4 266.1,181.4 265.6,181.4 265.1,181.4 264.6,181.4 264.1,181.4 263.6,181.4 263.1,181.4 262.6,181.4 262.1,181.4 261.6,181.4 261.1,181.4 260.6,181.39 260.1,181.39 259.6,181.39 259.1,181.39 258.6,181.38 258.1,181.38 257.6,181.37 257.1,181.36 256.6,181.35 256.1,181.33 255.6,181.31 255.1,181.29 254.6,181.26 254.1,181.22 253.6,181.18 253.1,181.13 252.6,181.06 252.1,180.98 251.6,180.88 251.1,180.76 250.6,180.62 250.1,180.46 249.6,180.26 249.1,180.03 248.6,179.76 248.1,179.45 247.6,179.08 247.1,178.66 246.6,178.18 246.1,177.63 245.6,177 245.1,176.3 244.6,175.51 244.1,174.63 243.6,173.66 243.1,172.58 242.6,171.4 242.1,170.12 241.6,168.72 241.1,167.22 240.6,165.62 240.1,163.91 239.6,162.11 239.1,160.21 238.6,158.24 238.1,156.2 237.6,154.1 237.1,151.97 236.6,149.81 236.1,147.65 235.6,145.5 235.1,143.39 234.6,141.34 234.1,139.38 233.6,137.51 233.1,135.78 232.6,134.19 232.1,132.77 231.6,131.53 231.1,130.49 230.6,129.67 230.1,129.08 229.6,128.72 229.1,128.6 228.6,128.74 228.1,129.17 227.6,129.87 227.1,130.84 226.6,132.05 226.1,133.5 225.6,135.15 225.1,136.99 224.6,138.98 224.1,141.11 223.6,143.33 223.1,145.63 222.6,147.96 222.1,150.32 221.6,152.66 221.1,154.97 220.6,157.23 220.1,159.41 219.6,161.5 219.1,163.49 218.6,165.37 218.1,167.13 217.6,168.76 217.1,170.27 216.6,171.65 216.1,172.91 215.6,174.04 215.1,175.06 214.6,175.96 214.1,176.77 213.6,177.47 213.1,178.09 212.6,178.62 212.1,179.08 211.6,179.47 211.1,179.81 210.6,180.1 210.1,180.34 209.6,180.54 209.1,180.7 208.6,180.84 208.1,180.95 207.6,181.04 207.1,181.12 206.6,181.18 206.1,181.23 205.6,181.27 205.1,181.3 204.6,181.32 204.1,181.34 203.6,181.35 203.1,181.36 202.6,181.37 202.1,181.38 201.6,181.39 201.1,181.39 200.6,181.39 200.1,181.39 199.6,181.4 199.1,181.4 198.6,181.4 198.1,181.4 197.6,181.4 197.1,181.4 196.6,181.4 196.1,181.4 195.6,181.4 195.1,181.4 194.6,181.4 194.1,181.4 193.6,181.4 193.1,181.4 192.6,181.4 192.1,181.4 191.6,181.4 191.1,181.4 190.6,181.4 190.1,181.4 189.6,181.4 189.1,181.4 188.6,181.4 188.1,181.4 187.6,181.4 187.1,181.4 186.6,181.4 186.1,181.4 185.6,181.4 185.1,181.4 184.6,181.4 184.1,181.4 183.6,181.4 183.1,181.4 182.6,181.4 182.1,181.4 181.6,181.4 181.1,181.4 180.6,181.4 180.1,181.4" fill="#fff"/>
<polygon points="180.1,181.4 180.6,181.4 181.1,181.4 181.6,181.4 182.1,181.4 182.6,181.4 183.1,181.4 183.6,181.4 184.1,181.4 184.6,181.4 185.1,181.4 185.6,181.4 186.1,181.4 186.6,181.4 187.1,181.4 187.6,181.4 188.1,181.4 188.6,181.4 189.1,181.4 189.6,181.4 190.1,181.4 190.6,181.4 191.1,181.4 191.6,181.4 192.1,181.4 192.6,181.4 193.1,181.4 193.6,181.4 194.1,181.4 194.6,181.4 195.1,181.4 195.6,181.4 196.1,181.4 196.6,181.4 197.1,181.4 197.6,181.4 198.1,181.4 198.6,181.4 199.1,181.4 199.6,181.4 200.1,181.39 200.6,181.39 201.1,181.39 201.6,181.39 202.1,181.38 202.6,181.37 203.1,181.36 203.6,181.35 204.1,181.34 204.6,181.32 205.1,181.3 205.6,181.27 206.1,181.23 206.6,181.18 207.1,181.12 207.6,181.04 208.1,180.95 208.6,180.84 209.1,180.7 209.6,180.54 210.1,180.34 210.6,180.1 211.1,179.81 211.6,179.47 212.1,179.08 212.6,178.62 213.1,178.09 213.6,177.47 214.1,176.77 214.6,175.96 215.1,175.06 215.6,174.04 216.1,172.91 216.6,171.65 217.1,170.27 217.6,168.76 218.1,167.13 218.6,165.37 219.1,163.49 219.6,161.5 220.1,159.41 220.6,157.23 221.1,154.97 221.6,152.66 222.1,150.32 222.6,147.96 223.1,145.63 223.6,143.33 224.1,141.11 224.6,138.98 225.1,136.99 225.6,135.15 226.1,133.5 226.6,132.05 227.1,130.84 227.6,129.87 228.1,129.17 228.6,128.74 229.1,128.6 229.6,128.72 230.1,129.08 230.6,129.67 231.1,130.49 231.6,131.53 232.1,132.77 232.6,134.19 233.1,135.78 233.6,137.51 234.1,139.38 234.6,141.34 235.1,143.39 235.6,145.5 236.1,147.65 236.6,149.81 237.1,151.97 237.6,154.1 238.1,156.2 238.6,158.24 239.1,160.21 239.6,162.11 240.1,163.91 240.6,165.62 241.1,167.22 241.6,168.72 242.1,170.12 242.6,171.02 243.1,170.95 243.6,170.9 244.1,170.86 244.6,170.84 245.1,170.82 245.6,170.81 246.1,170.81 246.6,170.8 247.1,170.8 247.6,170.8 248.1,170.8 248.6,170.8 249.1,170.8 249.6,170.8 250.1,170.8 250.6,170.8 251.1,170.8 251.6,170.8 252.1,170.8 252.6,170.8 253.1,170.8 253.6,170.81 254.1,170.82 254.6,170.83 255.1,170.85 255.6,170.87 256.1,170.91 256.6,170.96 257.1,171.02 257.6,171.09 258.1,171.18 258.6,171.28 259.1,171.38 259.6,171.5 260.1,171.62 260.6,171.74 261.1,171.87 261.6,172 262.1,172.13 262.6,172.26 263.1,172.39 263.6,172.52 264.1,172.65 264.6,172.78 265.1,172.91 265.6,173.04 266.1,173.17 266.6,173.3 267.1,173.43 267.6,173.56 268.1,173.69 268.6,173.82 269.1,173.95 269.6,174.08 270.1,174.21 270.6,174.34 271.1,174.47 271.6,174.6 272.1,174.73 272.6,174.86 273.1,174.99 273.6,175.12 274.1,175.25 274.6,175.38 275.1,175.51 275.6,175.64 276.1,175.77 276.6,175.9 277.1,176.03 277.6,176.16 278.1,176.29 278.6,176.42 279.1,176.55 279.6,176.68 280.1,176.81 280.6,176.94 281.1,177.07 281.6,177.2 282.1,177.33 282.6,177.46 283.1,177.59 283.6,177.72 284.1,177.85 284.6,177.98 285.1,178.11 285.6,178.24 286.1,178.37 286.6,178.5 287.1,178.63 287.6,178.75 288.1,178.88 288.6,179.01 289.1,179.13 289.6,179.25 290.1,179.36 290.6,179.46 291.1,179.56 291.6,179.64 292.1,179.71 292.6,179.76 292.6,181.4 292.1,181.4 291.6,181.4 291.1,181.4 290.6,181.4 290.1,181.4 289.6,181.4 289.1,181.4 288.6,181.4 288.1,181.4 287.6,181.4 287.1,181.4 286.6,181.4 286.1,181.4 285.6,181.4 285.1,181.4 284.6,181.4 284.1,181.4 283.6,181.4 283.1,181.4 282.6,181.4 282.1,181.4 281.6,181.4 281.1,181.4 280.6,181.4 280.1,181.4 279.6,181.4 279.1,181.4 278.6,181.4 278.1,181.4 277.6,181.4 277.1,181.4 276.6,181.4 276.1,181.4 275.6,181.4 275.1,181.4 274.6,181.4 274.1,181.4 273.6,181.4 273.1,181.4 272.6,181.4 272.1,181.4 271.6,181.4 271.1,181.4 270.6,181.4 270.1,181.4 269.6,181.4 269.1,181.4 268.6,181.4 268.1,181.4 267.6,181.4 267.1,181.4 266.6,181.4 266.1,181.4 265.6,181.4 265.1,181.4 264.6,181.4 264.1,181.4 263.6,181.4 263.1,181.4 262.6,181.4 262.1,181.4 261.6,181.4 261.1,181.4 260.6,181.39 260.1,181.39 259.6,181.39 259.1,181.39 258.6,181.38 258.1,181.38 257.6,181.37 257.1,181.36 256.6,181.35 256.1,181.33 255.6,181.31 255.1,181.29 254.6,181.26 254.1,181.22 253.6,181.18 253.1,181.13 252.6,181.06 252.1,180.98 251.6,180.88 251.1,180.76 250.6,180.62 250.1,180.46 249.6,180.26 249.1,180.03 248.6,179.76 248.1,179.45 247.6,179.08 247.1,178.66 246.6,178.18 246.1,177.63 245.6,177 245.1,176.3 244.6,175.51 244.1,174.63 243.6,173.66 243.1,172.58 242.6,171.4 242.1,170.12 241.6,168.72 241.1,167.22 240.6,165.62 240.1,163.91 239.6,162.11 239.1,160.21 238.6,158.24 238.1,156.2 237.6,154.1 237.1,151.97 236.6,149.81 236.1,147.65 235.6,145.5 235.1,143.39 234.6,141.34 234.1,139.38 233.6,137.51 233.1,135.78 232.6,134.19 232.1,132.77 231.6,131.53 231.1,130.49 230.6,129.67 230.1,129.08 229.6,128.72 229.1,128.6 228.6,128.74 228.1,129.17 227.6,129.87 227.1,130.84 226.6,132.05 226.1,133.5 225.6,135.15 225.1,136.99 224.6,138.98 224.1,141.11 223.6,143.33 223.1,145.63 222.6,147.96 222.1,150.32 221.6,152.66 221.1,154.97 220.6,157.23 220.1,159.41 219.6,161.5 219.1,163.49 218.6,165.37 218.1,167.13 217.6,168.76 217.1,170.27 216.6,171.65 216.1,172.91 215.6,174.04 215.1,175.06 214.6,175.96 214.1,176.77 213.6,177.47 213.1,178.09 212.6,178.62 212.1,179.08 211.6,179.47 211.1,179.81 210.6,180.1 210.1,180.34 209.6,180.54 209.1,180.7 208.6,180.84 208.1,180.95 207.6,181.04 207.1,181.12 206.6,181.18 206.1,181.23 205.6,181.27 205.1,181.3 204.6,181.32 204.1,181.34 203.6,181.35 203.1,181.36 202.6,181.37 202.1,181.38 201.6,181.39 201.1,181.39 200.6,181.39 200.1,181.39 199.6,181.4 199.1,181.4 198.6,181.4 198.1,181.4 197.6,181.4 197.1,181.4 196.6,181.4 196.1,181.4 195.6,181.4 195.1,181.4 194.6,181.4 194.1,181.4 193.6,181.4 193.1,181.4 192.6,181.4 192.1,181.4 191.6,181.4 191.1,181.4 190.6,181.4 190.1,181.4 189.6,181.4 189.1,181.4 188.6,181.4 188.1,181.4 187.6,181.4 187.1,181.4 186.6,181.4 186.1,181.4 185.6,181.4 185.1,181.4 184.6,181.4 184.1,181.4 183.6,181.4 183.1,181.4 182.6,181.4 182.1,181.4 181.6,181.4 181.1,181.4 180.6,181.4 180.1,181.4" fill="url(#hb)"/>
<polygon points="180.1,181.4 180.6,181.4 181.1,181.4 181.6,181.4 182.1,181.4 182.6,181.4 183.1,181.4 183.6,181.4 184.1,181.4 184.6,181.4 185.1,181.4 185.6,181.4 186.1,181.4 186.6,181.4 187.1,181.4 187.6,181.4 188.1,181.4 188.6,181.4 189.1,181.4 189.6,181.4 190.1,181.4 190.6,181.4 191.1,181.4 191.6,181.4 192.1,181.4 192.6,181.4 193.1,181.4 193.6,181.4 194.1,181.4 194.6,181.4 195.1,181.4 195.6,181.4 196.1,181.4 196.6,181.4 197.1,181.4 197.6,181.4 198.1,181.4 198.6,181.4 199.1,181.4 199.6,181.4 200.1,181.39 200.6,181.39 201.1,181.39 201.6,181.39 202.1,181.38 202.6,181.37 203.1,181.36 203.6,181.35 204.1,181.34 204.6,181.32 205.1,181.3 205.6,181.27 206.1,181.23 206.6,181.18 207.1,181.12 207.6,181.04 208.1,180.95 208.6,180.84 209.1,180.7 209.6,180.54 210.1,180.34 210.6,180.1 211.1,179.81 211.6,179.47 212.1,179.08 212.6,178.62 213.1,178.09 213.6,177.47 214.1,176.77 214.6,175.96 215.1,175.06 215.6,174.04 216.1,172.91 216.6,171.65 217.1,170.27 217.6,168.76 218.1,167.13 218.6,165.37 219.1,163.49 219.6,161.5 220.1,159.41 220.6,157.23 221.1,154.97 221.6,152.66 222.1,150.32 222.6,147.96 223.1,145.63 223.6,143.33 224.1,141.11 224.6,138.98 225.1,136.99 225.6,135.15 226.1,133.5 226.6,132.05 227.1,130.84 227.6,129.87 228.1,129.17 228.6,128.74 229.1,128.6 229.6,128.72 230.1,129.08 230.6,129.67 231.1,130.49 231.6,131.53 232.1,132.77 232.6,134.19 233.1,135.78 233.6,137.51 234.1,139.38 234.6,141.34 235.1,143.39 235.6,145.5 236.1,147.65 236.6,149.81 237.1,151.97 237.6,154.1 238.1,156.2 238.6,158.24 239.1,160.21 239.6,162.11 240.1,163.91 240.6,165.62 241.1,167.22 241.6,168.72 242.1,170.12 242.6,171.4 243.1,172.58 243.6,173.66 244.1,174.63 244.6,175.51 245.1,176.3 245.6,177 246.1,177.63 246.6,178.18 247.1,178.66 247.6,179.08 248.1,179.45 248.6,179.76 249.1,180.03 249.6,180.26 250.1,180.46 250.6,180.62 251.1,180.76 251.6,180.88 252.1,180.98 252.6,181.06 253.1,181.13 253.6,181.18 254.1,181.22 254.6,181.26 255.1,181.29 255.6,181.31 256.1,181.33 256.6,181.35 257.1,181.36 257.6,181.37 258.1,181.38 258.6,181.38 259.1,181.39 259.6,181.39 260.1,181.39 260.6,181.39 261.1,181.4 261.6,181.4 262.1,181.4 262.6,181.4 263.1,181.4 263.6,181.4 264.1,181.4 264.6,181.4 265.1,181.4 265.6,181.4 266.1,181.4 266.6,181.4 267.1,181.4 267.6,181.4 268.1,181.4 268.6,181.4 269.1,181.4 269.6,181.4 270.1,181.4 270.6,181.4 271.1,181.4 271.6,181.4 272.1,181.4 272.6,181.4 273.1,181.4 273.6,181.4 274.1,181.4 274.6,181.4 275.1,181.4 275.6,181.4 276.1,181.4 276.6,181.4 277.1,181.4 277.6,181.4 278.1,181.4 278.6,181.4 279.1,181.4 279.6,181.4 280.1,181.4 280.6,181.4 281.1,181.4 281.6,181.4 282.1,181.4 282.6,181.4 283.1,181.4 283.6,181.4 284.1,181.4 284.6,181.4 285.1,181.4 285.6,181.4 286.1,181.4 286.6,181.4 287.1,181.4 287.6,181.4 288.1,181.4 288.6,181.4 289.1,181.4 289.6,181.4 290.1,181.4 290.6,181.4 291.1,181.4 291.6,181.4 292.1,181.4 292.6,181.4 292.6,181.4 180.1,181.4" fill="#f00"/>
<polygon points="180.1,181.4 180.6,181.4 181.1,181.4 181.6,181.4 182.1,181.4 182.6,181.4 183.1,181.4 183.6,181.4 184.1,181.4 184.6,181.4 185.1,181.4 185.6,181.4 186.1,181.4 186.6,181.4 187.1,181.4 187.6,181.4 188.1,181.4 188.6,181.4 189.1,181.4 189.6,181.4 190.1,181.4 190.6,181.4 191.1,181.4 191.6,181.4 192.1,181.4 192.6,181.4 193.1,181.4 193.6,181.4 194.1,181.4 194.6,181.4 195.1,181.4 195.6,181.4 196.1,181.4 196.6,181.4 197.1,181.4 197.6,181.4 198.1,181.4 198.6,181.4 199.1,181.4 199.6,181.4 200.1,181.4 200.6,181.4 201.1,181.4 201.6,181.4 202.1,181.4 202.6,181.4 203.1,181.4 203.6,181.4 204.1,181.4 204.6,181.4 205.1,181.4 205.6,181.4 206.1,181.4 206.6,181.4 207.1,181.4 207.6,181.4 208.1,181.4 208.6,181.4 209.1,181.4 209.6,181.4 210.1,181.4 210.6,181.4 211.1,181.4 211.6,181.4 212.1,181.4 212.6,181.4 213.1,181.39 213.6,181.39 214.1,181.37 214.6,181.35 215.1,181.32 215.6,181.28 216.1,181.22 216.6,181.14 217.1,181.04 217.6,180.92 218.1,180.78 218.6,180.62 219.1,180.45 219.6,180.26 220.1,180.07 220.6,179.86 221.1,179.66 221.6,179.45 222.1,179.24 222.6,179.03 223.1,178.81 223.6,178.6 224.1,178.39 224.6,178.18 225.1,177.97 225.6,177.75 226.1,177.54 226.6,177.33 227.1,177.12 227.6,176.91 228.1,176.69 228.6,176.48 229.1,176.27 229.6,176.06 230.1,175.85 230.6,175.63 231.1,175.42 231.6,175.21 232.1,175 232.6,174.79 233.1,174.57 233.6,174.36 234.1,174.15 234.6,173.94 235.1,173.73 235.6,173.51 236.1,173.3 236.6,173.09 237.1,172.88 237.6,172.67 238.1,172.46 238.6,172.26 239.1,172.06 239.6,171.86 240.1,171.68 240.6,171.51 241.1,171.36 241.6,171.23 242.1,171.12 242.6,171.4 243.1,172.58 243.6,173.66 244.1,174.63 244.6,175.51 245.1,176.3 245.6,177 246.1,177.63 246.6,178.18 247.1,178.66 247.6,179.08 248.1,179.45 248.6,179.76 249.1,180.03 249.6,180.26 250.1,180.46 250.6,180.62 251.1,180.76 251.6,180.88 252.1,180.98 252.6,181.06 253.1,181.13 253.6,181.18 254.1,181.22 254.6,181.26 255.1,181.29 255.6,181.31 256.1,181.33 256.6,181.35 257.1,181.36 257.6,181.37 258.1,181.38 258.6,181.38 259.1,181.39 259.6,181.39 260.1,181.39 260.6,181.39 261.1,181.4 261.6,181.4 262.1,181.4 262.6,181.4 263.1,181.4 263.6,181.4 264.1,181.4 264.6,181.4 265.1,181.4 265.6,181.4 266.1,181.4 266.6,181.4 267.1,181.4 267.6,181.4 268.1,181.4 268.6,181.4 269.1,181.4 269.6,181.4 270.1,181.4 270.6,181.4 271.1,181.4 271.6,181.4 272.1,181.4 272.6,181.4 273.1,181.4 273.6,181.4 274.1,181.4 274.6,181.4 275.1,181.4 275.6,181.4 276.1,181.4 276.6,181.4 277.1,181.4 277.6,181.4 278.1,181.4 278.6,181.4 279.1,181.4 279.6,181.4 280.1,181.4 280.6,181.4 281.1,181.4 281.6,181.4 282.1,181.4 282.6,181.4 283.1,181.4 283.6,181.4 284.1,181.4 284.6,181.4 285.1,181.4 285.6,181.4 286.1,181.4 286.6,181.4 287.1,181.4 287.6,181.4 288.1,181.4 288.6,181.4 289.1,181.4 289.6,181.4 290.1,181.4 290.6,181.4 291.1,181.4 291.6,181.4 292.1,181.4 292.6,181.4 292.6,181.4 180.1,181.4" fill="url(#hk)"/>
<polyline points="215.1,181.32 215.6,181.28 216.1,181.22 216.6,181.14 217.1,181.04 217.6,180.92 218.1,180.78 218.6,180.62 219.1,180.45 219.6,180.26 220.1,180.07 220.6,179.86 221.1,179.66 221.6,179.45 222.1,179.24 222.6,179.03 223.1,178.81 223.6,178.6 224.1,178.39 224.6,178.18 225.1,177.97 225.6,177.75 226.1,177.54 226.6,177.33 227.1,177.12 227.6,176.91 228.1,176.69 228.6,176.48 229.1,176.27 229.6,176.06 230.1,175.85 230.6,175.63 231.1,175.42 231.6,175.21 232.1,175 232.6,174.79 233.1,174.57 233.6,174.36 234.1,174.15 234.6,173.94 235.1,173.73 235.6,173.51 236.1,173.3 236.6,173.09 237.1,172.88 237.6,172.67 238.1,172.46 238.6,172.26 239.1,172.06 239.6,171.86 240.1,171.68 240.6,171.51 241.1,171.36 241.6,171.23 242.1,171.12 242.6,171.02" fill="none" stroke="#400" stroke-width="0.55"/>
<polyline points="242.6,171.02 243.1,170.95 243.6,170.9 244.1,170.86 244.6,170.84 245.1,170.82 245.6,170.81 246.1,170.81 246.6,170.8 247.1,170.8 247.6,170.8 248.1,170.8 248.6,170.8 249.1,170.8 249.6,170.8 250.1,170.8 250.6,170.8 251.1,170.8 251.6,170.8 252.1,170.8 252.6,170.8 253.1,170.8 253.6,170.81 254.1,170.82 254.6,170.83 255.1,170.85 255.6,170.87 256.1,170.91 256.6,170.96 257.1,171.02 257.6,171.09 258.1,171.18 258.6,171.28 259.1,171.38 259.6,171.5 260.1,171.62 260.6,171.74 261.1,171.87 261.6,172 262.1,172.13 262.6,172.26 263.1,172.39 263.6,172.52 264.1,172.65 264.6,172.78 265.1,172.91 265.6,173.04 266.1,173.17 266.6,173.3 267.1,173.43 267.6,173.56 268.1,173.69 268.6,173.82 269.1,173.95 269.6,174.08 270.1,174.21 270.6,174.34 271.1,174.47 271.6,174.6 272.1,174.73 272.6,174.86 273.1,174.99 273.6,175.12 274.1,175.25 274.6,175.38 275.1,175.51 275.6,175.64 276.1,175.77 276.6,175.9 277.1,176.03 277.6,176.16 278.1,176.29 278.6,176.42 279.1,176.55 279.6,176.68 280.1,176.81 280.6,176.94 281.1,177.07 281.6,177.2 282.1,177.33 282.6,177.46 283.1,177.59 283.6,177.72 284.1,177.85 284.6,177.98 285.1,178.11 285.6,178.24 286.1,178.37 286.6,178.5 287.1,178.63 287.6,178.75 288.1,178.88 288.6,179.01 289.1,179.13 289.6,179.25 290.1,179.36 290.6,179.46 291.1,179.56 291.6,179.64 292.1,179.71 292.6,179.76" fill="none" stroke="#336" stroke-width="0.55"/>
<polyline points="204.6,181.32 205.1,181.3 205.6,181.27 206.1,181.23 206.6,181.18 207.1,181.12 207.6,181.04 208.1,180.95 208.6,180.84 209.1,180.7 209.6,180.54 210.1,180.34 210.6,180.1 211.1,179.81 211.6,179.47 212.1,179.08 212.6,178.62 213.1,178.09 213.6,177.47 214.1,176.77 214.6,175.96 215.1,175.06 215.6,174.04 216.1,172.91 216.6,171.65 217.1,170.27 217.6,168.76 218.1,167.13 218.6,165.37 219.1,163.49 219.6,161.5 220.1,159.41 220.6,157.23 221.1,154.97 221.6,152.66 222.1,150.32 222.6,147.96 223.1,145.63 223.6,143.33 224.1,141.11 224.6,138.98 225.1,136.99 225.6,135.15 226.1,133.5 226.6,132.05 227.1,130.84 227.6,129.87 228.1,129.17 228.6,128.74 229.1,128.6 229.6,128.72 230.1,129.08 230.6,129.67 231.1,130.49 231.6,131.53 232.1,132.77 232.6,134.19 233.1,135.78 233.6,137.51 234.1,139.38 234.6,141.34 235.1,143.39 235.6,145.5 236.1,147.65 236.6,149.81 237.1,151.97 237.6,154.1 238.1,156.2 238.6,158.24 239.1,160.21 239.6,162.11 240.1,163.91 240.6,165.62 241.1,167.22 241.6,168.72 242.1,170.12 242.6,171.4 243.1,172.58 243.6,173.66 244.1,174.63 244.6,175.51 245.1,176.3 245.6,177 246.1,177.63 246.6,178.18 247.1,178.66 247.6,179.08 248.1,179.45 248.6,179.76 249.1,180.03 249.6,180.26 250.1,180.46 250.6,180.62 251.1,180.76 251.6,180.88 252.1,180.98 252.6,181.06 253.1,181.13 253.6,181.18 254.1,181.22 254.6,181.26 255.1,181.29 255.6,181.31" fill="none" stroke="#300" stroke-width="0.5"/>
<path d="M200,181.3 C201.33,181.25 205.97,181.38 208,181 C210.03,180.62 210.95,180.33 212.2,179 C213.45,177.67 214.5,175.5 215.5,173 C216.5,170.5 217.32,166.75 218.2,164 C219.08,161.25 219.98,159.58 220.8,156.5 C221.62,153.42 222.43,148.75 223.1,145.5 C223.77,142.25 224.27,139.42 224.8,137 C225.33,134.58 225.87,133.08 226.3,131 C226.73,128.92 227.02,126.03 227.4,124.5 C227.78,122.97 228.08,122.32 228.6,121.8 C229.12,121.28 229.87,121.38 230.5,121.4 C231.13,121.42 231.92,121.3 232.4,121.9 C232.88,122.5 233.1,123.48 233.4,125 C233.7,126.52 233.88,129 234.2,131 C234.52,133 234.62,134.27 235.3,137 C235.98,139.73 237.5,144.15 238.3,147.4 C239.1,150.65 239.57,153.98 240.1,156.5 C240.63,159.02 240.75,160.82 241.5,162.5 C242.25,164.18 243.17,165.45 244.6,166.6 C246.03,167.75 248.03,168.77 250.1,169.4 C252.17,170.03 254.47,170 257,170.4 C259.53,170.8 262.55,171.1 265.3,171.8 C268.05,172.5 270.75,173.67 273.5,174.6 C276.25,175.53 278.82,176.53 281.8,177.4 C284.78,178.27 289.6,179.15 291.4,179.8 C293.2,180.45 292.4,181.05 292.6,181.3" fill="none" stroke="#444" stroke-width="0.8"/>
<path d="M200,181.3 C201.33,181.25 205.97,181.38 208,181 C210.03,180.62 210.95,180.33 212.2,179 C213.45,177.67 214.5,175.5 215.5,173 C216.5,170.5 217.32,166.75 218.2,164 C219.08,161.25 219.98,159.58 220.8,156.5 C221.62,153.42 222.33,149.17 223.1,145.5 C223.87,141.83 224.72,137.37 225.4,134.5 C226.08,131.63 226.63,129.57 227.2,128.3 C227.77,127.03 228.28,126.88 228.8,126.9 C229.32,126.92 229.78,127.58 230.3,128.4 C230.82,129.22 231.18,129.72 231.9,131.8 C232.62,133.88 233.68,137.7 234.6,140.9 C235.52,144.1 236.63,148.15 237.4,151 C238.17,153.85 238.57,155.87 239.2,158 C239.83,160.13 240.3,162.15 241.2,163.8 C242.1,165.45 243.12,166.88 244.6,167.9 C246.08,168.92 248.03,169.45 250.1,169.9 C252.17,170.35 254.47,170.28 257,170.6 C259.53,170.92 262.55,171.13 265.3,171.8 C268.05,172.47 270.75,173.67 273.5,174.6 C276.25,175.53 278.82,176.53 281.8,177.4 C284.78,178.27 289.6,179.15 291.4,179.8 C293.2,180.45 292.4,181.05 292.6,181.3" fill="none" stroke="#111" stroke-width="0.9"/>
<line x1="180.1" y1="111.6" x2="180.1" y2="184.9" stroke="#111" stroke-width="1.1"/>
<line x1="176.6" y1="181.4" x2="292.7" y2="181.4" stroke="#111" stroke-width="1.1"/>
<line x1="178.3" y1="178.61" x2="180.1" y2="178.61" stroke="#111" stroke-width="0.8"/>
<line x1="178.3" y1="175.82" x2="180.1" y2="175.82" stroke="#111" stroke-width="0.8"/>
<line x1="178.3" y1="173.02" x2="180.1" y2="173.02" stroke="#111" stroke-width="0.8"/>
<line x1="178.3" y1="170.23" x2="180.1" y2="170.23" stroke="#111" stroke-width="0.8"/>
<line x1="176.3" y1="167.44" x2="180.1" y2="167.44" stroke="#111" stroke-width="0.8"/>
<line x1="178.3" y1="164.65" x2="180.1" y2="164.65" stroke="#111" stroke-width="0.8"/>
<line x1="178.3" y1="161.86" x2="180.1" y2="161.86" stroke="#111" stroke-width="0.8"/>
<line x1="178.3" y1="159.06" x2="180.1" y2="159.06" stroke="#111" stroke-width="0.8"/>
<line x1="178.3" y1="156.27" x2="180.1" y2="156.27" stroke="#111" stroke-width="0.8"/>
<line x1="176.3" y1="153.48" x2="180.1" y2="153.48" stroke="#111" stroke-width="0.8"/>
<line x1="178.3" y1="150.69" x2="180.1" y2="150.69" stroke="#111" stroke-width="0.8"/>
<line x1="178.3" y1="147.9" x2="180.1" y2="147.9" stroke="#111" stroke-width="0.8"/>
<line x1="178.3" y1="145.1" x2="180.1" y2="145.1" stroke="#111" stroke-width="0.8"/>
<line x1="178.3" y1="142.31" x2="180.1" y2="142.31" stroke="#111" stroke-width="0.8"/>
<line x1="176.3" y1="139.52" x2="180.1" y2="139.52" stroke="#111" stroke-width="0.8"/>
<line x1="178.3" y1="136.73" x2="180.1" y2="136.73" stroke="#111" stroke-width="0.8"/>
<line x1="178.3" y1="133.94" x2="180.1" y2="133.94" stroke="#111" stroke-width="0.8"/>
<line x1="178.3" y1="131.14" x2="180.1" y2="131.14" stroke="#111" stroke-width="0.8"/>
<line x1="178.3" y1="128.35" x2="180.1" y2="128.35" stroke="#111" stroke-width="0.8"/>
<line x1="176.3" y1="125.56" x2="180.1" y2="125.56" stroke="#111" stroke-width="0.8"/>
<line x1="178.3" y1="122.77" x2="180.1" y2="122.77" stroke="#111" stroke-width="0.8"/>
<line x1="178.3" y1="119.98" x2="180.1" y2="119.98" stroke="#111" stroke-width="0.8"/>
<line x1="178.3" y1="117.18" x2="180.1" y2="117.18" stroke="#111" stroke-width="0.8"/>
<line x1="178.3" y1="114.39" x2="180.1" y2="114.39" stroke="#111" stroke-width="0.8"/>
<line x1="183.23" y1="181.4" x2="183.23" y2="183" stroke="#111" stroke-width="0.8"/>
<line x1="186.36" y1="181.4" x2="186.36" y2="183" stroke="#111" stroke-width="0.8"/>
<line x1="189.48" y1="181.4" x2="189.48" y2="183" stroke="#111" stroke-width="0.8"/>
<line x1="192.61" y1="181.4" x2="192.61" y2="183" stroke="#111" stroke-width="0.8"/>
<line x1="195.74" y1="181.4" x2="195.74" y2="183" stroke="#111" stroke-width="0.8"/>
<line x1="198.87" y1="181.4" x2="198.87" y2="185.2" stroke="#111" stroke-width="0.8"/>
<line x1="201.99" y1="181.4" x2="201.99" y2="183" stroke="#111" stroke-width="0.8"/>
<line x1="205.12" y1="181.4" x2="205.12" y2="183" stroke="#111" stroke-width="0.8"/>
<line x1="208.25" y1="181.4" x2="208.25" y2="183" stroke="#111" stroke-width="0.8"/>
<line x1="211.38" y1="181.4" x2="211.38" y2="183" stroke="#111" stroke-width="0.8"/>
<line x1="214.51" y1="181.4" x2="214.51" y2="183" stroke="#111" stroke-width="0.8"/>
<line x1="217.63" y1="181.4" x2="217.63" y2="185.2" stroke="#111" stroke-width="0.8"/>
<line x1="220.76" y1="181.4" x2="220.76" y2="183" stroke="#111" stroke-width="0.8"/>
<line x1="223.89" y1="181.4" x2="223.89" y2="183" stroke="#111" stroke-width="0.8"/>
<line x1="227.02" y1="181.4" x2="227.02" y2="183" stroke="#111" stroke-width="0.8"/>
<line x1="230.14" y1="181.4" x2="230.14" y2="183" stroke="#111" stroke-width="0.8"/>
<line x1="233.27" y1="181.4" x2="233.27" y2="183" stroke="#111" stroke-width="0.8"/>
<line x1="236.4" y1="181.4" x2="236.4" y2="185.2" stroke="#111" stroke-width="0.8"/>
<line x1="239.53" y1="181.4" x2="239.53" y2="183" stroke="#111" stroke-width="0.8"/>
<line x1="242.66" y1="181.4" x2="242.66" y2="183" stroke="#111" stroke-width="0.8"/>
<line x1="245.78" y1="181.4" x2="245.78" y2="183" stroke="#111" stroke-width="0.8"/>
<line x1="248.91" y1="181.4" x2="248.91" y2="183" stroke="#111" stroke-width="0.8"/>
<line x1="252.04" y1="181.4" x2="252.04" y2="183" stroke="#111" stroke-width="0.8"/>
<line x1="255.17" y1="181.4" x2="255.17" y2="185.2" stroke="#111" stroke-width="0.8"/>
<line x1="258.29" y1="181.4" x2="258.29" y2="183" stroke="#111" stroke-width="0.8"/>
<line x1="261.42" y1="181.4" x2="261.42" y2="183" stroke="#111" stroke-width="0.8"/>
<line x1="264.55" y1="181.4" x2="264.55" y2="183" stroke="#111" stroke-width="0.8"/>
<line x1="267.68" y1="181.4" x2="267.68" y2="183" stroke="#111" stroke-width="0.8"/>
<line x1="270.81" y1="181.4" x2="270.81" y2="183" stroke="#111" stroke-width="0.8"/>
<line x1="273.93" y1="181.4" x2="273.93" y2="185.2" stroke="#111" stroke-width="0.8"/>
<line x1="277.06" y1="181.4" x2="277.06" y2="183" stroke="#111" stroke-width="0.8"/>
<line x1="280.19" y1="181.4" x2="280.19" y2="183" stroke="#111" stroke-width="0.8"/>
<line x1="283.32" y1="181.4" x2="283.32" y2="183" stroke="#111" stroke-width="0.8"/>
<line x1="286.44" y1="181.4" x2="286.44" y2="183" stroke="#111" stroke-width="0.8"/>
<line x1="289.57" y1="181.4" x2="289.57" y2="183" stroke="#111" stroke-width="0.8"/>
<line x1="292.7" y1="181.4" x2="292.7" y2="185.2" stroke="#111" stroke-width="0.8"/>
<text x="174.5" y="181.4" class="tl" text-anchor="middle" transform="rotate(-90 174.5 181.4)">0</text>
<text x="174.5" y="167.44" class="tl" text-anchor="middle" transform="rotate(-90 174.5 167.44)">50</text>
<text x="174.5" y="153.48" class="tl" text-anchor="middle" transform="rotate(-90 174.5 153.48)">100</text>
<text x="174.5" y="139.52" class="tl" text-anchor="middle" transform="rotate(-90 174.5 139.52)">150</text>
<text x="174.5" y="125.56" class="tl" text-anchor="middle" transform="rotate(-90 174.5 125.56)">200</text>
<text x="181" y="186" class="tl" transform="rotate(-90 181 186)" text-anchor="end">0</text>
<text x="199.77" y="186" class="tl" transform="rotate(-90 199.77 186)" text-anchor="end">20</text>
<text x="218.53" y="186" class="tl" transform="rotate(-90 218.53 186)" text-anchor="end">40</text>
<text x="237.3" y="186" class="tl" transform="rotate(-90 237.3 186)" text-anchor="end">60</text>
<text x="256.07" y="186" class="tl" transform="rotate(-90 256.07 186)" text-anchor="end">80</text>
<text x="274.83" y="186" class="tl" transform="rotate(-90 274.83 186)" text-anchor="end">100</text>
<text x="293.6" y="186" class="tl" transform="rotate(-90 293.6 186)" text-anchor="end">120</text>
<line x1="15.7" y1="20" x2="15.7" y2="181.8" stroke="#111" stroke-width="1.6"/>
<polygon points="15.7,14.6 12.3,21.2 19.2,21.2" fill="#111"/>
<line x1="42" y1="196.5" x2="421" y2="196.5" stroke="#111" stroke-width="1.6"/>
<polygon points="426.4,196.5 419.8,193.2 419.8,199.8" fill="#111"/>
<text x="93.2" y="11.8" class="ti" text-anchor="middle" textLength="42.5" lengthAdjust="spacingAndGlyphs">control</text>
<text x="231.25" y="11.9" class="ti" text-anchor="middle" textLength="63" lengthAdjust="spacingAndGlyphs">DHA 25μM</text>
<text x="370.85" y="12.4" class="ti" text-anchor="middle" textLength="63" lengthAdjust="spacingAndGlyphs">DHA 50μM</text>
<text x="105.65" y="107.4" class="ti" text-anchor="middle" textLength="70.7" lengthAdjust="spacingAndGlyphs">DHA 100μM</text>
<text x="234.45" y="107.4" class="ti" text-anchor="middle" textLength="70.7" lengthAdjust="spacingAndGlyphs">DHA 150μM</text>
<text x="12" y="105.3" class="ax" text-anchor="middle" transform="rotate(-90 12 105.3)">Count</text>
<text x="233" y="210.4" class="ax" text-anchor="middle">PI</text>
<text x="19.5" y="237.9" class="dl" text-anchor="start" textLength="22.3" lengthAdjust="spacingAndGlyphs">(D)</text>
<text x="121.4" y="257" class="wl" text-anchor="middle" style="font-size:10.5px">DHA (μM)</text>
<text x="183.4" y="257.4" class="ln" text-anchor="middle">0</text>
<text x="206" y="257.4" class="ln" text-anchor="middle">25</text>
<text x="230.9" y="257.4" class="ln" text-anchor="middle">50</text>
<text x="252.9" y="257.4" class="ln" text-anchor="middle">100</text>
<text x="278.25" y="257.4" class="ln" text-anchor="middle">150</text>
<text x="121.4" y="273.9" class="wl" text-anchor="middle" style="font-size:9.4px">p-Rb (S795)</text>
<rect x="172.8" y="263.8" width="114.6" height="12.3" fill="#f8f8f8" stroke="#111" stroke-width="1.3"/>
<g filter="url(#bl)">
<rect x="175" y="268" width="17" height="3.8" rx="1.52" fill="#000000"/>
<rect x="197.9" y="268" width="16.1" height="3.8" rx="1.52" fill="#1c1c1c"/>
<rect x="220.4" y="268" width="17.4" height="3.8" rx="1.52" fill="#767676"/>
<rect x="242.7" y="268" width="17.6" height="3.8" rx="1.52" fill="#d8d8d8"/>
<rect x="265" y="268" width="15" height="3.8" rx="1.52" fill="#e4e4e4"/>
</g>
<text x="121.4" y="318.5" class="wl" text-anchor="middle" style="font-size:9.6px">Rb</text>
<rect x="172.8" y="306.6" width="114.6" height="12.7" fill="#ededed" stroke="#111" stroke-width="1.3"/>
<g filter="url(#bl)">
<rect x="176.9" y="312.7" width="16.5" height="2.2" rx="0.88" fill="#232323"/>
<rect x="198.9" y="312.7" width="15.2" height="2.2" rx="0.88" fill="#232323"/>
<rect x="222.3" y="312.7" width="15.2" height="2.2" rx="0.88" fill="#2f2f2f"/>
<rect x="244.4" y="312.7" width="16.5" height="2.2" rx="0.88" fill="#0c0c0c"/>
<rect x="267.8" y="312.7" width="16.5" height="2.2" rx="0.88" fill="#171717"/>
</g>
<text x="121.4" y="335.3" class="wl" text-anchor="middle" style="font-size:9.3px">Cyclin D1</text>
<rect x="172.8" y="324.9" width="114.6" height="12.5" fill="#f0f0f0" stroke="#111" stroke-width="1.3"/>
<g filter="url(#bl)">
<rect x="176.9" y="329.95" width="15.6" height="2.5" rx="1" fill="#0c0c0c"/>
<rect x="199.8" y="329.95" width="15.7" height="2.5" rx="1" fill="#999999"/>
<rect x="222.3" y="329.95" width="15.2" height="2.5" rx="1" fill="#a4a4a4"/>
<rect x="244.4" y="329.95" width="15.1" height="2.5" rx="1" fill="#474747"/>
<rect x="266.4" y="329.95" width="17.9" height="2.5" rx="1" fill="#999999"/>
</g>
<text x="121.4" y="378.9" class="wl" text-anchor="middle" style="font-size:9.4px">Cyclin E</text>
<rect x="172.8" y="368.4" width="114.6" height="12.9" fill="#ebebeb" stroke="#111" stroke-width="1.3"/>
<g filter="url(#bl)">
<rect x="175.2" y="374.2" width="15.3" height="2.8" rx="1.12" fill="#000000"/>
<rect x="199" y="374.2" width="15" height="2.8" rx="1.12" fill="#d4d4d4"/>
<rect x="221.5" y="374.2" width="15.5" height="2.8" rx="1.12" fill="#d4d4d4"/>
<rect x="244" y="374.2" width="15.5" height="2.8" rx="1.12" fill="#e4e4e4"/>
<rect x="266.5" y="374.2" width="16.5" height="2.8" rx="1.12" fill="#e4e4e4"/>
</g>
<text x="121.4" y="422.3" class="wl" text-anchor="middle" style="font-size:9.6px">Cyclin A</text>
<rect x="172.8" y="413" width="114.6" height="12.9" fill="#f2f2f2" stroke="#111" stroke-width="1.3"/>
<g filter="url(#bl)">
<rect x="176.9" y="419.25" width="17.9" height="3.1" rx="1.24" fill="#000000"/>
<rect x="198.9" y="419.25" width="15.2" height="3.1" rx="1.24" fill="#171717"/>
<rect x="221" y="419.25" width="15" height="3.1" rx="1.24" fill="#818181"/>
<rect x="241.6" y="419.25" width="15.2" height="3.1" rx="1.24" fill="#767676"/>
<rect x="262.3" y="419.25" width="21.7" height="3.1" rx="1.24" fill="#999999"/>
</g>
<text x="121.4" y="467.4" class="wl" text-anchor="middle" style="font-size:9px">E2F1</text>
<rect x="172.8" y="455.4" width="114.6" height="12.4" fill="#ededed" stroke="#111" stroke-width="1.3"/>
<g filter="url(#bl)">
<rect x="178.3" y="460.45" width="15.1" height="2.3" rx="0.92" fill="#0c0c0c"/>
<rect x="198.9" y="460.45" width="15.2" height="2.3" rx="0.92" fill="#2f2f2f"/>
<rect x="221" y="460.45" width="15" height="2.3" rx="0.92" fill="#0c0c0c"/>
<rect x="243" y="460.45" width="15.2" height="2.3" rx="0.92" fill="#999999"/>
<rect x="263.7" y="460.45" width="19.2" height="2.3" rx="0.92" fill="#6a6a6a"/>
</g>
<text x="121.4" y="507" class="wl" text-anchor="middle" style="font-size:9.3px">c-Myc</text>
<rect x="172.8" y="494.5" width="114.6" height="12.3" fill="#f2f2f2" stroke="#111" stroke-width="1.3"/>
<g filter="url(#bl)">
<rect x="175.5" y="499.3" width="15.2" height="2.2" rx="0.88" fill="#171717"/>
<rect x="197.5" y="499.3" width="15.2" height="2.2" rx="0.88" fill="#232323"/>
<rect x="219.6" y="499.3" width="15.1" height="2.2" rx="0.88" fill="#232323"/>
<rect x="243" y="499.3" width="15.2" height="2.2" rx="0.88" fill="#818181"/>
<rect x="265" y="499.3" width="17.9" height="2.2" rx="0.88" fill="#999999"/>
</g>
<text x="121.4" y="544.6" class="wl" text-anchor="middle" style="font-size:9.4px">laminA</text>
<rect x="172.8" y="534.8" width="114.6" height="12.6" fill="#ececec" stroke="#111" stroke-width="1.3"/>
<g filter="url(#bl)">
<rect x="175.5" y="540.7" width="16.5" height="2.4" rx="0.96" fill="#767676"/>
<rect x="198.9" y="540.7" width="15.2" height="2.4" rx="0.96" fill="#6a6a6a"/>
<rect x="221" y="540.7" width="16.5" height="2.4" rx="0.96" fill="#000000"/>
<rect x="243" y="540.7" width="16.5" height="2.4" rx="0.96" fill="#2f2f2f"/>
<rect x="265" y="540.7" width="17.9" height="2.4" rx="0.96" fill="#6a6a6a"/>
</g>
<text x="181.8" y="289.9" class="rt" text-anchor="start">1.0</text>
<text x="204" y="289.9" class="rt" text-anchor="start">0.8</text>
<text x="226.5" y="289.9" class="rt" text-anchor="start">0.6</text>
<text x="248.4" y="289.9" class="rt" text-anchor="start">0.3</text>
<text x="271.6" y="289.9" class="rt" text-anchor="start">0.1</text>
<text x="179.8" y="300.4" class="pr" text-anchor="start">(0.0)</text>
<text x="204.6" y="300.4" class="pr" text-anchor="start">(0.1)</text>
<text x="222.6" y="300.4" class="pr" text-anchor="start">(0.1)</text>
<text x="248" y="300.4" class="pr" text-anchor="start">(0.3)</text>
<text x="272.5" y="300.4" class="pr" text-anchor="start">(0.2)</text>
<text x="181.8" y="351.1" class="rt" text-anchor="start">1.0</text>
<text x="204" y="351.1" class="rt" text-anchor="start">0.5</text>
<text x="226.5" y="351.1" class="rt" text-anchor="start">0.4</text>
<text x="248.4" y="351.1" class="rt" text-anchor="start">0.6</text>
<text x="271.6" y="351.1" class="rt" text-anchor="start">0.2</text>
<text x="179.8" y="361.2" class="pr" text-anchor="start">(0.0)</text>
<text x="204.6" y="361.2" class="pr" text-anchor="start">(0.4)</text>
<text x="222.6" y="361.2" class="pr" text-anchor="start">(0.5)</text>
<text x="248" y="361.2" class="pr" text-anchor="start">(0.2)</text>
<text x="272.5" y="361.2" class="pr" text-anchor="start">(0.3)</text>
<text x="181.8" y="394.9" class="rt" text-anchor="start">1.0</text>
<text x="204" y="394.9" class="rt" text-anchor="start">0.3</text>
<text x="226.5" y="394.9" class="rt" text-anchor="start">0.3</text>
<text x="248.4" y="394.9" class="rt" text-anchor="start">0.1</text>
<text x="271.6" y="394.9" class="rt" text-anchor="start">0.1</text>
<text x="179.8" y="405.5" class="pr" text-anchor="start">(0.0)</text>
<text x="204.6" y="405.5" class="pr" text-anchor="start">(0.3)</text>
<text x="222.6" y="405.5" class="pr" text-anchor="start">(0.2)</text>
<text x="248" y="405.5" class="pr" text-anchor="start">(0.3)</text>
<text x="272.5" y="405.5" class="pr" text-anchor="start">(0.3)</text>
<text x="181.8" y="438.8" class="rt" text-anchor="start">1.0</text>
<text x="204" y="438.8" class="rt" text-anchor="start">0.8</text>
<text x="226.5" y="438.8" class="rt" text-anchor="start">0.5</text>
<text x="248.4" y="438.8" class="rt" text-anchor="start">0.4</text>
<text x="271.6" y="438.8" class="rt" text-anchor="start">0.4</text>
<text x="179.8" y="448.9" class="pr" text-anchor="start">(0.0)</text>
<text x="204.6" y="448.9" class="pr" text-anchor="start">(0.0)</text>
<text x="222.6" y="448.9" class="pr" text-anchor="start">(0.0)</text>
<text x="248" y="448.9" class="pr" text-anchor="start">(0.2)</text>
<text x="272.5" y="448.9" class="pr" text-anchor="start">(0.2)</text>
<text x="181.8" y="477.7" class="rt" text-anchor="start">1.0</text>
<text x="204" y="477.7" class="rt" text-anchor="start">0.8</text>
<text x="226.5" y="477.7" class="rt" text-anchor="start">0.8</text>
<text x="248.4" y="477.7" class="rt" text-anchor="start">0.7</text>
<text x="271.6" y="477.7" class="rt" text-anchor="start">0.7</text>
<text x="179.8" y="488.4" class="pr" text-anchor="start">(0.0)</text>
<text x="204.6" y="488.4" class="pr" text-anchor="start">(0.4)</text>
<text x="222.6" y="488.4" class="pr" text-anchor="start">(0.2)</text>
<text x="248" y="488.4" class="pr" text-anchor="start">(0.0)</text>
<text x="272.5" y="488.4" class="pr" text-anchor="start">(0.1)</text>
<text x="181.8" y="517.4" class="rt" text-anchor="start">1.0</text>
<text x="204" y="517.4" class="rt" text-anchor="start">0.9</text>
<text x="226.5" y="517.4" class="rt" text-anchor="start">0.9</text>
<text x="248.4" y="517.4" class="rt" text-anchor="start">0.8</text>
<text x="271.6" y="517.4" class="rt" text-anchor="start">0.7</text>
<text x="179.8" y="527.9" class="pr" text-anchor="start">(0.0)</text>
<text x="204.6" y="527.9" class="pr" text-anchor="start">(0.1)</text>
<text x="222.6" y="527.9" class="pr" text-anchor="start">(0.0)</text>
<text x="248" y="527.9" class="pr" text-anchor="start">(0.0)</text>
<text x="272.5" y="527.9" class="pr" text-anchor="start">(0.1)</text>
</svg>
</body></html>
